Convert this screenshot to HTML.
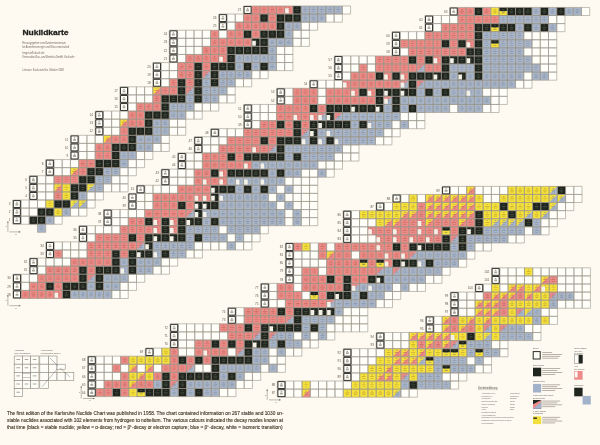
<!DOCTYPE html>
<html><head><meta charset="utf-8"><style>
html,body{margin:0;padding:0;background:#fefaf1;}
#p{position:relative;width:600px;height:445px;overflow:hidden;background:#fefaf1;font-family:"Liberation Sans",sans-serif;}
svg{position:absolute;left:0;top:0;font-family:"Liberation Sans",sans-serif;}
.t{position:absolute;white-space:nowrap;color:#3d3528;}
</style></head><body><div id="p">
<svg width="600" height="445" viewBox="0 0 600 445">
<defs><path id="t" d="M3.3 1.6h1.6v.7h-1.6zM2.2 3.4h3.8v.7h-3.8zM2.6 5.2h3v.6h-3z"/></defs>
<path fill="#fffef9" d="M20.99 216.16h8.24v8.085h-8.24zM53.95 216.16h8.24v8.085h-8.24zM20.99 208.08h8.24v8.085h-8.24zM29.23 208.08h8.24v8.085h-8.24zM70.43 208.08h8.24v8.085h-8.24zM78.67 208.08h8.24v8.085h-8.24zM20.99 200h8.24v8.085h-8.24zM29.23 200h8.24v8.085h-8.24zM37.47 200h8.24v8.085h-8.24zM86.91 200h8.24v8.085h-8.24zM37.47 191.91h8.24v8.085h-8.24zM45.71 191.91h8.24v8.085h-8.24zM86.91 191.91h8.24v8.085h-8.24zM95.15 191.91h8.24v8.085h-8.24zM37.47 183.82h8.24v8.085h-8.24zM45.71 183.82h8.24v8.085h-8.24zM103.39 183.82h8.24v8.085h-8.24zM111.63 183.82h8.24v8.085h-8.24zM119.87 183.82h8.24v8.085h-8.24zM37.47 175.74h8.24v8.085h-8.24zM45.71 175.74h8.24v8.085h-8.24zM111.63 175.74h8.24v8.085h-8.24zM119.87 175.74h8.24v8.085h-8.24zM53.95 167.66h8.24v8.085h-8.24zM62.19 167.66h8.24v8.085h-8.24zM119.87 167.66h8.24v8.085h-8.24zM128.11 167.66h8.24v8.085h-8.24zM53.95 159.57h8.24v8.085h-8.24zM62.19 159.57h8.24v8.085h-8.24zM70.43 159.57h8.24v8.085h-8.24zM128.11 159.57h8.24v8.085h-8.24zM136.35 159.57h8.24v8.085h-8.24zM78.67 151.48h8.24v8.085h-8.24zM86.91 151.48h8.24v8.085h-8.24zM136.35 151.48h8.24v8.085h-8.24zM144.59 151.48h8.24v8.085h-8.24zM78.67 143.4h8.24v8.085h-8.24zM86.91 143.4h8.24v8.085h-8.24zM152.83 143.4h8.24v8.085h-8.24zM161.07 143.4h8.24v8.085h-8.24zM78.67 135.31h8.24v8.085h-8.24zM86.91 135.31h8.24v8.085h-8.24zM95.15 135.31h8.24v8.085h-8.24zM161.07 135.31h8.24v8.085h-8.24zM103.39 127.23h8.24v8.085h-8.24zM111.63 127.23h8.24v8.085h-8.24zM169.31 127.23h8.24v8.085h-8.24zM177.55 127.23h8.24v8.085h-8.24zM103.39 119.14h8.24v8.085h-8.24zM111.63 119.14h8.24v8.085h-8.24zM169.31 119.14h8.24v8.085h-8.24zM177.55 119.14h8.24v8.085h-8.24zM103.39 111.06h8.24v8.085h-8.24zM111.63 111.06h8.24v8.085h-8.24zM119.87 111.06h8.24v8.085h-8.24zM185.79 111.06h8.24v8.085h-8.24zM194.03 111.06h8.24v8.085h-8.24zM128.11 102.97h8.24v8.085h-8.24zM194.03 102.97h8.24v8.085h-8.24zM202.27 102.97h8.24v8.085h-8.24zM210.51 102.97h8.24v8.085h-8.24zM128.11 94.89h8.24v8.085h-8.24zM136.35 94.89h8.24v8.085h-8.24zM144.59 94.89h8.24v8.085h-8.24zM218.75 94.89h8.24v8.085h-8.24zM226.99 94.89h8.24v8.085h-8.24zM128.11 86.8h8.24v8.085h-8.24zM136.35 86.8h8.24v8.085h-8.24zM144.59 86.8h8.24v8.085h-8.24zM226.99 86.8h8.24v8.085h-8.24zM161.07 78.72h8.24v8.085h-8.24zM235.23 78.72h8.24v8.085h-8.24zM243.47 78.72h8.24v8.085h-8.24zM161.07 70.63h8.24v8.085h-8.24zM169.31 70.63h8.24v8.085h-8.24zM251.71 70.63h8.24v8.085h-8.24zM259.95 70.63h8.24v8.085h-8.24zM161.07 62.55h8.24v8.085h-8.24zM169.31 62.55h8.24v8.085h-8.24zM276.43 62.55h8.24v8.085h-8.24zM284.67 62.55h8.24v8.085h-8.24zM177.55 54.46h8.24v8.085h-8.24zM276.43 54.46h8.24v8.085h-8.24zM284.67 54.46h8.24v8.085h-8.24zM177.55 46.38h8.24v8.085h-8.24zM185.79 46.38h8.24v8.085h-8.24zM194.03 46.38h8.24v8.085h-8.24zM276.43 46.38h8.24v8.085h-8.24zM284.67 46.38h8.24v8.085h-8.24zM177.55 38.29h8.24v8.085h-8.24zM185.79 38.29h8.24v8.085h-8.24zM194.03 38.29h8.24v8.085h-8.24zM202.27 38.29h8.24v8.085h-8.24zM292.91 38.29h8.24v8.085h-8.24zM301.15 38.29h8.24v8.085h-8.24zM177.55 30.21h8.24v8.085h-8.24zM185.79 30.21h8.24v8.085h-8.24zM194.03 30.21h8.24v8.085h-8.24zM202.27 30.21h8.24v8.085h-8.24zM218.75 30.21h8.24v8.085h-8.24zM292.91 30.21h8.24v8.085h-8.24zM301.15 30.21h8.24v8.085h-8.24zM226.99 22.12h8.24v8.085h-8.24zM301.15 22.12h8.24v8.085h-8.24zM309.39 22.12h8.24v8.085h-8.24zM226.99 14.04h8.24v8.085h-8.24zM235.23 14.04h8.24v8.085h-8.24zM325.87 14.04h8.24v8.085h-8.24zM334.11 14.04h8.24v8.085h-8.24zM342.35 5.95h8.24v8.085h-8.24zM111.78 290.4h8.24v8.085h-8.24zM120.02 290.4h8.24v8.085h-8.24zM21.14 282.31h8.24v8.085h-8.24zM120.02 282.31h8.24v8.085h-8.24zM128.26 282.31h8.24v8.085h-8.24zM21.14 274.23h8.24v8.085h-8.24zM29.38 274.23h8.24v8.085h-8.24zM128.26 274.23h8.24v8.085h-8.24zM136.5 274.23h8.24v8.085h-8.24zM37.62 266.14h8.24v8.085h-8.24zM152.98 266.14h8.24v8.085h-8.24zM161.22 266.14h8.24v8.085h-8.24zM37.62 258.06h8.24v8.085h-8.24zM45.86 258.06h8.24v8.085h-8.24zM54.1 258.06h8.24v8.085h-8.24zM62.34 258.06h8.24v8.085h-8.24zM161.22 258.06h8.24v8.085h-8.24zM169.46 258.06h8.24v8.085h-8.24zM62.34 249.97h8.24v8.085h-8.24zM70.58 249.97h8.24v8.085h-8.24zM78.82 249.97h8.24v8.085h-8.24zM185.94 249.97h8.24v8.085h-8.24zM194.18 249.97h8.24v8.085h-8.24zM54.1 241.89h8.24v8.085h-8.24zM62.34 241.89h8.24v8.085h-8.24zM70.58 241.89h8.24v8.085h-8.24zM78.82 241.89h8.24v8.085h-8.24zM194.18 241.89h8.24v8.085h-8.24zM202.42 241.89h8.24v8.085h-8.24zM210.66 241.89h8.24v8.085h-8.24zM218.9 241.89h8.24v8.085h-8.24zM235.38 241.89h8.24v8.085h-8.24zM243.62 241.89h8.24v8.085h-8.24zM87.06 233.8h8.24v8.085h-8.24zM227.14 233.8h8.24v8.085h-8.24zM243.62 233.8h8.24v8.085h-8.24zM251.86 233.8h8.24v8.085h-8.24zM87.06 225.72h8.24v8.085h-8.24zM95.3 225.72h8.24v8.085h-8.24zM103.54 225.72h8.24v8.085h-8.24zM111.78 225.72h8.24v8.085h-8.24zM218.9 225.72h8.24v8.085h-8.24zM260.1 225.72h8.24v8.085h-8.24zM111.78 217.63h8.24v8.085h-8.24zM120.02 217.63h8.24v8.085h-8.24zM284.82 217.63h8.24v8.085h-8.24zM301.3 217.63h8.24v8.085h-8.24zM309.54 217.63h8.24v8.085h-8.24zM111.78 209.55h8.24v8.085h-8.24zM120.02 209.55h8.24v8.085h-8.24zM128.26 209.55h8.24v8.085h-8.24zM136.5 209.55h8.24v8.085h-8.24zM284.82 209.55h8.24v8.085h-8.24zM301.3 209.55h8.24v8.085h-8.24zM309.54 209.55h8.24v8.085h-8.24zM136.5 201.46h8.24v8.085h-8.24zM144.74 201.46h8.24v8.085h-8.24zM276.58 201.46h8.24v8.085h-8.24zM293.06 201.46h8.24v8.085h-8.24zM301.3 201.46h8.24v8.085h-8.24zM309.54 201.46h8.24v8.085h-8.24zM136.5 193.38h8.24v8.085h-8.24zM144.74 193.38h8.24v8.085h-8.24zM268.34 193.38h8.24v8.085h-8.24zM284.82 193.38h8.24v8.085h-8.24zM293.06 193.38h8.24v8.085h-8.24zM301.3 193.38h8.24v8.085h-8.24zM309.54 193.38h8.24v8.085h-8.24zM144.74 185.29h8.24v8.085h-8.24zM152.98 185.29h8.24v8.085h-8.24zM161.22 185.29h8.24v8.085h-8.24zM169.46 185.29h8.24v8.085h-8.24zM276.58 185.29h8.24v8.085h-8.24zM293.06 185.29h8.24v8.085h-8.24zM301.3 185.29h8.24v8.085h-8.24zM309.54 185.29h8.24v8.085h-8.24zM169.46 177.21h8.24v8.085h-8.24zM177.7 177.21h8.24v8.085h-8.24zM185.94 177.21h8.24v8.085h-8.24zM284.82 177.21h8.24v8.085h-8.24zM293.06 177.21h8.24v8.085h-8.24zM301.3 177.21h8.24v8.085h-8.24zM309.54 177.21h8.24v8.085h-8.24zM169.46 169.12h8.24v8.085h-8.24zM177.7 169.12h8.24v8.085h-8.24zM185.94 169.12h8.24v8.085h-8.24zM301.3 169.12h8.24v8.085h-8.24zM309.54 169.12h8.24v8.085h-8.24zM326.02 169.12h8.24v8.085h-8.24zM185.94 161.04h8.24v8.085h-8.24zM194.18 161.04h8.24v8.085h-8.24zM317.78 161.04h8.24v8.085h-8.24zM326.02 161.04h8.24v8.085h-8.24zM334.26 161.04h8.24v8.085h-8.24zM185.94 152.95h8.24v8.085h-8.24zM194.18 152.95h8.24v8.085h-8.24zM334.26 152.95h8.24v8.085h-8.24zM342.5 152.95h8.24v8.085h-8.24zM350.74 152.95h8.24v8.085h-8.24zM202.42 144.87h8.24v8.085h-8.24zM210.66 144.87h8.24v8.085h-8.24zM342.5 144.87h8.24v8.085h-8.24zM350.74 144.87h8.24v8.085h-8.24zM202.42 136.78h8.24v8.085h-8.24zM210.66 136.78h8.24v8.085h-8.24zM218.9 136.78h8.24v8.085h-8.24zM375.46 136.78h8.24v8.085h-8.24zM383.7 136.78h8.24v8.085h-8.24zM218.9 128.7h8.24v8.085h-8.24zM227.14 128.7h8.24v8.085h-8.24zM235.38 128.7h8.24v8.085h-8.24zM383.7 128.7h8.24v8.085h-8.24zM391.94 128.7h8.24v8.085h-8.24zM251.86 120.61h8.24v8.085h-8.24zM391.94 120.61h8.24v8.085h-8.24zM408.42 120.61h8.24v8.085h-8.24zM416.66 120.61h8.24v8.085h-8.24zM251.86 112.53h8.24v8.085h-8.24zM260.1 112.53h8.24v8.085h-8.24zM268.34 112.53h8.24v8.085h-8.24zM400.18 112.53h8.24v8.085h-8.24zM408.42 112.53h8.24v8.085h-8.24zM416.66 112.53h8.24v8.085h-8.24zM251.86 104.44h8.24v8.085h-8.24zM260.1 104.44h8.24v8.085h-8.24zM268.34 104.44h8.24v8.085h-8.24zM449.62 104.44h8.24v8.085h-8.24zM482.58 104.44h8.24v8.085h-8.24zM490.82 104.44h8.24v8.085h-8.24zM284.82 96.36h8.24v8.085h-8.24zM317.78 96.36h8.24v8.085h-8.24zM490.82 96.36h8.24v8.085h-8.24zM499.06 96.36h8.24v8.085h-8.24zM284.82 88.27h8.24v8.085h-8.24zM317.78 88.27h8.24v8.085h-8.24zM482.58 88.27h8.24v8.085h-8.24zM490.82 88.27h8.24v8.085h-8.24zM499.06 88.27h8.24v8.085h-8.24zM317.78 80.19h8.24v8.085h-8.24zM326.02 80.19h8.24v8.085h-8.24zM334.26 80.19h8.24v8.085h-8.24zM515.54 80.19h8.24v8.085h-8.24zM523.78 80.19h8.24v8.085h-8.24zM342.5 72.1h8.24v8.085h-8.24zM523.78 72.1h8.24v8.085h-8.24zM548.5 72.1h8.24v8.085h-8.24zM342.5 64.02h8.24v8.085h-8.24zM350.74 64.02h8.24v8.085h-8.24zM367.22 64.02h8.24v8.085h-8.24zM540.26 64.02h8.24v8.085h-8.24zM548.5 64.02h8.24v8.085h-8.24zM342.5 55.93h8.24v8.085h-8.24zM350.74 55.93h8.24v8.085h-8.24zM358.98 55.93h8.24v8.085h-8.24zM367.22 55.93h8.24v8.085h-8.24zM532.02 55.93h8.24v8.085h-8.24zM540.26 55.93h8.24v8.085h-8.24zM548.5 55.93h8.24v8.085h-8.24zM400.18 47.85h8.24v8.085h-8.24zM523.78 47.85h8.24v8.085h-8.24zM532.02 47.85h8.24v8.085h-8.24zM540.26 47.85h8.24v8.085h-8.24zM548.5 47.85h8.24v8.085h-8.24zM532.02 39.76h8.24v8.085h-8.24zM540.26 39.76h8.24v8.085h-8.24zM548.5 39.76h8.24v8.085h-8.24zM400.18 31.68h8.24v8.085h-8.24zM408.42 31.68h8.24v8.085h-8.24zM416.66 31.68h8.24v8.085h-8.24zM523.78 31.68h8.24v8.085h-8.24zM532.02 31.68h8.24v8.085h-8.24zM540.26 31.68h8.24v8.085h-8.24zM548.5 31.68h8.24v8.085h-8.24zM433.14 23.59h8.24v8.085h-8.24zM556.74 23.59h8.24v8.085h-8.24zM433.14 15.51h8.24v8.085h-8.24zM441.38 15.51h8.24v8.085h-8.24zM449.62 15.51h8.24v8.085h-8.24zM548.5 15.51h8.24v8.085h-8.24zM556.74 15.51h8.24v8.085h-8.24zM581.46 7.42h8.24v8.085h-8.24zM219.48 388.5h8.24v8.085h-8.24zM227.72 388.5h8.24v8.085h-8.24zM95.88 380.42h8.24v8.085h-8.24zM235.96 380.42h8.24v8.085h-8.24zM244.2 380.42h8.24v8.085h-8.24zM95.88 372.33h8.24v8.085h-8.24zM104.12 372.33h8.24v8.085h-8.24zM112.36 372.33h8.24v8.085h-8.24zM244.2 372.33h8.24v8.085h-8.24zM252.44 372.33h8.24v8.085h-8.24zM95.88 364.25h8.24v8.085h-8.24zM104.12 364.25h8.24v8.085h-8.24zM120.6 364.25h8.24v8.085h-8.24zM137.08 364.25h8.24v8.085h-8.24zM153.56 364.25h8.24v8.085h-8.24zM194.76 364.25h8.24v8.085h-8.24zM203 364.25h8.24v8.085h-8.24zM260.68 364.25h8.24v8.085h-8.24zM277.16 364.25h8.24v8.085h-8.24zM95.88 356.16h8.24v8.085h-8.24zM104.12 356.16h8.24v8.085h-8.24zM112.36 356.16h8.24v8.085h-8.24zM268.92 356.16h8.24v8.085h-8.24zM277.16 356.16h8.24v8.085h-8.24zM153.56 348.07h8.24v8.085h-8.24zM178.28 348.07h8.24v8.085h-8.24zM186.52 348.07h8.24v8.085h-8.24zM227.72 348.07h8.24v8.085h-8.24zM268.92 348.07h8.24v8.085h-8.24zM285.4 348.07h8.24v8.085h-8.24zM293.64 348.07h8.24v8.085h-8.24zM178.28 339.99h8.24v8.085h-8.24zM186.52 339.99h8.24v8.085h-8.24zM301.88 339.99h8.24v8.085h-8.24zM310.12 339.99h8.24v8.085h-8.24zM178.28 331.9h8.24v8.085h-8.24zM186.52 331.9h8.24v8.085h-8.24zM194.76 331.9h8.24v8.085h-8.24zM203 331.9h8.24v8.085h-8.24zM211.24 331.9h8.24v8.085h-8.24zM219.48 331.9h8.24v8.085h-8.24zM293.64 331.9h8.24v8.085h-8.24zM310.12 331.9h8.24v8.085h-8.24zM326.6 331.9h8.24v8.085h-8.24zM178.28 323.82h8.24v8.085h-8.24zM186.52 323.82h8.24v8.085h-8.24zM194.76 323.82h8.24v8.085h-8.24zM203 323.82h8.24v8.085h-8.24zM211.24 323.82h8.24v8.085h-8.24zM326.6 323.82h8.24v8.085h-8.24zM334.84 323.82h8.24v8.085h-8.24zM343.08 323.82h8.24v8.085h-8.24zM351.32 323.82h8.24v8.085h-8.24zM359.56 323.82h8.24v8.085h-8.24zM235.96 315.74h8.24v8.085h-8.24zM334.84 315.74h8.24v8.085h-8.24zM343.08 315.74h8.24v8.085h-8.24zM351.32 315.74h8.24v8.085h-8.24zM359.56 315.74h8.24v8.085h-8.24zM235.96 307.65h8.24v8.085h-8.24zM343.08 307.65h8.24v8.085h-8.24zM351.32 307.65h8.24v8.085h-8.24zM359.56 307.65h8.24v8.085h-8.24zM268.92 299.56h8.24v8.085h-8.24zM277.16 299.56h8.24v8.085h-8.24zM376.04 299.56h8.24v8.085h-8.24zM384.28 299.56h8.24v8.085h-8.24zM268.92 291.48h8.24v8.085h-8.24zM301.88 291.48h8.24v8.085h-8.24zM384.28 291.48h8.24v8.085h-8.24zM392.52 291.48h8.24v8.085h-8.24zM268.92 283.39h8.24v8.085h-8.24zM293.64 283.39h8.24v8.085h-8.24zM392.52 283.39h8.24v8.085h-8.24zM409 283.39h8.24v8.085h-8.24zM417.24 283.39h8.24v8.085h-8.24zM293.64 275.31h8.24v8.085h-8.24zM425.48 275.31h8.24v8.085h-8.24zM433.72 275.31h8.24v8.085h-8.24zM293.64 267.23h8.24v8.085h-8.24zM318.36 267.23h8.24v8.085h-8.24zM441.96 267.23h8.24v8.085h-8.24zM293.64 259.14h8.24v8.085h-8.24zM301.88 259.14h8.24v8.085h-8.24zM310.12 259.14h8.24v8.085h-8.24zM318.36 259.14h8.24v8.085h-8.24zM458.44 259.14h8.24v8.085h-8.24zM293.64 251.05h8.24v8.085h-8.24zM301.88 251.05h8.24v8.085h-8.24zM310.12 251.05h8.24v8.085h-8.24zM351.32 251.05h8.24v8.085h-8.24zM466.68 251.05h8.24v8.085h-8.24zM310.12 242.97h8.24v8.085h-8.24zM326.6 242.97h8.24v8.085h-8.24zM474.92 242.97h8.24v8.085h-8.24zM483.16 242.97h8.24v8.085h-8.24zM351.32 234.88h8.24v8.085h-8.24zM359.56 234.88h8.24v8.085h-8.24zM367.8 234.88h8.24v8.085h-8.24zM507.88 234.88h8.24v8.085h-8.24zM516.12 234.88h8.24v8.085h-8.24zM351.32 226.8h8.24v8.085h-8.24zM359.56 226.8h8.24v8.085h-8.24zM524.36 226.8h8.24v8.085h-8.24zM540.84 226.8h8.24v8.085h-8.24zM351.32 218.71h8.24v8.085h-8.24zM359.56 218.71h8.24v8.085h-8.24zM367.8 218.71h8.24v8.085h-8.24zM540.84 218.71h8.24v8.085h-8.24zM549.08 218.71h8.24v8.085h-8.24zM351.32 210.63h8.24v8.085h-8.24zM549.08 210.63h8.24v8.085h-8.24zM557.32 210.63h8.24v8.085h-8.24zM384.28 202.54h8.24v8.085h-8.24zM557.32 202.54h8.24v8.085h-8.24zM565.56 202.54h8.24v8.085h-8.24zM400.76 194.46h8.24v8.085h-8.24zM417.24 194.46h8.24v8.085h-8.24zM483.16 194.46h8.24v8.085h-8.24zM491.4 194.46h8.24v8.085h-8.24zM565.56 194.46h8.24v8.085h-8.24zM573.8 194.46h8.24v8.085h-8.24zM450.2 186.37h8.24v8.085h-8.24zM458.44 186.37h8.24v8.085h-8.24zM474.92 186.37h8.24v8.085h-8.24zM483.16 186.37h8.24v8.085h-8.24zM491.4 186.37h8.24v8.085h-8.24zM499.64 186.37h8.24v8.085h-8.24zM565.56 186.37h8.24v8.085h-8.24zM573.8 186.37h8.24v8.085h-8.24zM285.54 389.1h8.24v8.085h-8.24zM293.78 389.1h8.24v8.085h-8.24zM310.26 389.1h8.24v8.085h-8.24zM318.5 389.1h8.24v8.085h-8.24zM326.74 389.1h8.24v8.085h-8.24zM334.98 389.1h8.24v8.085h-8.24zM400.9 389.1h8.24v8.085h-8.24zM409.14 389.1h8.24v8.085h-8.24zM285.54 381.02h8.24v8.085h-8.24zM293.78 381.02h8.24v8.085h-8.24zM310.26 381.02h8.24v8.085h-8.24zM318.5 381.02h8.24v8.085h-8.24zM326.74 381.02h8.24v8.085h-8.24zM334.98 381.02h8.24v8.085h-8.24zM343.22 381.02h8.24v8.085h-8.24zM450.34 381.02h8.24v8.085h-8.24zM351.46 372.93h8.24v8.085h-8.24zM442.1 372.93h8.24v8.085h-8.24zM450.34 372.93h8.24v8.085h-8.24zM458.58 372.93h8.24v8.085h-8.24zM351.46 364.85h8.24v8.085h-8.24zM359.7 364.85h8.24v8.085h-8.24zM475.06 364.85h8.24v8.085h-8.24zM483.3 364.85h8.24v8.085h-8.24zM351.46 356.76h8.24v8.085h-8.24zM359.7 356.76h8.24v8.085h-8.24zM367.94 356.76h8.24v8.085h-8.24zM466.82 356.76h8.24v8.085h-8.24zM483.3 356.76h8.24v8.085h-8.24zM351.46 348.68h8.24v8.085h-8.24zM359.7 348.68h8.24v8.085h-8.24zM367.94 348.68h8.24v8.085h-8.24zM376.18 348.68h8.24v8.085h-8.24zM499.78 348.68h8.24v8.085h-8.24zM384.42 340.59h8.24v8.085h-8.24zM392.66 340.59h8.24v8.085h-8.24zM400.9 340.59h8.24v8.085h-8.24zM491.54 340.59h8.24v8.085h-8.24zM499.78 340.59h8.24v8.085h-8.24zM384.42 332.5h8.24v8.085h-8.24zM392.66 332.5h8.24v8.085h-8.24zM400.9 332.5h8.24v8.085h-8.24zM532.74 332.5h8.24v8.085h-8.24zM433.86 324.42h8.24v8.085h-8.24zM524.5 324.42h8.24v8.085h-8.24zM532.74 324.42h8.24v8.085h-8.24zM433.86 316.34h8.24v8.085h-8.24zM549.22 316.34h8.24v8.085h-8.24zM458.58 308.25h8.24v8.085h-8.24zM466.82 308.25h8.24v8.085h-8.24zM540.98 308.25h8.24v8.085h-8.24zM549.22 308.25h8.24v8.085h-8.24zM458.58 300.17h8.24v8.085h-8.24zM466.82 300.17h8.24v8.085h-8.24zM557.46 300.17h8.24v8.085h-8.24zM565.7 300.17h8.24v8.085h-8.24zM573.94 300.17h8.24v8.085h-8.24zM582.18 300.17h8.24v8.085h-8.24zM458.58 292.08h8.24v8.085h-8.24zM466.82 292.08h8.24v8.085h-8.24zM475.06 292.08h8.24v8.085h-8.24zM573.94 292.08h8.24v8.085h-8.24zM582.18 292.08h8.24v8.085h-8.24zM483.3 284h8.24v8.085h-8.24zM499.78 284h8.24v8.085h-8.24zM557.46 284h8.24v8.085h-8.24zM565.7 284h8.24v8.085h-8.24zM573.94 284h8.24v8.085h-8.24zM582.18 284h8.24v8.085h-8.24zM499.78 275.91h8.24v8.085h-8.24zM508.02 275.91h8.24v8.085h-8.24zM516.26 275.91h8.24v8.085h-8.24zM524.5 275.91h8.24v8.085h-8.24zM532.74 275.91h8.24v8.085h-8.24zM557.46 275.91h8.24v8.085h-8.24zM565.7 275.91h8.24v8.085h-8.24zM573.94 275.91h8.24v8.085h-8.24zM582.18 275.91h8.24v8.085h-8.24zM499.78 267.83h8.24v8.085h-8.24zM508.02 267.83h8.24v8.085h-8.24zM516.26 267.83h8.24v8.085h-8.24zM532.74 267.83h8.24v8.085h-8.24zM540.98 267.83h8.24v8.085h-8.24zM549.22 267.83h8.24v8.085h-8.24zM557.46 267.83h8.24v8.085h-8.24zM565.7 267.83h8.24v8.085h-8.24zM573.94 267.83h8.24v8.085h-8.24zM582.18 267.83h8.24v8.085h-8.24z"/>
<path fill="#fffef9" d="M12.75 216.16h8.24v8.085h-8.24zM12.75 208.08h8.24v8.085h-8.24zM12.75 200h8.24v8.085h-8.24zM29.23 191.91h8.24v8.085h-8.24zM29.23 183.82h8.24v8.085h-8.24zM29.23 175.74h8.24v8.085h-8.24zM45.71 167.66h8.24v8.085h-8.24zM45.71 159.57h8.24v8.085h-8.24zM70.43 151.48h8.24v8.085h-8.24zM70.43 143.4h8.24v8.085h-8.24zM70.43 135.31h8.24v8.085h-8.24zM95.15 127.23h8.24v8.085h-8.24zM95.15 119.14h8.24v8.085h-8.24zM95.15 111.06h8.24v8.085h-8.24zM119.87 102.97h8.24v8.085h-8.24zM119.87 94.89h8.24v8.085h-8.24zM119.87 86.8h8.24v8.085h-8.24zM152.83 78.72h8.24v8.085h-8.24zM152.83 70.63h8.24v8.085h-8.24zM152.83 62.55h8.24v8.085h-8.24zM169.31 54.46h8.24v8.085h-8.24zM169.31 46.38h8.24v8.085h-8.24zM169.31 38.29h8.24v8.085h-8.24zM169.31 30.21h8.24v8.085h-8.24zM218.75 22.12h8.24v8.085h-8.24zM218.75 14.04h8.24v8.085h-8.24zM243.47 5.95h8.24v8.085h-8.24zM12.9 290.4h8.24v8.085h-8.24zM12.9 282.31h8.24v8.085h-8.24zM12.9 274.23h8.24v8.085h-8.24zM29.38 266.14h8.24v8.085h-8.24zM29.38 258.06h8.24v8.085h-8.24zM45.86 249.97h8.24v8.085h-8.24zM45.86 241.89h8.24v8.085h-8.24zM78.82 233.8h8.24v8.085h-8.24zM78.82 225.72h8.24v8.085h-8.24zM103.54 217.63h8.24v8.085h-8.24zM103.54 209.55h8.24v8.085h-8.24zM128.26 201.46h8.24v8.085h-8.24zM128.26 193.38h8.24v8.085h-8.24zM136.5 185.29h8.24v8.085h-8.24zM161.22 177.21h8.24v8.085h-8.24zM161.22 169.12h8.24v8.085h-8.24zM177.7 161.04h8.24v8.085h-8.24zM177.7 152.95h8.24v8.085h-8.24zM194.18 144.87h8.24v8.085h-8.24zM194.18 136.78h8.24v8.085h-8.24zM210.66 128.7h8.24v8.085h-8.24zM243.62 120.61h8.24v8.085h-8.24zM243.62 112.53h8.24v8.085h-8.24zM243.62 104.44h8.24v8.085h-8.24zM276.58 96.36h8.24v8.085h-8.24zM276.58 88.27h8.24v8.085h-8.24zM309.54 80.19h8.24v8.085h-8.24zM334.26 72.1h8.24v8.085h-8.24zM334.26 64.02h8.24v8.085h-8.24zM334.26 55.93h8.24v8.085h-8.24zM391.94 47.85h8.24v8.085h-8.24zM391.94 39.76h8.24v8.085h-8.24zM391.94 31.68h8.24v8.085h-8.24zM424.9 23.59h8.24v8.085h-8.24zM424.9 15.51h8.24v8.085h-8.24zM449.62 7.42h8.24v8.085h-8.24zM87.64 388.5h8.24v8.085h-8.24zM87.64 380.42h8.24v8.085h-8.24zM87.64 372.33h8.24v8.085h-8.24zM87.64 364.25h8.24v8.085h-8.24zM87.64 356.16h8.24v8.085h-8.24zM145.32 348.07h8.24v8.085h-8.24zM170.04 339.99h8.24v8.085h-8.24zM170.04 331.9h8.24v8.085h-8.24zM170.04 323.82h8.24v8.085h-8.24zM227.72 315.74h8.24v8.085h-8.24zM227.72 307.65h8.24v8.085h-8.24zM260.68 299.56h8.24v8.085h-8.24zM260.68 291.48h8.24v8.085h-8.24zM260.68 283.39h8.24v8.085h-8.24zM285.4 275.31h8.24v8.085h-8.24zM285.4 267.23h8.24v8.085h-8.24zM285.4 259.14h8.24v8.085h-8.24zM285.4 251.05h8.24v8.085h-8.24zM285.4 242.97h8.24v8.085h-8.24zM343.08 234.88h8.24v8.085h-8.24zM343.08 226.8h8.24v8.085h-8.24zM343.08 218.71h8.24v8.085h-8.24zM343.08 210.63h8.24v8.085h-8.24zM376.04 202.54h8.24v8.085h-8.24zM392.52 194.46h8.24v8.085h-8.24zM441.96 186.37h8.24v8.085h-8.24zM277.3 389.1h8.24v8.085h-8.24zM277.3 381.02h8.24v8.085h-8.24zM343.22 372.93h8.24v8.085h-8.24zM343.22 364.85h8.24v8.085h-8.24zM343.22 356.76h8.24v8.085h-8.24zM343.22 348.68h8.24v8.085h-8.24zM376.18 340.59h8.24v8.085h-8.24zM376.18 332.5h8.24v8.085h-8.24zM425.62 324.42h8.24v8.085h-8.24zM425.62 316.34h8.24v8.085h-8.24zM450.34 308.25h8.24v8.085h-8.24zM450.34 300.17h8.24v8.085h-8.24zM450.34 292.08h8.24v8.085h-8.24zM475.06 284h8.24v8.085h-8.24zM491.54 275.91h8.24v8.085h-8.24zM491.54 267.83h8.24v8.085h-8.24z"/>
<path fill="#ec8a85" d="M53.95 191.91h8.24v8.085h-8.24zM53.95 183.82h8.24v8.085h-8.24zM53.95 175.74h8.24v8.085h-8.24zM62.19 175.74h8.24v8.085h-8.24zM70.43 175.74h8.24v8.085h-8.24zM70.43 167.66h8.24v8.085h-8.24zM78.67 167.66h8.24v8.085h-8.24zM78.67 159.57h8.24v8.085h-8.24zM86.91 159.57h8.24v8.085h-8.24zM95.15 151.48h8.24v8.085h-8.24zM103.39 151.48h8.24v8.085h-8.24zM95.15 143.4h8.24v8.085h-8.24zM103.39 143.4h8.24v8.085h-8.24zM103.39 135.31h8.24v8.085h-8.24zM111.63 135.31h8.24v8.085h-8.24zM119.87 135.31h8.24v8.085h-8.24zM119.87 127.23h8.24v8.085h-8.24zM119.87 119.14h8.24v8.085h-8.24zM128.11 119.14h8.24v8.085h-8.24zM136.35 119.14h8.24v8.085h-8.24zM128.11 111.06h8.24v8.085h-8.24zM136.35 111.06h8.24v8.085h-8.24zM136.35 102.97h8.24v8.085h-8.24zM144.59 102.97h8.24v8.085h-8.24zM152.83 102.97h8.24v8.085h-8.24zM152.83 94.89h8.24v8.085h-8.24zM152.83 86.8h8.24v8.085h-8.24zM161.07 86.8h8.24v8.085h-8.24zM169.31 86.8h8.24v8.085h-8.24zM169.31 78.72h8.24v8.085h-8.24zM185.79 78.72h8.24v8.085h-8.24zM177.55 70.63h8.24v8.085h-8.24zM185.79 70.63h8.24v8.085h-8.24zM177.55 62.55h8.24v8.085h-8.24zM185.79 62.55h8.24v8.085h-8.24zM202.27 62.55h8.24v8.085h-8.24zM185.79 54.46h8.24v8.085h-8.24zM194.03 54.46h8.24v8.085h-8.24zM202.27 54.46h8.24v8.085h-8.24zM210.51 54.46h8.24v8.085h-8.24zM218.75 54.46h8.24v8.085h-8.24zM202.27 46.38h8.24v8.085h-8.24zM210.51 46.38h8.24v8.085h-8.24zM218.75 46.38h8.24v8.085h-8.24zM210.51 38.29h8.24v8.085h-8.24zM218.75 38.29h8.24v8.085h-8.24zM226.99 38.29h8.24v8.085h-8.24zM235.23 38.29h8.24v8.085h-8.24zM243.47 38.29h8.24v8.085h-8.24zM210.51 30.21h8.24v8.085h-8.24zM226.99 30.21h8.24v8.085h-8.24zM235.23 30.21h8.24v8.085h-8.24zM251.71 30.21h8.24v8.085h-8.24zM235.23 22.12h8.24v8.085h-8.24zM243.47 22.12h8.24v8.085h-8.24zM251.71 22.12h8.24v8.085h-8.24zM259.95 22.12h8.24v8.085h-8.24zM268.19 22.12h8.24v8.085h-8.24zM243.47 14.04h8.24v8.085h-8.24zM251.71 14.04h8.24v8.085h-8.24zM268.19 14.04h8.24v8.085h-8.24zM251.71 5.95h8.24v8.085h-8.24zM259.95 5.95h8.24v8.085h-8.24zM268.19 5.95h8.24v8.085h-8.24zM276.43 5.95h8.24v8.085h-8.24zM284.67 5.95h8.24v8.085h-8.24zM21.14 290.4h8.24v8.085h-8.24zM29.38 290.4h8.24v8.085h-8.24zM37.62 290.4h8.24v8.085h-8.24zM45.86 290.4h8.24v8.085h-8.24zM54.1 290.4h8.24v8.085h-8.24zM29.38 282.31h8.24v8.085h-8.24zM37.62 282.31h8.24v8.085h-8.24zM54.1 282.31h8.24v8.085h-8.24zM37.62 274.23h8.24v8.085h-8.24zM45.86 274.23h8.24v8.085h-8.24zM54.1 274.23h8.24v8.085h-8.24zM62.34 274.23h8.24v8.085h-8.24zM70.58 274.23h8.24v8.085h-8.24zM45.86 266.14h8.24v8.085h-8.24zM54.1 266.14h8.24v8.085h-8.24zM62.34 266.14h8.24v8.085h-8.24zM70.58 266.14h8.24v8.085h-8.24zM87.06 266.14h8.24v8.085h-8.24zM70.58 258.06h8.24v8.085h-8.24zM78.82 258.06h8.24v8.085h-8.24zM87.06 258.06h8.24v8.085h-8.24zM95.3 258.06h8.24v8.085h-8.24zM103.54 258.06h8.24v8.085h-8.24zM54.1 249.97h8.24v8.085h-8.24zM87.06 249.97h8.24v8.085h-8.24zM95.3 249.97h8.24v8.085h-8.24zM103.54 249.97h8.24v8.085h-8.24zM120.02 249.97h8.24v8.085h-8.24zM87.06 241.89h8.24v8.085h-8.24zM95.3 241.89h8.24v8.085h-8.24zM103.54 241.89h8.24v8.085h-8.24zM111.78 241.89h8.24v8.085h-8.24zM120.02 241.89h8.24v8.085h-8.24zM128.26 241.89h8.24v8.085h-8.24zM95.3 233.8h8.24v8.085h-8.24zM103.54 233.8h8.24v8.085h-8.24zM111.78 233.8h8.24v8.085h-8.24zM120.02 233.8h8.24v8.085h-8.24zM136.5 233.8h8.24v8.085h-8.24zM120.02 225.72h8.24v8.085h-8.24zM128.26 225.72h8.24v8.085h-8.24zM136.5 225.72h8.24v8.085h-8.24zM144.74 225.72h8.24v8.085h-8.24zM152.98 225.72h8.24v8.085h-8.24zM169.46 225.72h8.24v8.085h-8.24zM128.26 217.63h8.24v8.085h-8.24zM136.5 217.63h8.24v8.085h-8.24zM152.98 217.63h8.24v8.085h-8.24zM169.46 217.63h8.24v8.085h-8.24zM144.74 209.55h8.24v8.085h-8.24zM152.98 209.55h8.24v8.085h-8.24zM161.22 209.55h8.24v8.085h-8.24zM169.46 209.55h8.24v8.085h-8.24zM177.7 209.55h8.24v8.085h-8.24zM152.98 201.46h8.24v8.085h-8.24zM161.22 201.46h8.24v8.085h-8.24zM169.46 201.46h8.24v8.085h-8.24zM185.94 201.46h8.24v8.085h-8.24zM152.98 193.38h8.24v8.085h-8.24zM161.22 193.38h8.24v8.085h-8.24zM169.46 193.38h8.24v8.085h-8.24zM177.7 193.38h8.24v8.085h-8.24zM185.94 193.38h8.24v8.085h-8.24zM194.18 193.38h8.24v8.085h-8.24zM202.42 193.38h8.24v8.085h-8.24zM177.7 185.29h8.24v8.085h-8.24zM185.94 185.29h8.24v8.085h-8.24zM194.18 185.29h8.24v8.085h-8.24zM202.42 185.29h8.24v8.085h-8.24zM194.18 177.21h8.24v8.085h-8.24zM202.42 177.21h8.24v8.085h-8.24zM210.66 177.21h8.24v8.085h-8.24zM218.9 177.21h8.24v8.085h-8.24zM194.18 169.12h8.24v8.085h-8.24zM202.42 169.12h8.24v8.085h-8.24zM218.9 169.12h8.24v8.085h-8.24zM202.42 161.04h8.24v8.085h-8.24zM210.66 161.04h8.24v8.085h-8.24zM218.9 161.04h8.24v8.085h-8.24zM227.14 161.04h8.24v8.085h-8.24zM235.38 161.04h8.24v8.085h-8.24zM243.62 161.04h8.24v8.085h-8.24zM202.42 152.95h8.24v8.085h-8.24zM210.66 152.95h8.24v8.085h-8.24zM218.9 152.95h8.24v8.085h-8.24zM235.38 152.95h8.24v8.085h-8.24zM218.9 144.87h8.24v8.085h-8.24zM227.14 144.87h8.24v8.085h-8.24zM235.38 144.87h8.24v8.085h-8.24zM243.62 144.87h8.24v8.085h-8.24zM251.86 144.87h8.24v8.085h-8.24zM260.1 144.87h8.24v8.085h-8.24zM227.14 136.78h8.24v8.085h-8.24zM235.38 136.78h8.24v8.085h-8.24zM243.62 136.78h8.24v8.085h-8.24zM251.86 136.78h8.24v8.085h-8.24zM268.34 136.78h8.24v8.085h-8.24zM243.62 128.7h8.24v8.085h-8.24zM251.86 128.7h8.24v8.085h-8.24zM260.1 128.7h8.24v8.085h-8.24zM268.34 128.7h8.24v8.085h-8.24zM276.58 128.7h8.24v8.085h-8.24zM284.82 128.7h8.24v8.085h-8.24zM260.1 120.61h8.24v8.085h-8.24zM268.34 120.61h8.24v8.085h-8.24zM284.82 120.61h8.24v8.085h-8.24zM301.3 120.61h8.24v8.085h-8.24zM276.58 112.53h8.24v8.085h-8.24zM284.82 112.53h8.24v8.085h-8.24zM293.06 112.53h8.24v8.085h-8.24zM301.3 112.53h8.24v8.085h-8.24zM309.54 112.53h8.24v8.085h-8.24zM276.58 104.44h8.24v8.085h-8.24zM284.82 104.44h8.24v8.085h-8.24zM293.06 104.44h8.24v8.085h-8.24zM301.3 104.44h8.24v8.085h-8.24zM317.78 104.44h8.24v8.085h-8.24zM293.06 96.36h8.24v8.085h-8.24zM301.3 96.36h8.24v8.085h-8.24zM309.54 96.36h8.24v8.085h-8.24zM326.02 96.36h8.24v8.085h-8.24zM334.26 96.36h8.24v8.085h-8.24zM342.5 96.36h8.24v8.085h-8.24zM350.74 96.36h8.24v8.085h-8.24zM358.98 96.36h8.24v8.085h-8.24zM367.22 96.36h8.24v8.085h-8.24zM293.06 88.27h8.24v8.085h-8.24zM301.3 88.27h8.24v8.085h-8.24zM309.54 88.27h8.24v8.085h-8.24zM326.02 88.27h8.24v8.085h-8.24zM334.26 88.27h8.24v8.085h-8.24zM342.5 88.27h8.24v8.085h-8.24zM350.74 88.27h8.24v8.085h-8.24zM367.22 88.27h8.24v8.085h-8.24zM342.5 80.19h8.24v8.085h-8.24zM350.74 80.19h8.24v8.085h-8.24zM358.98 80.19h8.24v8.085h-8.24zM367.22 80.19h8.24v8.085h-8.24zM375.46 80.19h8.24v8.085h-8.24zM383.7 80.19h8.24v8.085h-8.24zM391.94 80.19h8.24v8.085h-8.24zM350.74 72.1h8.24v8.085h-8.24zM358.98 72.1h8.24v8.085h-8.24zM367.22 72.1h8.24v8.085h-8.24zM383.7 72.1h8.24v8.085h-8.24zM400.18 72.1h8.24v8.085h-8.24zM358.98 64.02h8.24v8.085h-8.24zM375.46 64.02h8.24v8.085h-8.24zM383.7 64.02h8.24v8.085h-8.24zM391.94 64.02h8.24v8.085h-8.24zM400.18 64.02h8.24v8.085h-8.24zM408.42 64.02h8.24v8.085h-8.24zM424.9 64.02h8.24v8.085h-8.24zM433.14 64.02h8.24v8.085h-8.24zM375.46 55.93h8.24v8.085h-8.24zM383.7 55.93h8.24v8.085h-8.24zM391.94 55.93h8.24v8.085h-8.24zM400.18 55.93h8.24v8.085h-8.24zM416.66 55.93h8.24v8.085h-8.24zM433.14 55.93h8.24v8.085h-8.24zM408.42 47.85h8.24v8.085h-8.24zM416.66 47.85h8.24v8.085h-8.24zM424.9 47.85h8.24v8.085h-8.24zM433.14 47.85h8.24v8.085h-8.24zM441.38 47.85h8.24v8.085h-8.24zM449.62 47.85h8.24v8.085h-8.24zM457.86 47.85h8.24v8.085h-8.24zM400.18 39.76h8.24v8.085h-8.24zM408.42 39.76h8.24v8.085h-8.24zM416.66 39.76h8.24v8.085h-8.24zM424.9 39.76h8.24v8.085h-8.24zM433.14 39.76h8.24v8.085h-8.24zM449.62 39.76h8.24v8.085h-8.24zM466.1 39.76h8.24v8.085h-8.24zM424.9 31.68h8.24v8.085h-8.24zM433.14 31.68h8.24v8.085h-8.24zM441.38 31.68h8.24v8.085h-8.24zM449.62 31.68h8.24v8.085h-8.24zM457.86 31.68h8.24v8.085h-8.24zM466.1 31.68h8.24v8.085h-8.24zM441.38 23.59h8.24v8.085h-8.24zM449.62 23.59h8.24v8.085h-8.24zM457.86 23.59h8.24v8.085h-8.24zM466.1 23.59h8.24v8.085h-8.24zM457.86 15.51h8.24v8.085h-8.24zM466.1 15.51h8.24v8.085h-8.24zM474.34 15.51h8.24v8.085h-8.24zM482.58 15.51h8.24v8.085h-8.24zM490.82 15.51h8.24v8.085h-8.24zM457.86 7.42h8.24v8.085h-8.24zM466.1 7.42h8.24v8.085h-8.24zM482.58 7.42h8.24v8.085h-8.24zM95.88 388.5h8.24v8.085h-8.24zM104.12 388.5h8.24v8.085h-8.24zM120.6 388.5h8.24v8.085h-8.24zM104.12 380.42h8.24v8.085h-8.24zM112.36 380.42h8.24v8.085h-8.24zM120.6 380.42h8.24v8.085h-8.24zM128.84 380.42h8.24v8.085h-8.24zM137.08 380.42h8.24v8.085h-8.24zM145.32 380.42h8.24v8.085h-8.24zM120.6 372.33h8.24v8.085h-8.24zM137.08 372.33h8.24v8.085h-8.24zM153.56 372.33h8.24v8.085h-8.24zM170.04 372.33h8.24v8.085h-8.24zM112.36 364.25h8.24v8.085h-8.24zM128.84 364.25h8.24v8.085h-8.24zM145.32 364.25h8.24v8.085h-8.24zM161.8 364.25h8.24v8.085h-8.24zM170.04 364.25h8.24v8.085h-8.24zM178.28 364.25h8.24v8.085h-8.24zM120.6 356.16h8.24v8.085h-8.24zM170.04 356.16h8.24v8.085h-8.24zM186.52 356.16h8.24v8.085h-8.24zM203 356.16h8.24v8.085h-8.24zM170.04 348.07h8.24v8.085h-8.24zM194.76 348.07h8.24v8.085h-8.24zM203 348.07h8.24v8.085h-8.24zM211.24 348.07h8.24v8.085h-8.24zM219.48 348.07h8.24v8.085h-8.24zM194.76 339.99h8.24v8.085h-8.24zM203 339.99h8.24v8.085h-8.24zM219.48 339.99h8.24v8.085h-8.24zM235.96 339.99h8.24v8.085h-8.24zM227.72 331.9h8.24v8.085h-8.24zM235.96 331.9h8.24v8.085h-8.24zM244.2 331.9h8.24v8.085h-8.24zM219.48 323.82h8.24v8.085h-8.24zM227.72 323.82h8.24v8.085h-8.24zM235.96 323.82h8.24v8.085h-8.24zM252.44 323.82h8.24v8.085h-8.24zM244.2 315.74h8.24v8.085h-8.24zM252.44 315.74h8.24v8.085h-8.24zM260.68 315.74h8.24v8.085h-8.24zM268.92 315.74h8.24v8.085h-8.24zM277.16 315.74h8.24v8.085h-8.24zM244.2 307.65h8.24v8.085h-8.24zM252.44 307.65h8.24v8.085h-8.24zM260.68 307.65h8.24v8.085h-8.24zM268.92 307.65h8.24v8.085h-8.24zM285.4 307.65h8.24v8.085h-8.24zM285.4 299.56h8.24v8.085h-8.24zM293.64 299.56h8.24v8.085h-8.24zM301.88 299.56h8.24v8.085h-8.24zM310.12 299.56h8.24v8.085h-8.24zM318.36 299.56h8.24v8.085h-8.24zM277.16 291.48h8.24v8.085h-8.24zM285.4 291.48h8.24v8.085h-8.24zM293.64 291.48h8.24v8.085h-8.24zM318.36 291.48h8.24v8.085h-8.24zM277.16 283.39h8.24v8.085h-8.24zM285.4 283.39h8.24v8.085h-8.24zM301.88 283.39h8.24v8.085h-8.24zM310.12 283.39h8.24v8.085h-8.24zM318.36 283.39h8.24v8.085h-8.24zM326.6 283.39h8.24v8.085h-8.24zM334.84 283.39h8.24v8.085h-8.24zM301.88 275.31h8.24v8.085h-8.24zM310.12 275.31h8.24v8.085h-8.24zM318.36 275.31h8.24v8.085h-8.24zM334.84 275.31h8.24v8.085h-8.24zM351.32 275.31h8.24v8.085h-8.24zM359.56 275.31h8.24v8.085h-8.24zM301.88 267.23h8.24v8.085h-8.24zM310.12 267.23h8.24v8.085h-8.24zM326.6 267.23h8.24v8.085h-8.24zM334.84 267.23h8.24v8.085h-8.24zM343.08 267.23h8.24v8.085h-8.24zM351.32 267.23h8.24v8.085h-8.24zM359.56 267.23h8.24v8.085h-8.24zM367.8 267.23h8.24v8.085h-8.24zM326.6 259.14h8.24v8.085h-8.24zM334.84 259.14h8.24v8.085h-8.24zM343.08 259.14h8.24v8.085h-8.24zM351.32 259.14h8.24v8.085h-8.24zM367.8 259.14h8.24v8.085h-8.24zM384.28 259.14h8.24v8.085h-8.24zM318.36 251.05h8.24v8.085h-8.24zM326.6 251.05h8.24v8.085h-8.24zM334.84 251.05h8.24v8.085h-8.24zM343.08 251.05h8.24v8.085h-8.24zM359.56 251.05h8.24v8.085h-8.24zM367.8 251.05h8.24v8.085h-8.24zM376.04 251.05h8.24v8.085h-8.24zM384.28 251.05h8.24v8.085h-8.24zM392.52 251.05h8.24v8.085h-8.24zM400.76 251.05h8.24v8.085h-8.24zM293.64 242.97h8.24v8.085h-8.24zM318.36 242.97h8.24v8.085h-8.24zM334.84 242.97h8.24v8.085h-8.24zM343.08 242.97h8.24v8.085h-8.24zM351.32 242.97h8.24v8.085h-8.24zM359.56 242.97h8.24v8.085h-8.24zM367.8 242.97h8.24v8.085h-8.24zM376.04 242.97h8.24v8.085h-8.24zM384.28 242.97h8.24v8.085h-8.24zM400.76 242.97h8.24v8.085h-8.24zM376.04 234.88h8.24v8.085h-8.24zM384.28 234.88h8.24v8.085h-8.24zM392.52 234.88h8.24v8.085h-8.24zM400.76 234.88h8.24v8.085h-8.24zM409 234.88h8.24v8.085h-8.24zM417.24 234.88h8.24v8.085h-8.24zM425.48 234.88h8.24v8.085h-8.24zM433.72 234.88h8.24v8.085h-8.24zM367.8 226.8h8.24v8.085h-8.24zM376.04 226.8h8.24v8.085h-8.24zM384.28 226.8h8.24v8.085h-8.24zM392.52 226.8h8.24v8.085h-8.24zM400.76 226.8h8.24v8.085h-8.24zM409 226.8h8.24v8.085h-8.24zM417.24 226.8h8.24v8.085h-8.24zM425.48 226.8h8.24v8.085h-8.24zM433.72 226.8h8.24v8.085h-8.24zM450.2 226.8h8.24v8.085h-8.24zM384.28 218.71h8.24v8.085h-8.24zM392.52 218.71h8.24v8.085h-8.24zM400.76 218.71h8.24v8.085h-8.24zM409 218.71h8.24v8.085h-8.24zM417.24 218.71h8.24v8.085h-8.24zM425.48 218.71h8.24v8.085h-8.24zM433.72 218.71h8.24v8.085h-8.24zM441.96 218.71h8.24v8.085h-8.24zM450.2 218.71h8.24v8.085h-8.24zM458.44 218.71h8.24v8.085h-8.24zM466.68 218.71h8.24v8.085h-8.24zM400.76 210.63h8.24v8.085h-8.24zM409 210.63h8.24v8.085h-8.24zM417.24 210.63h8.24v8.085h-8.24zM425.48 210.63h8.24v8.085h-8.24zM433.72 210.63h8.24v8.085h-8.24zM441.96 210.63h8.24v8.085h-8.24zM450.2 210.63h8.24v8.085h-8.24zM458.44 210.63h8.24v8.085h-8.24zM466.68 210.63h8.24v8.085h-8.24zM417.24 202.54h8.24v8.085h-8.24zM425.48 202.54h8.24v8.085h-8.24zM433.72 202.54h8.24v8.085h-8.24zM441.96 202.54h8.24v8.085h-8.24zM450.2 202.54h8.24v8.085h-8.24zM458.44 202.54h8.24v8.085h-8.24zM466.68 202.54h8.24v8.085h-8.24zM425.48 194.46h8.24v8.085h-8.24zM433.72 194.46h8.24v8.085h-8.24zM441.96 194.46h8.24v8.085h-8.24zM450.2 194.46h8.24v8.085h-8.24zM458.44 194.46h8.24v8.085h-8.24zM466.68 194.46h8.24v8.085h-8.24zM466.68 186.37h8.24v8.085h-8.24zM302.02 389.1h8.24v8.085h-8.24zM376.18 372.93h8.24v8.085h-8.24zM384.42 372.93h8.24v8.085h-8.24zM384.42 364.85h8.24v8.085h-8.24zM392.66 356.76h8.24v8.085h-8.24zM400.9 356.76h8.24v8.085h-8.24zM409.14 356.76h8.24v8.085h-8.24zM392.66 348.68h8.24v8.085h-8.24zM400.9 348.68h8.24v8.085h-8.24zM417.38 348.68h8.24v8.085h-8.24zM417.38 340.59h8.24v8.085h-8.24zM425.62 340.59h8.24v8.085h-8.24zM433.86 340.59h8.24v8.085h-8.24zM442.1 340.59h8.24v8.085h-8.24zM409.14 332.5h8.24v8.085h-8.24zM417.38 332.5h8.24v8.085h-8.24zM425.62 332.5h8.24v8.085h-8.24zM433.86 332.5h8.24v8.085h-8.24zM442.1 332.5h8.24v8.085h-8.24zM442.1 324.42h8.24v8.085h-8.24zM450.34 324.42h8.24v8.085h-8.24zM458.58 324.42h8.24v8.085h-8.24zM466.82 324.42h8.24v8.085h-8.24zM442.1 316.34h8.24v8.085h-8.24zM450.34 316.34h8.24v8.085h-8.24zM466.82 316.34h8.24v8.085h-8.24zM483.3 316.34h8.24v8.085h-8.24zM475.06 308.25h8.24v8.085h-8.24zM483.3 308.25h8.24v8.085h-8.24zM491.54 308.25h8.24v8.085h-8.24zM499.78 308.25h8.24v8.085h-8.24zM475.06 300.17h8.24v8.085h-8.24zM483.3 300.17h8.24v8.085h-8.24zM491.54 300.17h8.24v8.085h-8.24zM499.78 300.17h8.24v8.085h-8.24zM483.3 292.08h8.24v8.085h-8.24zM491.54 292.08h8.24v8.085h-8.24zM499.78 292.08h8.24v8.085h-8.24zM508.02 292.08h8.24v8.085h-8.24zM516.26 292.08h8.24v8.085h-8.24zM524.5 292.08h8.24v8.085h-8.24zM508.02 284h8.24v8.085h-8.24zM516.26 284h8.24v8.085h-8.24zM532.74 284h8.24v8.085h-8.24zM540.98 275.91h8.24v8.085h-8.24zM549.22 275.91h8.24v8.085h-8.24z"/>
<path fill="#a8b5c9" d="M37.47 224.25h8.24v8.085h-8.24zM45.71 216.16h8.24v8.085h-8.24zM62.19 208.08h8.24v8.085h-8.24zM70.43 200h8.24v8.085h-8.24zM78.67 200h8.24v8.085h-8.24zM78.67 191.91h8.24v8.085h-8.24zM86.91 183.82h8.24v8.085h-8.24zM95.15 183.82h8.24v8.085h-8.24zM95.15 175.74h8.24v8.085h-8.24zM103.39 175.74h8.24v8.085h-8.24zM103.39 167.66h8.24v8.085h-8.24zM111.63 167.66h8.24v8.085h-8.24zM119.87 159.57h8.24v8.085h-8.24zM119.87 151.48h8.24v8.085h-8.24zM128.11 151.48h8.24v8.085h-8.24zM136.35 143.4h8.24v8.085h-8.24zM144.59 143.4h8.24v8.085h-8.24zM136.35 135.31h8.24v8.085h-8.24zM144.59 135.31h8.24v8.085h-8.24zM152.83 135.31h8.24v8.085h-8.24zM152.83 127.23h8.24v8.085h-8.24zM161.07 127.23h8.24v8.085h-8.24zM152.83 119.14h8.24v8.085h-8.24zM161.07 119.14h8.24v8.085h-8.24zM169.31 111.06h8.24v8.085h-8.24zM177.55 111.06h8.24v8.085h-8.24zM169.31 102.97h8.24v8.085h-8.24zM177.55 102.97h8.24v8.085h-8.24zM185.79 102.97h8.24v8.085h-8.24zM185.79 94.89h8.24v8.085h-8.24zM202.27 94.89h8.24v8.085h-8.24zM210.51 94.89h8.24v8.085h-8.24zM185.79 86.8h8.24v8.085h-8.24zM202.27 86.8h8.24v8.085h-8.24zM210.51 86.8h8.24v8.085h-8.24zM218.75 86.8h8.24v8.085h-8.24zM202.27 78.72h8.24v8.085h-8.24zM218.75 78.72h8.24v8.085h-8.24zM226.99 78.72h8.24v8.085h-8.24zM202.27 70.63h8.24v8.085h-8.24zM218.75 70.63h8.24v8.085h-8.24zM226.99 70.63h8.24v8.085h-8.24zM235.23 70.63h8.24v8.085h-8.24zM243.47 70.63h8.24v8.085h-8.24zM235.23 62.55h8.24v8.085h-8.24zM251.71 62.55h8.24v8.085h-8.24zM268.19 62.55h8.24v8.085h-8.24zM235.23 54.46h8.24v8.085h-8.24zM243.47 54.46h8.24v8.085h-8.24zM251.71 54.46h8.24v8.085h-8.24zM259.95 54.46h8.24v8.085h-8.24zM268.19 54.46h8.24v8.085h-8.24zM268.19 46.38h8.24v8.085h-8.24zM268.19 38.29h8.24v8.085h-8.24zM276.43 38.29h8.24v8.085h-8.24zM284.67 38.29h8.24v8.085h-8.24zM284.67 30.21h8.24v8.085h-8.24zM284.67 22.12h8.24v8.085h-8.24zM292.91 22.12h8.24v8.085h-8.24zM301.15 14.04h8.24v8.085h-8.24zM309.39 14.04h8.24v8.085h-8.24zM317.63 14.04h8.24v8.085h-8.24zM301.15 5.95h8.24v8.085h-8.24zM309.39 5.95h8.24v8.085h-8.24zM317.63 5.95h8.24v8.085h-8.24zM325.87 5.95h8.24v8.085h-8.24zM334.11 5.95h8.24v8.085h-8.24zM70.58 290.4h8.24v8.085h-8.24zM78.82 290.4h8.24v8.085h-8.24zM87.06 290.4h8.24v8.085h-8.24zM95.3 290.4h8.24v8.085h-8.24zM103.54 290.4h8.24v8.085h-8.24zM87.06 282.31h8.24v8.085h-8.24zM103.54 282.31h8.24v8.085h-8.24zM111.78 282.31h8.24v8.085h-8.24zM87.06 274.23h8.24v8.085h-8.24zM103.54 274.23h8.24v8.085h-8.24zM111.78 274.23h8.24v8.085h-8.24zM120.02 274.23h8.24v8.085h-8.24zM120.02 266.14h8.24v8.085h-8.24zM136.5 266.14h8.24v8.085h-8.24zM144.74 266.14h8.24v8.085h-8.24zM120.02 258.06h8.24v8.085h-8.24zM136.5 258.06h8.24v8.085h-8.24zM144.74 258.06h8.24v8.085h-8.24zM152.98 258.06h8.24v8.085h-8.24zM152.98 249.97h8.24v8.085h-8.24zM169.46 249.97h8.24v8.085h-8.24zM177.7 249.97h8.24v8.085h-8.24zM136.5 241.89h8.24v8.085h-8.24zM152.98 241.89h8.24v8.085h-8.24zM161.22 241.89h8.24v8.085h-8.24zM169.46 241.89h8.24v8.085h-8.24zM177.7 241.89h8.24v8.085h-8.24zM185.94 241.89h8.24v8.085h-8.24zM227.14 241.89h8.24v8.085h-8.24zM185.94 233.8h8.24v8.085h-8.24zM202.42 233.8h8.24v8.085h-8.24zM210.66 233.8h8.24v8.085h-8.24zM218.9 233.8h8.24v8.085h-8.24zM235.38 233.8h8.24v8.085h-8.24zM185.94 225.72h8.24v8.085h-8.24zM194.18 225.72h8.24v8.085h-8.24zM202.42 225.72h8.24v8.085h-8.24zM210.66 225.72h8.24v8.085h-8.24zM227.14 225.72h8.24v8.085h-8.24zM235.38 225.72h8.24v8.085h-8.24zM243.62 225.72h8.24v8.085h-8.24zM251.86 225.72h8.24v8.085h-8.24zM202.42 217.63h8.24v8.085h-8.24zM218.9 217.63h8.24v8.085h-8.24zM227.14 217.63h8.24v8.085h-8.24zM235.38 217.63h8.24v8.085h-8.24zM243.62 217.63h8.24v8.085h-8.24zM251.86 217.63h8.24v8.085h-8.24zM260.1 217.63h8.24v8.085h-8.24zM268.34 217.63h8.24v8.085h-8.24zM276.58 217.63h8.24v8.085h-8.24zM293.06 217.63h8.24v8.085h-8.24zM185.94 209.55h8.24v8.085h-8.24zM202.42 209.55h8.24v8.085h-8.24zM210.66 209.55h8.24v8.085h-8.24zM218.9 209.55h8.24v8.085h-8.24zM227.14 209.55h8.24v8.085h-8.24zM235.38 209.55h8.24v8.085h-8.24zM243.62 209.55h8.24v8.085h-8.24zM251.86 209.55h8.24v8.085h-8.24zM260.1 209.55h8.24v8.085h-8.24zM268.34 209.55h8.24v8.085h-8.24zM276.58 209.55h8.24v8.085h-8.24zM293.06 209.55h8.24v8.085h-8.24zM218.9 201.46h8.24v8.085h-8.24zM227.14 201.46h8.24v8.085h-8.24zM235.38 201.46h8.24v8.085h-8.24zM243.62 201.46h8.24v8.085h-8.24zM251.86 201.46h8.24v8.085h-8.24zM260.1 201.46h8.24v8.085h-8.24zM268.34 201.46h8.24v8.085h-8.24zM284.82 201.46h8.24v8.085h-8.24zM218.9 193.38h8.24v8.085h-8.24zM227.14 193.38h8.24v8.085h-8.24zM235.38 193.38h8.24v8.085h-8.24zM243.62 193.38h8.24v8.085h-8.24zM251.86 193.38h8.24v8.085h-8.24zM260.1 193.38h8.24v8.085h-8.24zM276.58 193.38h8.24v8.085h-8.24zM235.38 185.29h8.24v8.085h-8.24zM251.86 185.29h8.24v8.085h-8.24zM268.34 185.29h8.24v8.085h-8.24zM284.82 185.29h8.24v8.085h-8.24zM227.14 177.21h8.24v8.085h-8.24zM235.38 177.21h8.24v8.085h-8.24zM243.62 177.21h8.24v8.085h-8.24zM251.86 177.21h8.24v8.085h-8.24zM260.1 177.21h8.24v8.085h-8.24zM268.34 177.21h8.24v8.085h-8.24zM276.58 177.21h8.24v8.085h-8.24zM268.34 169.12h8.24v8.085h-8.24zM284.82 169.12h8.24v8.085h-8.24zM293.06 169.12h8.24v8.085h-8.24zM317.78 169.12h8.24v8.085h-8.24zM251.86 161.04h8.24v8.085h-8.24zM260.1 161.04h8.24v8.085h-8.24zM268.34 161.04h8.24v8.085h-8.24zM276.58 161.04h8.24v8.085h-8.24zM284.82 161.04h8.24v8.085h-8.24zM293.06 161.04h8.24v8.085h-8.24zM301.3 161.04h8.24v8.085h-8.24zM309.54 161.04h8.24v8.085h-8.24zM284.82 152.95h8.24v8.085h-8.24zM301.3 152.95h8.24v8.085h-8.24zM309.54 152.95h8.24v8.085h-8.24zM317.78 152.95h8.24v8.085h-8.24zM326.02 152.95h8.24v8.085h-8.24zM268.34 144.87h8.24v8.085h-8.24zM284.82 144.87h8.24v8.085h-8.24zM293.06 144.87h8.24v8.085h-8.24zM301.3 144.87h8.24v8.085h-8.24zM309.54 144.87h8.24v8.085h-8.24zM317.78 144.87h8.24v8.085h-8.24zM326.02 144.87h8.24v8.085h-8.24zM334.26 144.87h8.24v8.085h-8.24zM301.3 136.78h8.24v8.085h-8.24zM317.78 136.78h8.24v8.085h-8.24zM334.26 136.78h8.24v8.085h-8.24zM342.5 136.78h8.24v8.085h-8.24zM350.74 136.78h8.24v8.085h-8.24zM358.98 136.78h8.24v8.085h-8.24zM367.22 136.78h8.24v8.085h-8.24zM301.3 128.7h8.24v8.085h-8.24zM317.78 128.7h8.24v8.085h-8.24zM326.02 128.7h8.24v8.085h-8.24zM334.26 128.7h8.24v8.085h-8.24zM342.5 128.7h8.24v8.085h-8.24zM350.74 128.7h8.24v8.085h-8.24zM358.98 128.7h8.24v8.085h-8.24zM367.22 128.7h8.24v8.085h-8.24zM375.46 128.7h8.24v8.085h-8.24zM350.74 120.61h8.24v8.085h-8.24zM367.22 120.61h8.24v8.085h-8.24zM375.46 120.61h8.24v8.085h-8.24zM383.7 120.61h8.24v8.085h-8.24zM400.18 120.61h8.24v8.085h-8.24zM317.78 112.53h8.24v8.085h-8.24zM334.26 112.53h8.24v8.085h-8.24zM342.5 112.53h8.24v8.085h-8.24zM350.74 112.53h8.24v8.085h-8.24zM358.98 112.53h8.24v8.085h-8.24zM367.22 112.53h8.24v8.085h-8.24zM375.46 112.53h8.24v8.085h-8.24zM383.7 112.53h8.24v8.085h-8.24zM391.94 112.53h8.24v8.085h-8.24zM383.7 104.44h8.24v8.085h-8.24zM400.18 104.44h8.24v8.085h-8.24zM416.66 104.44h8.24v8.085h-8.24zM424.9 104.44h8.24v8.085h-8.24zM433.14 104.44h8.24v8.085h-8.24zM441.38 104.44h8.24v8.085h-8.24zM457.86 104.44h8.24v8.085h-8.24zM466.1 104.44h8.24v8.085h-8.24zM474.34 104.44h8.24v8.085h-8.24zM383.7 96.36h8.24v8.085h-8.24zM400.18 96.36h8.24v8.085h-8.24zM408.42 96.36h8.24v8.085h-8.24zM416.66 96.36h8.24v8.085h-8.24zM424.9 96.36h8.24v8.085h-8.24zM433.14 96.36h8.24v8.085h-8.24zM441.38 96.36h8.24v8.085h-8.24zM449.62 96.36h8.24v8.085h-8.24zM457.86 96.36h8.24v8.085h-8.24zM466.1 96.36h8.24v8.085h-8.24zM474.34 96.36h8.24v8.085h-8.24zM482.58 96.36h8.24v8.085h-8.24zM416.66 88.27h8.24v8.085h-8.24zM433.14 88.27h8.24v8.085h-8.24zM449.62 88.27h8.24v8.085h-8.24zM457.86 88.27h8.24v8.085h-8.24zM466.1 88.27h8.24v8.085h-8.24zM474.34 88.27h8.24v8.085h-8.24zM400.18 80.19h8.24v8.085h-8.24zM416.66 80.19h8.24v8.085h-8.24zM424.9 80.19h8.24v8.085h-8.24zM433.14 80.19h8.24v8.085h-8.24zM441.38 80.19h8.24v8.085h-8.24zM449.62 80.19h8.24v8.085h-8.24zM457.86 80.19h8.24v8.085h-8.24zM466.1 80.19h8.24v8.085h-8.24zM474.34 80.19h8.24v8.085h-8.24zM482.58 80.19h8.24v8.085h-8.24zM490.82 80.19h8.24v8.085h-8.24zM499.06 80.19h8.24v8.085h-8.24zM507.3 80.19h8.24v8.085h-8.24zM449.62 72.1h8.24v8.085h-8.24zM466.1 72.1h8.24v8.085h-8.24zM482.58 72.1h8.24v8.085h-8.24zM490.82 72.1h8.24v8.085h-8.24zM499.06 72.1h8.24v8.085h-8.24zM507.3 72.1h8.24v8.085h-8.24zM515.54 72.1h8.24v8.085h-8.24zM532.02 72.1h8.24v8.085h-8.24zM540.26 72.1h8.24v8.085h-8.24zM416.66 64.02h8.24v8.085h-8.24zM449.62 64.02h8.24v8.085h-8.24zM457.86 64.02h8.24v8.085h-8.24zM466.1 64.02h8.24v8.085h-8.24zM482.58 64.02h8.24v8.085h-8.24zM490.82 64.02h8.24v8.085h-8.24zM499.06 64.02h8.24v8.085h-8.24zM507.3 64.02h8.24v8.085h-8.24zM515.54 64.02h8.24v8.085h-8.24zM523.78 64.02h8.24v8.085h-8.24zM532.02 64.02h8.24v8.085h-8.24zM482.58 55.93h8.24v8.085h-8.24zM490.82 55.93h8.24v8.085h-8.24zM499.06 55.93h8.24v8.085h-8.24zM507.3 55.93h8.24v8.085h-8.24zM515.54 55.93h8.24v8.085h-8.24zM523.78 55.93h8.24v8.085h-8.24zM482.58 47.85h8.24v8.085h-8.24zM490.82 47.85h8.24v8.085h-8.24zM499.06 47.85h8.24v8.085h-8.24zM507.3 47.85h8.24v8.085h-8.24zM515.54 47.85h8.24v8.085h-8.24zM482.58 39.76h8.24v8.085h-8.24zM499.06 39.76h8.24v8.085h-8.24zM507.3 39.76h8.24v8.085h-8.24zM515.54 39.76h8.24v8.085h-8.24zM523.78 39.76h8.24v8.085h-8.24zM482.58 31.68h8.24v8.085h-8.24zM490.82 31.68h8.24v8.085h-8.24zM499.06 31.68h8.24v8.085h-8.24zM507.3 31.68h8.24v8.085h-8.24zM515.54 31.68h8.24v8.085h-8.24zM515.54 23.59h8.24v8.085h-8.24zM532.02 23.59h8.24v8.085h-8.24zM548.5 23.59h8.24v8.085h-8.24zM499.06 15.51h8.24v8.085h-8.24zM507.3 15.51h8.24v8.085h-8.24zM515.54 15.51h8.24v8.085h-8.24zM523.78 15.51h8.24v8.085h-8.24zM532.02 15.51h8.24v8.085h-8.24zM540.26 15.51h8.24v8.085h-8.24zM532.02 7.42h8.24v8.085h-8.24zM548.5 7.42h8.24v8.085h-8.24zM564.98 7.42h8.24v8.085h-8.24zM573.22 7.42h8.24v8.085h-8.24zM170.04 388.5h8.24v8.085h-8.24zM186.52 388.5h8.24v8.085h-8.24zM203 388.5h8.24v8.085h-8.24zM211.24 388.5h8.24v8.085h-8.24zM153.56 380.42h8.24v8.085h-8.24zM170.04 380.42h8.24v8.085h-8.24zM186.52 380.42h8.24v8.085h-8.24zM194.76 380.42h8.24v8.085h-8.24zM203 380.42h8.24v8.085h-8.24zM211.24 380.42h8.24v8.085h-8.24zM219.48 380.42h8.24v8.085h-8.24zM227.72 380.42h8.24v8.085h-8.24zM219.48 372.33h8.24v8.085h-8.24zM235.96 372.33h8.24v8.085h-8.24zM186.52 364.25h8.24v8.085h-8.24zM219.48 364.25h8.24v8.085h-8.24zM227.72 364.25h8.24v8.085h-8.24zM235.96 364.25h8.24v8.085h-8.24zM244.2 364.25h8.24v8.085h-8.24zM252.44 364.25h8.24v8.085h-8.24zM268.92 364.25h8.24v8.085h-8.24zM252.44 356.16h8.24v8.085h-8.24zM260.68 356.16h8.24v8.085h-8.24zM235.96 348.07h8.24v8.085h-8.24zM252.44 348.07h8.24v8.085h-8.24zM260.68 348.07h8.24v8.085h-8.24zM277.16 348.07h8.24v8.085h-8.24zM268.92 339.99h8.24v8.085h-8.24zM285.4 339.99h8.24v8.085h-8.24zM293.64 339.99h8.24v8.085h-8.24zM252.44 331.9h8.24v8.085h-8.24zM268.92 331.9h8.24v8.085h-8.24zM277.16 331.9h8.24v8.085h-8.24zM285.4 331.9h8.24v8.085h-8.24zM301.88 331.9h8.24v8.085h-8.24zM318.36 331.9h8.24v8.085h-8.24zM301.88 323.82h8.24v8.085h-8.24zM318.36 323.82h8.24v8.085h-8.24zM285.4 315.74h8.24v8.085h-8.24zM301.88 315.74h8.24v8.085h-8.24zM310.12 315.74h8.24v8.085h-8.24zM318.36 315.74h8.24v8.085h-8.24zM326.6 315.74h8.24v8.085h-8.24zM334.84 307.65h8.24v8.085h-8.24zM326.6 299.56h8.24v8.085h-8.24zM334.84 299.56h8.24v8.085h-8.24zM343.08 299.56h8.24v8.085h-8.24zM351.32 299.56h8.24v8.085h-8.24zM359.56 299.56h8.24v8.085h-8.24zM367.8 299.56h8.24v8.085h-8.24zM351.32 291.48h8.24v8.085h-8.24zM367.8 291.48h8.24v8.085h-8.24zM376.04 291.48h8.24v8.085h-8.24zM351.32 283.39h8.24v8.085h-8.24zM359.56 283.39h8.24v8.085h-8.24zM367.8 283.39h8.24v8.085h-8.24zM376.04 283.39h8.24v8.085h-8.24zM384.28 283.39h8.24v8.085h-8.24zM400.76 283.39h8.24v8.085h-8.24zM384.28 275.31h8.24v8.085h-8.24zM392.52 275.31h8.24v8.085h-8.24zM400.76 275.31h8.24v8.085h-8.24zM409 275.31h8.24v8.085h-8.24zM417.24 275.31h8.24v8.085h-8.24zM376.04 267.23h8.24v8.085h-8.24zM384.28 267.23h8.24v8.085h-8.24zM392.52 267.23h8.24v8.085h-8.24zM400.76 267.23h8.24v8.085h-8.24zM409 267.23h8.24v8.085h-8.24zM417.24 267.23h8.24v8.085h-8.24zM425.48 267.23h8.24v8.085h-8.24zM433.72 267.23h8.24v8.085h-8.24zM417.24 259.14h8.24v8.085h-8.24zM433.72 259.14h8.24v8.085h-8.24zM441.96 259.14h8.24v8.085h-8.24zM450.2 259.14h8.24v8.085h-8.24zM409 251.05h8.24v8.085h-8.24zM417.24 251.05h8.24v8.085h-8.24zM425.48 251.05h8.24v8.085h-8.24zM433.72 251.05h8.24v8.085h-8.24zM441.96 251.05h8.24v8.085h-8.24zM450.2 251.05h8.24v8.085h-8.24zM458.44 251.05h8.24v8.085h-8.24zM450.2 242.97h8.24v8.085h-8.24zM466.68 242.97h8.24v8.085h-8.24zM450.2 234.88h8.24v8.085h-8.24zM466.68 234.88h8.24v8.085h-8.24zM474.92 234.88h8.24v8.085h-8.24zM483.16 234.88h8.24v8.085h-8.24zM491.4 234.88h8.24v8.085h-8.24zM499.64 234.88h8.24v8.085h-8.24zM483.16 226.8h8.24v8.085h-8.24zM491.4 226.8h8.24v8.085h-8.24zM499.64 226.8h8.24v8.085h-8.24zM507.88 226.8h8.24v8.085h-8.24zM516.12 226.8h8.24v8.085h-8.24zM532.6 226.8h8.24v8.085h-8.24zM491.4 218.71h8.24v8.085h-8.24zM499.64 218.71h8.24v8.085h-8.24zM507.88 218.71h8.24v8.085h-8.24zM516.12 218.71h8.24v8.085h-8.24zM532.6 218.71h8.24v8.085h-8.24zM524.36 210.63h8.24v8.085h-8.24zM540.84 210.63h8.24v8.085h-8.24zM549.08 202.54h8.24v8.085h-8.24zM549.08 194.46h8.24v8.085h-8.24zM557.32 194.46h8.24v8.085h-8.24zM549.08 186.37h8.24v8.085h-8.24zM392.66 389.1h8.24v8.085h-8.24zM400.9 381.02h8.24v8.085h-8.24zM417.38 381.02h8.24v8.085h-8.24zM425.62 381.02h8.24v8.085h-8.24zM433.86 381.02h8.24v8.085h-8.24zM442.1 381.02h8.24v8.085h-8.24zM400.9 372.93h8.24v8.085h-8.24zM417.38 372.93h8.24v8.085h-8.24zM425.62 372.93h8.24v8.085h-8.24zM433.86 372.93h8.24v8.085h-8.24zM433.86 364.85h8.24v8.085h-8.24zM450.34 364.85h8.24v8.085h-8.24zM458.58 364.85h8.24v8.085h-8.24zM466.82 364.85h8.24v8.085h-8.24zM417.38 356.76h8.24v8.085h-8.24zM433.86 356.76h8.24v8.085h-8.24zM442.1 356.76h8.24v8.085h-8.24zM450.34 356.76h8.24v8.085h-8.24zM458.58 356.76h8.24v8.085h-8.24zM475.06 356.76h8.24v8.085h-8.24zM466.82 348.68h8.24v8.085h-8.24zM483.3 348.68h8.24v8.085h-8.24zM491.54 348.68h8.24v8.085h-8.24zM450.34 340.59h8.24v8.085h-8.24zM466.82 340.59h8.24v8.085h-8.24zM475.06 340.59h8.24v8.085h-8.24zM483.3 340.59h8.24v8.085h-8.24zM483.3 332.5h8.24v8.085h-8.24zM499.78 332.5h8.24v8.085h-8.24zM508.02 332.5h8.24v8.085h-8.24zM516.26 332.5h8.24v8.085h-8.24zM524.5 332.5h8.24v8.085h-8.24zM483.3 324.42h8.24v8.085h-8.24zM499.78 324.42h8.24v8.085h-8.24zM508.02 324.42h8.24v8.085h-8.24zM516.26 324.42h8.24v8.085h-8.24zM532.74 316.34h8.24v8.085h-8.24zM516.26 308.25h8.24v8.085h-8.24zM524.5 308.25h8.24v8.085h-8.24zM532.74 308.25h8.24v8.085h-8.24zM549.22 300.17h8.24v8.085h-8.24zM549.22 292.08h8.24v8.085h-8.24zM557.46 292.08h8.24v8.085h-8.24zM565.7 292.08h8.24v8.085h-8.24z"/>
<path fill="#f5e03c" d="M53.95 208.08h8.24v8.085h-8.24zM45.71 200h8.24v8.085h-8.24zM62.19 191.91h8.24v8.085h-8.24zM62.19 183.82h8.24v8.085h-8.24zM490.82 7.42h8.24v8.085h-8.24zM128.84 388.5h8.24v8.085h-8.24zM128.84 372.33h8.24v8.085h-8.24zM145.32 372.33h8.24v8.085h-8.24zM128.84 356.16h8.24v8.085h-8.24zM137.08 356.16h8.24v8.085h-8.24zM145.32 356.16h8.24v8.085h-8.24zM153.56 356.16h8.24v8.085h-8.24zM161.8 356.16h8.24v8.085h-8.24zM161.8 348.07h8.24v8.085h-8.24zM301.88 242.97h8.24v8.085h-8.24zM376.04 218.71h8.24v8.085h-8.24zM483.16 218.71h8.24v8.085h-8.24zM359.56 210.63h8.24v8.085h-8.24zM367.8 210.63h8.24v8.085h-8.24zM376.04 210.63h8.24v8.085h-8.24zM384.28 210.63h8.24v8.085h-8.24zM392.52 210.63h8.24v8.085h-8.24zM483.16 210.63h8.24v8.085h-8.24zM491.4 210.63h8.24v8.085h-8.24zM499.64 210.63h8.24v8.085h-8.24zM516.12 210.63h8.24v8.085h-8.24zM532.6 210.63h8.24v8.085h-8.24zM392.52 202.54h8.24v8.085h-8.24zM400.76 202.54h8.24v8.085h-8.24zM409 202.54h8.24v8.085h-8.24zM474.92 202.54h8.24v8.085h-8.24zM483.16 202.54h8.24v8.085h-8.24zM491.4 202.54h8.24v8.085h-8.24zM507.88 202.54h8.24v8.085h-8.24zM516.12 202.54h8.24v8.085h-8.24zM524.36 202.54h8.24v8.085h-8.24zM409 194.46h8.24v8.085h-8.24zM474.92 194.46h8.24v8.085h-8.24zM499.64 194.46h8.24v8.085h-8.24zM507.88 194.46h8.24v8.085h-8.24zM516.12 194.46h8.24v8.085h-8.24zM524.36 194.46h8.24v8.085h-8.24zM532.6 194.46h8.24v8.085h-8.24zM540.84 194.46h8.24v8.085h-8.24zM507.88 186.37h8.24v8.085h-8.24zM516.12 186.37h8.24v8.085h-8.24zM524.36 186.37h8.24v8.085h-8.24zM532.6 186.37h8.24v8.085h-8.24zM540.84 186.37h8.24v8.085h-8.24zM343.22 389.1h8.24v8.085h-8.24zM351.46 389.1h8.24v8.085h-8.24zM359.7 389.1h8.24v8.085h-8.24zM367.94 389.1h8.24v8.085h-8.24zM376.18 389.1h8.24v8.085h-8.24zM384.42 389.1h8.24v8.085h-8.24zM302.02 381.02h8.24v8.085h-8.24zM351.46 381.02h8.24v8.085h-8.24zM359.7 381.02h8.24v8.085h-8.24zM367.94 381.02h8.24v8.085h-8.24zM376.18 381.02h8.24v8.085h-8.24zM384.42 381.02h8.24v8.085h-8.24zM392.66 381.02h8.24v8.085h-8.24zM359.7 372.93h8.24v8.085h-8.24zM367.94 372.93h8.24v8.085h-8.24zM392.66 372.93h8.24v8.085h-8.24zM409.14 372.93h8.24v8.085h-8.24zM367.94 364.85h8.24v8.085h-8.24zM376.18 364.85h8.24v8.085h-8.24zM392.66 364.85h8.24v8.085h-8.24zM400.9 364.85h8.24v8.085h-8.24zM409.14 364.85h8.24v8.085h-8.24zM417.38 364.85h8.24v8.085h-8.24zM425.62 364.85h8.24v8.085h-8.24zM376.18 356.76h8.24v8.085h-8.24zM384.42 356.76h8.24v8.085h-8.24zM384.42 348.68h8.24v8.085h-8.24zM409.14 348.68h8.24v8.085h-8.24zM425.62 348.68h8.24v8.085h-8.24zM433.86 348.68h8.24v8.085h-8.24zM458.58 348.68h8.24v8.085h-8.24zM409.14 340.59h8.24v8.085h-8.24zM450.34 332.5h8.24v8.085h-8.24zM458.58 332.5h8.24v8.085h-8.24zM475.06 332.5h8.24v8.085h-8.24zM491.54 332.5h8.24v8.085h-8.24zM475.06 324.42h8.24v8.085h-8.24zM491.54 324.42h8.24v8.085h-8.24zM458.58 316.34h8.24v8.085h-8.24zM475.06 316.34h8.24v8.085h-8.24zM491.54 316.34h8.24v8.085h-8.24zM499.78 316.34h8.24v8.085h-8.24zM508.02 316.34h8.24v8.085h-8.24zM516.26 316.34h8.24v8.085h-8.24zM524.5 316.34h8.24v8.085h-8.24zM540.98 316.34h8.24v8.085h-8.24zM508.02 308.25h8.24v8.085h-8.24zM508.02 300.17h8.24v8.085h-8.24zM516.26 300.17h8.24v8.085h-8.24zM524.5 300.17h8.24v8.085h-8.24zM532.74 300.17h8.24v8.085h-8.24zM540.98 300.17h8.24v8.085h-8.24zM532.74 292.08h8.24v8.085h-8.24zM540.98 292.08h8.24v8.085h-8.24zM491.54 284h8.24v8.085h-8.24zM524.5 284h8.24v8.085h-8.24zM540.98 284h8.24v8.085h-8.24zM549.22 284h8.24v8.085h-8.24zM524.5 267.83h8.24v8.085h-8.24z"/>
<path fill="#1f241e" d="M29.23 216.16h8.24v8.085h-8.24zM37.47 216.16h8.24v8.085h-8.24zM37.47 208.08h8.24v8.085h-8.24zM45.71 208.08h8.24v8.085h-8.24zM53.95 200h8.24v8.085h-8.24zM62.19 200h8.24v8.085h-8.24zM70.43 191.91h8.24v8.085h-8.24zM70.43 183.82h8.24v8.085h-8.24zM78.67 183.82h8.24v8.085h-8.24zM78.67 175.74h8.24v8.085h-8.24zM86.91 175.74h8.24v8.085h-8.24zM86.91 167.66h8.24v8.085h-8.24zM95.15 167.66h8.24v8.085h-8.24zM95.15 159.57h8.24v8.085h-8.24zM103.39 159.57h8.24v8.085h-8.24zM111.63 159.57h8.24v8.085h-8.24zM111.63 151.48h8.24v8.085h-8.24zM111.63 143.4h8.24v8.085h-8.24zM119.87 143.4h8.24v8.085h-8.24zM128.11 143.4h8.24v8.085h-8.24zM128.11 135.31h8.24v8.085h-8.24zM128.11 127.23h8.24v8.085h-8.24zM136.35 127.23h8.24v8.085h-8.24zM144.59 127.23h8.24v8.085h-8.24zM144.59 119.14h8.24v8.085h-8.24zM144.59 111.06h8.24v8.085h-8.24zM152.83 111.06h8.24v8.085h-8.24zM161.07 111.06h8.24v8.085h-8.24zM161.07 102.97h8.24v8.085h-8.24zM161.07 94.89h8.24v8.085h-8.24zM169.31 94.89h8.24v8.085h-8.24zM177.55 94.89h8.24v8.085h-8.24zM194.03 94.89h8.24v8.085h-8.24zM177.55 86.8h8.24v8.085h-8.24zM194.03 86.8h8.24v8.085h-8.24zM177.55 78.72h8.24v8.085h-8.24zM194.03 78.72h8.24v8.085h-8.24zM210.51 78.72h8.24v8.085h-8.24zM194.03 70.63h8.24v8.085h-8.24zM210.51 70.63h8.24v8.085h-8.24zM194.03 62.55h8.24v8.085h-8.24zM210.51 62.55h8.24v8.085h-8.24zM218.75 62.55h8.24v8.085h-8.24zM226.99 62.55h8.24v8.085h-8.24zM243.47 62.55h8.24v8.085h-8.24zM259.95 62.55h8.24v8.085h-8.24zM226.99 54.46h8.24v8.085h-8.24zM226.99 46.38h8.24v8.085h-8.24zM235.23 46.38h8.24v8.085h-8.24zM243.47 46.38h8.24v8.085h-8.24zM251.71 46.38h8.24v8.085h-8.24zM259.95 46.38h8.24v8.085h-8.24zM251.71 38.29h8.24v8.085h-8.24zM259.95 38.29h8.24v8.085h-8.24zM243.47 30.21h8.24v8.085h-8.24zM259.95 30.21h8.24v8.085h-8.24zM268.19 30.21h8.24v8.085h-8.24zM276.43 30.21h8.24v8.085h-8.24zM276.43 22.12h8.24v8.085h-8.24zM259.95 14.04h8.24v8.085h-8.24zM276.43 14.04h8.24v8.085h-8.24zM284.67 14.04h8.24v8.085h-8.24zM292.91 14.04h8.24v8.085h-8.24zM292.91 5.95h8.24v8.085h-8.24zM62.34 290.4h8.24v8.085h-8.24zM45.86 282.31h8.24v8.085h-8.24zM62.34 282.31h8.24v8.085h-8.24zM70.58 282.31h8.24v8.085h-8.24zM78.82 282.31h8.24v8.085h-8.24zM95.3 282.31h8.24v8.085h-8.24zM78.82 274.23h8.24v8.085h-8.24zM95.3 274.23h8.24v8.085h-8.24zM78.82 266.14h8.24v8.085h-8.24zM95.3 266.14h8.24v8.085h-8.24zM103.54 266.14h8.24v8.085h-8.24zM111.78 266.14h8.24v8.085h-8.24zM128.26 266.14h8.24v8.085h-8.24zM111.78 258.06h8.24v8.085h-8.24zM128.26 258.06h8.24v8.085h-8.24zM111.78 249.97h8.24v8.085h-8.24zM128.26 249.97h8.24v8.085h-8.24zM136.5 249.97h8.24v8.085h-8.24zM144.74 249.97h8.24v8.085h-8.24zM161.22 249.97h8.24v8.085h-8.24zM144.74 241.89h8.24v8.085h-8.24zM128.26 233.8h8.24v8.085h-8.24zM144.74 233.8h8.24v8.085h-8.24zM152.98 233.8h8.24v8.085h-8.24zM161.22 233.8h8.24v8.085h-8.24zM169.46 233.8h8.24v8.085h-8.24zM177.7 233.8h8.24v8.085h-8.24zM194.18 233.8h8.24v8.085h-8.24zM161.22 225.72h8.24v8.085h-8.24zM177.7 225.72h8.24v8.085h-8.24zM144.74 217.63h8.24v8.085h-8.24zM161.22 217.63h8.24v8.085h-8.24zM177.7 217.63h8.24v8.085h-8.24zM185.94 217.63h8.24v8.085h-8.24zM194.18 217.63h8.24v8.085h-8.24zM210.66 217.63h8.24v8.085h-8.24zM194.18 209.55h8.24v8.085h-8.24zM177.7 201.46h8.24v8.085h-8.24zM194.18 201.46h8.24v8.085h-8.24zM202.42 201.46h8.24v8.085h-8.24zM210.66 201.46h8.24v8.085h-8.24zM210.66 193.38h8.24v8.085h-8.24zM210.66 185.29h8.24v8.085h-8.24zM218.9 185.29h8.24v8.085h-8.24zM227.14 185.29h8.24v8.085h-8.24zM243.62 185.29h8.24v8.085h-8.24zM260.1 185.29h8.24v8.085h-8.24zM210.66 169.12h8.24v8.085h-8.24zM227.14 169.12h8.24v8.085h-8.24zM235.38 169.12h8.24v8.085h-8.24zM243.62 169.12h8.24v8.085h-8.24zM251.86 169.12h8.24v8.085h-8.24zM260.1 169.12h8.24v8.085h-8.24zM276.58 169.12h8.24v8.085h-8.24zM227.14 152.95h8.24v8.085h-8.24zM243.62 152.95h8.24v8.085h-8.24zM251.86 152.95h8.24v8.085h-8.24zM260.1 152.95h8.24v8.085h-8.24zM268.34 152.95h8.24v8.085h-8.24zM276.58 152.95h8.24v8.085h-8.24zM293.06 152.95h8.24v8.085h-8.24zM276.58 144.87h8.24v8.085h-8.24zM260.1 136.78h8.24v8.085h-8.24zM276.58 136.78h8.24v8.085h-8.24zM284.82 136.78h8.24v8.085h-8.24zM293.06 136.78h8.24v8.085h-8.24zM309.54 136.78h8.24v8.085h-8.24zM326.02 136.78h8.24v8.085h-8.24zM293.06 128.7h8.24v8.085h-8.24zM309.54 128.7h8.24v8.085h-8.24zM276.58 120.61h8.24v8.085h-8.24zM293.06 120.61h8.24v8.085h-8.24zM309.54 120.61h8.24v8.085h-8.24zM317.78 120.61h8.24v8.085h-8.24zM326.02 120.61h8.24v8.085h-8.24zM334.26 120.61h8.24v8.085h-8.24zM342.5 120.61h8.24v8.085h-8.24zM358.98 120.61h8.24v8.085h-8.24zM326.02 112.53h8.24v8.085h-8.24zM309.54 104.44h8.24v8.085h-8.24zM326.02 104.44h8.24v8.085h-8.24zM334.26 104.44h8.24v8.085h-8.24zM342.5 104.44h8.24v8.085h-8.24zM350.74 104.44h8.24v8.085h-8.24zM358.98 104.44h8.24v8.085h-8.24zM367.22 104.44h8.24v8.085h-8.24zM375.46 104.44h8.24v8.085h-8.24zM391.94 104.44h8.24v8.085h-8.24zM408.42 104.44h8.24v8.085h-8.24zM375.46 96.36h8.24v8.085h-8.24zM391.94 96.36h8.24v8.085h-8.24zM358.98 88.27h8.24v8.085h-8.24zM375.46 88.27h8.24v8.085h-8.24zM383.7 88.27h8.24v8.085h-8.24zM391.94 88.27h8.24v8.085h-8.24zM400.18 88.27h8.24v8.085h-8.24zM408.42 88.27h8.24v8.085h-8.24zM424.9 88.27h8.24v8.085h-8.24zM441.38 88.27h8.24v8.085h-8.24zM408.42 80.19h8.24v8.085h-8.24zM375.46 72.1h8.24v8.085h-8.24zM391.94 72.1h8.24v8.085h-8.24zM408.42 72.1h8.24v8.085h-8.24zM416.66 72.1h8.24v8.085h-8.24zM424.9 72.1h8.24v8.085h-8.24zM433.14 72.1h8.24v8.085h-8.24zM441.38 72.1h8.24v8.085h-8.24zM457.86 72.1h8.24v8.085h-8.24zM474.34 72.1h8.24v8.085h-8.24zM441.38 64.02h8.24v8.085h-8.24zM474.34 64.02h8.24v8.085h-8.24zM408.42 55.93h8.24v8.085h-8.24zM424.9 55.93h8.24v8.085h-8.24zM441.38 55.93h8.24v8.085h-8.24zM449.62 55.93h8.24v8.085h-8.24zM457.86 55.93h8.24v8.085h-8.24zM466.1 55.93h8.24v8.085h-8.24zM474.34 55.93h8.24v8.085h-8.24zM466.1 47.85h8.24v8.085h-8.24zM474.34 47.85h8.24v8.085h-8.24zM441.38 39.76h8.24v8.085h-8.24zM457.86 39.76h8.24v8.085h-8.24zM474.34 39.76h8.24v8.085h-8.24zM490.82 39.76h8.24v8.085h-8.24zM474.34 31.68h8.24v8.085h-8.24zM474.34 23.59h8.24v8.085h-8.24zM482.58 23.59h8.24v8.085h-8.24zM490.82 23.59h8.24v8.085h-8.24zM499.06 23.59h8.24v8.085h-8.24zM507.3 23.59h8.24v8.085h-8.24zM523.78 23.59h8.24v8.085h-8.24zM540.26 23.59h8.24v8.085h-8.24zM474.34 7.42h8.24v8.085h-8.24zM499.06 7.42h8.24v8.085h-8.24zM507.3 7.42h8.24v8.085h-8.24zM515.54 7.42h8.24v8.085h-8.24zM523.78 7.42h8.24v8.085h-8.24zM540.26 7.42h8.24v8.085h-8.24zM556.74 7.42h8.24v8.085h-8.24zM112.36 388.5h8.24v8.085h-8.24zM137.08 388.5h8.24v8.085h-8.24zM145.32 388.5h8.24v8.085h-8.24zM153.56 388.5h8.24v8.085h-8.24zM161.8 388.5h8.24v8.085h-8.24zM178.28 388.5h8.24v8.085h-8.24zM194.76 388.5h8.24v8.085h-8.24zM161.8 380.42h8.24v8.085h-8.24zM178.28 380.42h8.24v8.085h-8.24zM161.8 372.33h8.24v8.085h-8.24zM178.28 372.33h8.24v8.085h-8.24zM186.52 372.33h8.24v8.085h-8.24zM194.76 372.33h8.24v8.085h-8.24zM203 372.33h8.24v8.085h-8.24zM211.24 372.33h8.24v8.085h-8.24zM227.72 372.33h8.24v8.085h-8.24zM211.24 364.25h8.24v8.085h-8.24zM178.28 356.16h8.24v8.085h-8.24zM194.76 356.16h8.24v8.085h-8.24zM211.24 356.16h8.24v8.085h-8.24zM219.48 356.16h8.24v8.085h-8.24zM227.72 356.16h8.24v8.085h-8.24zM235.96 356.16h8.24v8.085h-8.24zM244.2 356.16h8.24v8.085h-8.24zM244.2 348.07h8.24v8.085h-8.24zM211.24 339.99h8.24v8.085h-8.24zM227.72 339.99h8.24v8.085h-8.24zM244.2 339.99h8.24v8.085h-8.24zM252.44 339.99h8.24v8.085h-8.24zM260.68 339.99h8.24v8.085h-8.24zM277.16 339.99h8.24v8.085h-8.24zM260.68 331.9h8.24v8.085h-8.24zM244.2 323.82h8.24v8.085h-8.24zM260.68 323.82h8.24v8.085h-8.24zM268.92 323.82h8.24v8.085h-8.24zM277.16 323.82h8.24v8.085h-8.24zM285.4 323.82h8.24v8.085h-8.24zM293.64 323.82h8.24v8.085h-8.24zM310.12 323.82h8.24v8.085h-8.24zM293.64 315.74h8.24v8.085h-8.24zM277.16 307.65h8.24v8.085h-8.24zM293.64 307.65h8.24v8.085h-8.24zM301.88 307.65h8.24v8.085h-8.24zM310.12 307.65h8.24v8.085h-8.24zM318.36 307.65h8.24v8.085h-8.24zM326.6 307.65h8.24v8.085h-8.24zM310.12 291.48h8.24v8.085h-8.24zM326.6 291.48h8.24v8.085h-8.24zM334.84 291.48h8.24v8.085h-8.24zM343.08 291.48h8.24v8.085h-8.24zM359.56 291.48h8.24v8.085h-8.24zM343.08 283.39h8.24v8.085h-8.24zM326.6 275.31h8.24v8.085h-8.24zM343.08 275.31h8.24v8.085h-8.24zM367.8 275.31h8.24v8.085h-8.24zM376.04 275.31h8.24v8.085h-8.24zM359.56 259.14h8.24v8.085h-8.24zM376.04 259.14h8.24v8.085h-8.24zM392.52 259.14h8.24v8.085h-8.24zM400.76 259.14h8.24v8.085h-8.24zM409 259.14h8.24v8.085h-8.24zM425.48 259.14h8.24v8.085h-8.24zM392.52 242.97h8.24v8.085h-8.24zM409 242.97h8.24v8.085h-8.24zM417.24 242.97h8.24v8.085h-8.24zM425.48 242.97h8.24v8.085h-8.24zM433.72 242.97h8.24v8.085h-8.24zM441.96 242.97h8.24v8.085h-8.24zM458.44 242.97h8.24v8.085h-8.24zM441.96 234.88h8.24v8.085h-8.24zM458.44 234.88h8.24v8.085h-8.24zM441.96 226.8h8.24v8.085h-8.24zM458.44 226.8h8.24v8.085h-8.24zM466.68 226.8h8.24v8.085h-8.24zM474.92 226.8h8.24v8.085h-8.24zM474.92 218.71h8.24v8.085h-8.24zM524.36 218.71h8.24v8.085h-8.24zM474.92 210.63h8.24v8.085h-8.24zM507.88 210.63h8.24v8.085h-8.24zM499.64 202.54h8.24v8.085h-8.24zM532.6 202.54h8.24v8.085h-8.24zM540.84 202.54h8.24v8.085h-8.24zM557.32 186.37h8.24v8.085h-8.24zM409.14 381.02h8.24v8.085h-8.24zM442.1 364.85h8.24v8.085h-8.24zM425.62 356.76h8.24v8.085h-8.24zM442.1 348.68h8.24v8.085h-8.24zM450.34 348.68h8.24v8.085h-8.24zM475.06 348.68h8.24v8.085h-8.24zM458.58 340.59h8.24v8.085h-8.24zM466.82 332.5h8.24v8.085h-8.24z"/>
<path fill="#f5e03c" d="M70.43 200h8.24L70.43 208.08zM78.67 200h8.24L78.67 208.08zM53.95 183.82h8.24L53.95 191.91zM86.91 183.82h8.24L86.91 191.91zM70.43 167.66h8.24L70.43 175.74zM103.39 135.31h8.24L103.39 143.4zM119.87 119.14h8.24L119.87 127.23zM152.83 86.8h8.24L152.83 94.89zM490.82 43.4h8.24v4.45h-8.24zM490.82 27.23h8.24v4.45h-8.24zM499.06 11.06h8.24v4.45h-8.24zM137.08 392.14h8.24v4.45h-8.24zM128.84 380.42h8.24L128.84 388.5zM137.08 372.33h8.24L137.08 380.41zM128.84 364.25h8.24L128.84 372.33zM145.32 364.25h8.24L145.32 372.33zM310.12 295.12h8.24v4.45h-8.24zM359.56 262.78h8.24v4.45h-8.24zM376.04 262.78h8.24v4.45h-8.24zM326.6 251.05h8.24L326.6 259.14zM441.96 230.44h8.24v4.45h-8.24zM384.28 218.71h8.24L384.28 226.8zM392.52 218.71h8.24L392.52 226.8zM425.48 218.71h8.24L425.48 226.8zM458.44 218.71h8.24L458.44 226.8zM491.4 218.71h8.24L491.4 226.8zM499.64 218.71h8.24L499.64 226.8zM507.88 218.71h8.24L507.88 226.8zM516.12 218.71h8.24L516.12 226.8zM400.76 210.63h8.24L400.76 218.72zM409 210.63h8.24L409 218.72zM425.48 210.63h8.24L425.48 218.72zM433.72 210.63h8.24L433.72 218.72zM441.96 210.63h8.24L441.96 218.72zM450.2 210.63h8.24L450.2 218.72zM458.44 210.63h8.24L458.44 218.72zM466.68 210.63h8.24L466.68 218.72zM524.36 210.63h8.24L524.36 218.72zM540.84 210.63h8.24L540.84 218.72zM425.48 202.54h8.24L425.48 210.63zM433.72 202.54h8.24L433.72 210.63zM441.96 202.54h8.24L441.96 210.63zM450.2 202.54h8.24L450.2 210.63zM458.44 202.54h8.24L458.44 210.63zM466.68 202.54h8.24L466.68 210.63zM549.08 202.54h8.24L549.08 210.63zM425.48 194.46h8.24L425.48 202.54zM433.72 194.46h8.24L433.72 202.54zM441.96 194.46h8.24L441.96 202.54zM450.2 194.46h8.24L450.2 202.54zM458.44 194.46h8.24L458.44 202.54zM466.68 194.46h8.24L466.68 202.54zM549.08 194.46h8.24L549.08 202.54zM557.32 194.46h8.24L557.32 202.54zM466.68 186.37h8.24L466.68 194.46zM549.08 186.37h8.24L549.08 194.46zM302.02 389.1h8.24L302.02 397.19zM392.66 389.1h8.24L392.66 397.19zM376.18 372.93h8.24L376.18 381.01zM384.42 372.93h8.24L384.42 381.01zM384.42 364.85h8.24L384.42 372.93zM442.1 368.48h8.24v4.45h-8.24zM392.66 356.76h8.24L392.66 364.84zM400.9 356.76h8.24L400.9 364.84zM409.14 356.76h8.24L409.14 364.84zM417.38 356.76h8.24L417.38 364.84zM425.62 360.4h8.24v4.45h-8.24zM392.66 348.68h8.24L392.66 356.76zM400.9 348.68h8.24L400.9 356.76zM417.38 348.68h8.24L417.38 356.76zM442.1 352.31h8.24v4.45h-8.24zM450.34 352.31h8.24v4.45h-8.24zM475.06 352.31h8.24v4.45h-8.24zM425.62 340.59h8.24L425.62 348.68zM442.1 340.59h8.24L442.1 348.68zM458.58 344.23h8.24v4.45h-8.24zM409.14 332.5h8.24L409.14 340.59zM417.38 332.5h8.24L417.38 340.59zM425.62 332.5h8.24L425.62 340.59zM433.86 332.5h8.24L433.86 340.59zM442.1 332.5h8.24L442.1 340.59zM483.3 332.5h8.24L483.3 340.59zM442.1 324.42h8.24L442.1 332.5zM458.58 324.42h8.24L458.58 332.5zM442.1 316.34h8.24L442.1 324.42zM466.82 316.34h8.24L466.82 324.42zM483.3 316.34h8.24L483.3 324.42zM475.06 308.25h8.24L475.06 316.33zM483.3 308.25h8.24L483.3 316.33zM491.54 308.25h8.24L491.54 316.33zM524.5 308.25h8.24L524.5 316.33zM475.06 300.17h8.24L475.06 308.25zM483.3 300.17h8.24L483.3 308.25zM491.54 300.17h8.24L491.54 308.25zM491.54 292.08h8.24L491.54 300.17zM499.78 292.08h8.24L499.78 300.17zM508.02 292.08h8.24L508.02 300.17zM524.5 292.08h8.24L524.5 300.17zM508.02 284h8.24L508.02 292.08zM516.26 284h8.24L516.26 292.08zM532.74 284h8.24L532.74 292.08zM540.98 275.91h8.24L540.98 284z"/>
<path fill="#ec8a85" d="M185.79 86.8h8.24L185.79 94.89zM202.27 70.63h8.24L202.27 78.72zM87.06 274.23h8.24L87.06 282.31zM136.5 241.89h8.24L136.5 249.97zM185.94 209.55h8.24L185.94 217.63zM268.34 144.87h8.24L268.34 152.95zM301.3 128.7h8.24L301.3 136.78zM317.78 112.53h8.24L317.78 120.61zM334.26 112.53h8.24L334.26 120.61zM383.7 96.36h8.24L383.7 104.44zM400.18 80.19h8.24L400.18 88.27zM416.66 80.19h8.24L416.66 88.27zM416.66 64.02h8.24L416.66 72.1zM170.04 380.42h8.24L170.04 388.5zM186.52 364.25h8.24L186.52 372.33zM235.96 348.07h8.24L235.96 356.16zM252.44 331.9h8.24L252.44 339.99zM268.92 331.9h8.24L268.92 339.99zM285.4 315.74h8.24L285.4 323.82zM326.6 299.56h8.24L326.6 307.65zM351.32 283.39h8.24L351.32 291.48zM376.04 267.23h8.24L376.04 275.31zM392.52 267.23h8.24L392.52 275.31zM409 251.05h8.24L409 259.14zM450.2 234.88h8.24L450.2 242.97zM400.9 372.93h8.24L400.9 381.01zM450.34 340.59h8.24L450.34 348.68zM483.3 324.42h8.24L483.3 332.5zM499.78 324.42h8.24L499.78 332.5zM516.26 308.25h8.24L516.26 316.33zM549.22 292.08h8.24L549.22 300.17z"/>
<g fill="#7d879a" opacity="0.75"><use href="#t" x="37.47" y="224.25"/><use href="#t" x="45.71" y="216.16"/><use href="#t" x="62.19" y="208.08"/><use href="#t" x="70.43" y="200"/><use href="#t" x="78.67" y="200"/><use href="#t" x="78.67" y="191.91"/><use href="#t" x="86.91" y="183.82"/><use href="#t" x="95.15" y="183.82"/><use href="#t" x="95.15" y="175.74"/><use href="#t" x="103.39" y="175.74"/><use href="#t" x="103.39" y="167.66"/><use href="#t" x="111.63" y="167.66"/><use href="#t" x="119.87" y="159.57"/><use href="#t" x="119.87" y="151.48"/><use href="#t" x="128.11" y="151.48"/><use href="#t" x="136.35" y="143.4"/><use href="#t" x="144.59" y="143.4"/><use href="#t" x="136.35" y="135.31"/><use href="#t" x="144.59" y="135.31"/><use href="#t" x="152.83" y="135.31"/><use href="#t" x="152.83" y="127.23"/><use href="#t" x="161.07" y="127.23"/><use href="#t" x="152.83" y="119.14"/><use href="#t" x="161.07" y="119.14"/><use href="#t" x="169.31" y="111.06"/><use href="#t" x="177.55" y="111.06"/><use href="#t" x="169.31" y="102.97"/><use href="#t" x="177.55" y="102.97"/><use href="#t" x="185.79" y="102.97"/><use href="#t" x="185.79" y="94.89"/><use href="#t" x="202.27" y="94.89"/><use href="#t" x="210.51" y="94.89"/><use href="#t" x="185.79" y="86.8"/><use href="#t" x="202.27" y="86.8"/><use href="#t" x="210.51" y="86.8"/><use href="#t" x="218.75" y="86.8"/><use href="#t" x="202.27" y="78.72"/><use href="#t" x="218.75" y="78.72"/><use href="#t" x="226.99" y="78.72"/><use href="#t" x="202.27" y="70.63"/><use href="#t" x="218.75" y="70.63"/><use href="#t" x="226.99" y="70.63"/><use href="#t" x="235.23" y="70.63"/><use href="#t" x="243.47" y="70.63"/><use href="#t" x="235.23" y="62.55"/><use href="#t" x="251.71" y="62.55"/><use href="#t" x="268.19" y="62.55"/><use href="#t" x="235.23" y="54.46"/><use href="#t" x="243.47" y="54.46"/><use href="#t" x="251.71" y="54.46"/><use href="#t" x="259.95" y="54.46"/><use href="#t" x="268.19" y="54.46"/><use href="#t" x="268.19" y="46.38"/><use href="#t" x="268.19" y="38.29"/><use href="#t" x="276.43" y="38.29"/><use href="#t" x="284.67" y="38.29"/><use href="#t" x="284.67" y="30.21"/><use href="#t" x="284.67" y="22.12"/><use href="#t" x="292.91" y="22.12"/><use href="#t" x="301.15" y="14.04"/><use href="#t" x="309.39" y="14.04"/><use href="#t" x="317.63" y="14.04"/><use href="#t" x="301.15" y="5.95"/><use href="#t" x="309.39" y="5.95"/><use href="#t" x="317.63" y="5.95"/><use href="#t" x="325.87" y="5.95"/><use href="#t" x="334.11" y="5.95"/><use href="#t" x="70.58" y="290.4"/><use href="#t" x="78.82" y="290.4"/><use href="#t" x="87.06" y="290.4"/><use href="#t" x="95.3" y="290.4"/><use href="#t" x="103.54" y="290.4"/><use href="#t" x="87.06" y="282.31"/><use href="#t" x="103.54" y="282.31"/><use href="#t" x="111.78" y="282.31"/><use href="#t" x="87.06" y="274.23"/><use href="#t" x="103.54" y="274.23"/><use href="#t" x="111.78" y="274.23"/><use href="#t" x="120.02" y="274.23"/><use href="#t" x="120.02" y="266.14"/><use href="#t" x="136.5" y="266.14"/><use href="#t" x="144.74" y="266.14"/><use href="#t" x="120.02" y="258.06"/><use href="#t" x="136.5" y="258.06"/><use href="#t" x="144.74" y="258.06"/><use href="#t" x="152.98" y="258.06"/><use href="#t" x="152.98" y="249.97"/><use href="#t" x="169.46" y="249.97"/><use href="#t" x="177.7" y="249.97"/><use href="#t" x="136.5" y="241.89"/><use href="#t" x="152.98" y="241.89"/><use href="#t" x="161.22" y="241.89"/><use href="#t" x="169.46" y="241.89"/><use href="#t" x="177.7" y="241.89"/><use href="#t" x="185.94" y="241.89"/><use href="#t" x="227.14" y="241.89"/><use href="#t" x="185.94" y="233.8"/><use href="#t" x="202.42" y="233.8"/><use href="#t" x="210.66" y="233.8"/><use href="#t" x="218.9" y="233.8"/><use href="#t" x="235.38" y="233.8"/><use href="#t" x="185.94" y="225.72"/><use href="#t" x="194.18" y="225.72"/><use href="#t" x="202.42" y="225.72"/><use href="#t" x="210.66" y="225.72"/><use href="#t" x="227.14" y="225.72"/><use href="#t" x="235.38" y="225.72"/><use href="#t" x="243.62" y="225.72"/><use href="#t" x="251.86" y="225.72"/><use href="#t" x="202.42" y="217.63"/><use href="#t" x="218.9" y="217.63"/><use href="#t" x="227.14" y="217.63"/><use href="#t" x="235.38" y="217.63"/><use href="#t" x="243.62" y="217.63"/><use href="#t" x="251.86" y="217.63"/><use href="#t" x="260.1" y="217.63"/><use href="#t" x="268.34" y="217.63"/><use href="#t" x="276.58" y="217.63"/><use href="#t" x="293.06" y="217.63"/><use href="#t" x="185.94" y="209.55"/><use href="#t" x="202.42" y="209.55"/><use href="#t" x="210.66" y="209.55"/><use href="#t" x="218.9" y="209.55"/><use href="#t" x="227.14" y="209.55"/><use href="#t" x="235.38" y="209.55"/><use href="#t" x="243.62" y="209.55"/><use href="#t" x="251.86" y="209.55"/><use href="#t" x="260.1" y="209.55"/><use href="#t" x="268.34" y="209.55"/><use href="#t" x="276.58" y="209.55"/><use href="#t" x="293.06" y="209.55"/><use href="#t" x="218.9" y="201.46"/><use href="#t" x="227.14" y="201.46"/><use href="#t" x="235.38" y="201.46"/><use href="#t" x="243.62" y="201.46"/><use href="#t" x="251.86" y="201.46"/><use href="#t" x="260.1" y="201.46"/><use href="#t" x="268.34" y="201.46"/><use href="#t" x="284.82" y="201.46"/><use href="#t" x="218.9" y="193.38"/><use href="#t" x="227.14" y="193.38"/><use href="#t" x="235.38" y="193.38"/><use href="#t" x="243.62" y="193.38"/><use href="#t" x="251.86" y="193.38"/><use href="#t" x="260.1" y="193.38"/><use href="#t" x="276.58" y="193.38"/><use href="#t" x="235.38" y="185.29"/><use href="#t" x="251.86" y="185.29"/><use href="#t" x="268.34" y="185.29"/><use href="#t" x="284.82" y="185.29"/><use href="#t" x="227.14" y="177.21"/><use href="#t" x="235.38" y="177.21"/><use href="#t" x="243.62" y="177.21"/><use href="#t" x="251.86" y="177.21"/><use href="#t" x="260.1" y="177.21"/><use href="#t" x="268.34" y="177.21"/><use href="#t" x="276.58" y="177.21"/><use href="#t" x="268.34" y="169.12"/><use href="#t" x="284.82" y="169.12"/><use href="#t" x="293.06" y="169.12"/><use href="#t" x="317.78" y="169.12"/><use href="#t" x="251.86" y="161.04"/><use href="#t" x="260.1" y="161.04"/><use href="#t" x="268.34" y="161.04"/><use href="#t" x="276.58" y="161.04"/><use href="#t" x="284.82" y="161.04"/><use href="#t" x="293.06" y="161.04"/><use href="#t" x="301.3" y="161.04"/><use href="#t" x="309.54" y="161.04"/><use href="#t" x="284.82" y="152.95"/><use href="#t" x="301.3" y="152.95"/><use href="#t" x="309.54" y="152.95"/><use href="#t" x="317.78" y="152.95"/><use href="#t" x="326.02" y="152.95"/><use href="#t" x="268.34" y="144.87"/><use href="#t" x="284.82" y="144.87"/><use href="#t" x="293.06" y="144.87"/><use href="#t" x="301.3" y="144.87"/><use href="#t" x="309.54" y="144.87"/><use href="#t" x="317.78" y="144.87"/><use href="#t" x="326.02" y="144.87"/><use href="#t" x="334.26" y="144.87"/><use href="#t" x="301.3" y="136.78"/><use href="#t" x="317.78" y="136.78"/><use href="#t" x="334.26" y="136.78"/><use href="#t" x="342.5" y="136.78"/><use href="#t" x="350.74" y="136.78"/><use href="#t" x="358.98" y="136.78"/><use href="#t" x="367.22" y="136.78"/><use href="#t" x="301.3" y="128.7"/><use href="#t" x="317.78" y="128.7"/><use href="#t" x="326.02" y="128.7"/><use href="#t" x="334.26" y="128.7"/><use href="#t" x="342.5" y="128.7"/><use href="#t" x="350.74" y="128.7"/><use href="#t" x="358.98" y="128.7"/><use href="#t" x="367.22" y="128.7"/><use href="#t" x="375.46" y="128.7"/><use href="#t" x="350.74" y="120.61"/><use href="#t" x="367.22" y="120.61"/><use href="#t" x="375.46" y="120.61"/><use href="#t" x="383.7" y="120.61"/><use href="#t" x="400.18" y="120.61"/><use href="#t" x="317.78" y="112.53"/><use href="#t" x="334.26" y="112.53"/><use href="#t" x="342.5" y="112.53"/><use href="#t" x="350.74" y="112.53"/><use href="#t" x="358.98" y="112.53"/><use href="#t" x="367.22" y="112.53"/><use href="#t" x="375.46" y="112.53"/><use href="#t" x="383.7" y="112.53"/><use href="#t" x="391.94" y="112.53"/><use href="#t" x="383.7" y="104.44"/><use href="#t" x="400.18" y="104.44"/><use href="#t" x="416.66" y="104.44"/><use href="#t" x="424.9" y="104.44"/><use href="#t" x="433.14" y="104.44"/><use href="#t" x="441.38" y="104.44"/><use href="#t" x="457.86" y="104.44"/><use href="#t" x="466.1" y="104.44"/><use href="#t" x="474.34" y="104.44"/><use href="#t" x="383.7" y="96.36"/><use href="#t" x="400.18" y="96.36"/><use href="#t" x="408.42" y="96.36"/><use href="#t" x="416.66" y="96.36"/><use href="#t" x="424.9" y="96.36"/><use href="#t" x="433.14" y="96.36"/><use href="#t" x="441.38" y="96.36"/><use href="#t" x="449.62" y="96.36"/><use href="#t" x="457.86" y="96.36"/><use href="#t" x="466.1" y="96.36"/><use href="#t" x="474.34" y="96.36"/><use href="#t" x="482.58" y="96.36"/><use href="#t" x="416.66" y="88.27"/><use href="#t" x="433.14" y="88.27"/><use href="#t" x="449.62" y="88.27"/><use href="#t" x="457.86" y="88.27"/><use href="#t" x="466.1" y="88.27"/><use href="#t" x="474.34" y="88.27"/><use href="#t" x="400.18" y="80.19"/><use href="#t" x="416.66" y="80.19"/><use href="#t" x="424.9" y="80.19"/><use href="#t" x="433.14" y="80.19"/><use href="#t" x="441.38" y="80.19"/><use href="#t" x="449.62" y="80.19"/><use href="#t" x="457.86" y="80.19"/><use href="#t" x="466.1" y="80.19"/><use href="#t" x="474.34" y="80.19"/><use href="#t" x="482.58" y="80.19"/><use href="#t" x="490.82" y="80.19"/><use href="#t" x="499.06" y="80.19"/><use href="#t" x="507.3" y="80.19"/><use href="#t" x="449.62" y="72.1"/><use href="#t" x="466.1" y="72.1"/><use href="#t" x="482.58" y="72.1"/><use href="#t" x="490.82" y="72.1"/><use href="#t" x="499.06" y="72.1"/><use href="#t" x="507.3" y="72.1"/><use href="#t" x="515.54" y="72.1"/><use href="#t" x="532.02" y="72.1"/><use href="#t" x="540.26" y="72.1"/><use href="#t" x="416.66" y="64.02"/><use href="#t" x="449.62" y="64.02"/><use href="#t" x="457.86" y="64.02"/><use href="#t" x="466.1" y="64.02"/><use href="#t" x="482.58" y="64.02"/><use href="#t" x="490.82" y="64.02"/><use href="#t" x="499.06" y="64.02"/><use href="#t" x="507.3" y="64.02"/><use href="#t" x="515.54" y="64.02"/><use href="#t" x="523.78" y="64.02"/><use href="#t" x="532.02" y="64.02"/><use href="#t" x="482.58" y="55.93"/><use href="#t" x="490.82" y="55.93"/><use href="#t" x="499.06" y="55.93"/><use href="#t" x="507.3" y="55.93"/><use href="#t" x="515.54" y="55.93"/><use href="#t" x="523.78" y="55.93"/><use href="#t" x="482.58" y="47.85"/><use href="#t" x="490.82" y="47.85"/><use href="#t" x="499.06" y="47.85"/><use href="#t" x="507.3" y="47.85"/><use href="#t" x="515.54" y="47.85"/><use href="#t" x="482.58" y="39.76"/><use href="#t" x="499.06" y="39.76"/><use href="#t" x="507.3" y="39.76"/><use href="#t" x="515.54" y="39.76"/><use href="#t" x="523.78" y="39.76"/><use href="#t" x="482.58" y="31.68"/><use href="#t" x="490.82" y="31.68"/><use href="#t" x="499.06" y="31.68"/><use href="#t" x="507.3" y="31.68"/><use href="#t" x="515.54" y="31.68"/><use href="#t" x="515.54" y="23.59"/><use href="#t" x="532.02" y="23.59"/><use href="#t" x="548.5" y="23.59"/><use href="#t" x="499.06" y="15.51"/><use href="#t" x="507.3" y="15.51"/><use href="#t" x="515.54" y="15.51"/><use href="#t" x="523.78" y="15.51"/><use href="#t" x="532.02" y="15.51"/><use href="#t" x="540.26" y="15.51"/><use href="#t" x="532.02" y="7.42"/><use href="#t" x="548.5" y="7.42"/><use href="#t" x="564.98" y="7.42"/><use href="#t" x="573.22" y="7.42"/><use href="#t" x="170.04" y="388.5"/><use href="#t" x="186.52" y="388.5"/><use href="#t" x="203" y="388.5"/><use href="#t" x="211.24" y="388.5"/><use href="#t" x="153.56" y="380.42"/><use href="#t" x="170.04" y="380.42"/><use href="#t" x="186.52" y="380.42"/><use href="#t" x="194.76" y="380.42"/><use href="#t" x="203" y="380.42"/><use href="#t" x="211.24" y="380.42"/><use href="#t" x="219.48" y="380.42"/><use href="#t" x="227.72" y="380.42"/><use href="#t" x="219.48" y="372.33"/><use href="#t" x="235.96" y="372.33"/><use href="#t" x="186.52" y="364.25"/><use href="#t" x="219.48" y="364.25"/><use href="#t" x="227.72" y="364.25"/><use href="#t" x="235.96" y="364.25"/><use href="#t" x="244.2" y="364.25"/><use href="#t" x="252.44" y="364.25"/><use href="#t" x="268.92" y="364.25"/><use href="#t" x="252.44" y="356.16"/><use href="#t" x="260.68" y="356.16"/><use href="#t" x="235.96" y="348.07"/><use href="#t" x="252.44" y="348.07"/><use href="#t" x="260.68" y="348.07"/><use href="#t" x="277.16" y="348.07"/><use href="#t" x="268.92" y="339.99"/><use href="#t" x="285.4" y="339.99"/><use href="#t" x="293.64" y="339.99"/><use href="#t" x="252.44" y="331.9"/><use href="#t" x="268.92" y="331.9"/><use href="#t" x="277.16" y="331.9"/><use href="#t" x="285.4" y="331.9"/><use href="#t" x="301.88" y="331.9"/><use href="#t" x="318.36" y="331.9"/><use href="#t" x="301.88" y="323.82"/><use href="#t" x="318.36" y="323.82"/><use href="#t" x="285.4" y="315.74"/><use href="#t" x="301.88" y="315.74"/><use href="#t" x="310.12" y="315.74"/><use href="#t" x="318.36" y="315.74"/><use href="#t" x="326.6" y="315.74"/><use href="#t" x="334.84" y="307.65"/><use href="#t" x="326.6" y="299.56"/><use href="#t" x="334.84" y="299.56"/><use href="#t" x="343.08" y="299.56"/><use href="#t" x="351.32" y="299.56"/><use href="#t" x="359.56" y="299.56"/><use href="#t" x="367.8" y="299.56"/><use href="#t" x="351.32" y="291.48"/><use href="#t" x="367.8" y="291.48"/><use href="#t" x="376.04" y="291.48"/><use href="#t" x="351.32" y="283.39"/><use href="#t" x="359.56" y="283.39"/><use href="#t" x="367.8" y="283.39"/><use href="#t" x="376.04" y="283.39"/><use href="#t" x="384.28" y="283.39"/><use href="#t" x="400.76" y="283.39"/><use href="#t" x="384.28" y="275.31"/><use href="#t" x="392.52" y="275.31"/><use href="#t" x="400.76" y="275.31"/><use href="#t" x="409" y="275.31"/><use href="#t" x="417.24" y="275.31"/><use href="#t" x="376.04" y="267.23"/><use href="#t" x="384.28" y="267.23"/><use href="#t" x="392.52" y="267.23"/><use href="#t" x="400.76" y="267.23"/><use href="#t" x="409" y="267.23"/><use href="#t" x="417.24" y="267.23"/><use href="#t" x="425.48" y="267.23"/><use href="#t" x="433.72" y="267.23"/><use href="#t" x="417.24" y="259.14"/><use href="#t" x="433.72" y="259.14"/><use href="#t" x="441.96" y="259.14"/><use href="#t" x="450.2" y="259.14"/><use href="#t" x="409" y="251.05"/><use href="#t" x="417.24" y="251.05"/><use href="#t" x="425.48" y="251.05"/><use href="#t" x="433.72" y="251.05"/><use href="#t" x="441.96" y="251.05"/><use href="#t" x="450.2" y="251.05"/><use href="#t" x="458.44" y="251.05"/><use href="#t" x="450.2" y="242.97"/><use href="#t" x="466.68" y="242.97"/><use href="#t" x="450.2" y="234.88"/><use href="#t" x="466.68" y="234.88"/><use href="#t" x="474.92" y="234.88"/><use href="#t" x="483.16" y="234.88"/><use href="#t" x="491.4" y="234.88"/><use href="#t" x="499.64" y="234.88"/><use href="#t" x="483.16" y="226.8"/><use href="#t" x="491.4" y="226.8"/><use href="#t" x="499.64" y="226.8"/><use href="#t" x="507.88" y="226.8"/><use href="#t" x="516.12" y="226.8"/><use href="#t" x="532.6" y="226.8"/><use href="#t" x="491.4" y="218.71"/><use href="#t" x="499.64" y="218.71"/><use href="#t" x="507.88" y="218.71"/><use href="#t" x="516.12" y="218.71"/><use href="#t" x="532.6" y="218.71"/><use href="#t" x="524.36" y="210.63"/><use href="#t" x="540.84" y="210.63"/><use href="#t" x="549.08" y="202.54"/><use href="#t" x="549.08" y="194.46"/><use href="#t" x="557.32" y="194.46"/><use href="#t" x="549.08" y="186.37"/><use href="#t" x="392.66" y="389.1"/><use href="#t" x="400.9" y="381.02"/><use href="#t" x="417.38" y="381.02"/><use href="#t" x="425.62" y="381.02"/><use href="#t" x="433.86" y="381.02"/><use href="#t" x="442.1" y="381.02"/><use href="#t" x="400.9" y="372.93"/><use href="#t" x="417.38" y="372.93"/><use href="#t" x="425.62" y="372.93"/><use href="#t" x="433.86" y="372.93"/><use href="#t" x="433.86" y="364.85"/><use href="#t" x="450.34" y="364.85"/><use href="#t" x="458.58" y="364.85"/><use href="#t" x="466.82" y="364.85"/><use href="#t" x="417.38" y="356.76"/><use href="#t" x="433.86" y="356.76"/><use href="#t" x="442.1" y="356.76"/><use href="#t" x="450.34" y="356.76"/><use href="#t" x="458.58" y="356.76"/><use href="#t" x="475.06" y="356.76"/><use href="#t" x="466.82" y="348.68"/><use href="#t" x="483.3" y="348.68"/><use href="#t" x="491.54" y="348.68"/><use href="#t" x="450.34" y="340.59"/><use href="#t" x="466.82" y="340.59"/><use href="#t" x="475.06" y="340.59"/><use href="#t" x="483.3" y="340.59"/><use href="#t" x="483.3" y="332.5"/><use href="#t" x="499.78" y="332.5"/><use href="#t" x="508.02" y="332.5"/><use href="#t" x="516.26" y="332.5"/><use href="#t" x="524.5" y="332.5"/><use href="#t" x="483.3" y="324.42"/><use href="#t" x="499.78" y="324.42"/><use href="#t" x="508.02" y="324.42"/><use href="#t" x="516.26" y="324.42"/><use href="#t" x="532.74" y="316.34"/><use href="#t" x="516.26" y="308.25"/><use href="#t" x="524.5" y="308.25"/><use href="#t" x="532.74" y="308.25"/><use href="#t" x="549.22" y="300.17"/><use href="#t" x="549.22" y="292.08"/><use href="#t" x="557.46" y="292.08"/><use href="#t" x="565.7" y="292.08"/></g>
<g fill="#5d6650" opacity="0.75"><use href="#t" x="29.23" y="216.16"/><use href="#t" x="37.47" y="216.16"/><use href="#t" x="37.47" y="208.08"/><use href="#t" x="45.71" y="208.08"/><use href="#t" x="53.95" y="200"/><use href="#t" x="62.19" y="200"/><use href="#t" x="70.43" y="191.91"/><use href="#t" x="70.43" y="183.82"/><use href="#t" x="78.67" y="183.82"/><use href="#t" x="78.67" y="175.74"/><use href="#t" x="86.91" y="175.74"/><use href="#t" x="86.91" y="167.66"/><use href="#t" x="95.15" y="167.66"/><use href="#t" x="95.15" y="159.57"/><use href="#t" x="103.39" y="159.57"/><use href="#t" x="111.63" y="159.57"/><use href="#t" x="111.63" y="151.48"/><use href="#t" x="111.63" y="143.4"/><use href="#t" x="119.87" y="143.4"/><use href="#t" x="128.11" y="143.4"/><use href="#t" x="128.11" y="135.31"/><use href="#t" x="128.11" y="127.23"/><use href="#t" x="136.35" y="127.23"/><use href="#t" x="144.59" y="127.23"/><use href="#t" x="144.59" y="119.14"/><use href="#t" x="144.59" y="111.06"/><use href="#t" x="152.83" y="111.06"/><use href="#t" x="161.07" y="111.06"/><use href="#t" x="161.07" y="102.97"/><use href="#t" x="161.07" y="94.89"/><use href="#t" x="169.31" y="94.89"/><use href="#t" x="177.55" y="94.89"/><use href="#t" x="194.03" y="94.89"/><use href="#t" x="177.55" y="86.8"/><use href="#t" x="194.03" y="86.8"/><use href="#t" x="177.55" y="78.72"/><use href="#t" x="194.03" y="78.72"/><use href="#t" x="210.51" y="78.72"/><use href="#t" x="194.03" y="70.63"/><use href="#t" x="210.51" y="70.63"/><use href="#t" x="194.03" y="62.55"/><use href="#t" x="210.51" y="62.55"/><use href="#t" x="218.75" y="62.55"/><use href="#t" x="226.99" y="62.55"/><use href="#t" x="243.47" y="62.55"/><use href="#t" x="259.95" y="62.55"/><use href="#t" x="226.99" y="54.46"/><use href="#t" x="226.99" y="46.38"/><use href="#t" x="235.23" y="46.38"/><use href="#t" x="243.47" y="46.38"/><use href="#t" x="251.71" y="46.38"/><use href="#t" x="259.95" y="46.38"/><use href="#t" x="251.71" y="38.29"/><use href="#t" x="259.95" y="38.29"/><use href="#t" x="243.47" y="30.21"/><use href="#t" x="259.95" y="30.21"/><use href="#t" x="268.19" y="30.21"/><use href="#t" x="276.43" y="30.21"/><use href="#t" x="276.43" y="22.12"/><use href="#t" x="259.95" y="14.04"/><use href="#t" x="276.43" y="14.04"/><use href="#t" x="284.67" y="14.04"/><use href="#t" x="292.91" y="14.04"/><use href="#t" x="292.91" y="5.95"/><use href="#t" x="62.34" y="290.4"/><use href="#t" x="45.86" y="282.31"/><use href="#t" x="62.34" y="282.31"/><use href="#t" x="70.58" y="282.31"/><use href="#t" x="78.82" y="282.31"/><use href="#t" x="95.3" y="282.31"/><use href="#t" x="78.82" y="274.23"/><use href="#t" x="95.3" y="274.23"/><use href="#t" x="78.82" y="266.14"/><use href="#t" x="95.3" y="266.14"/><use href="#t" x="103.54" y="266.14"/><use href="#t" x="111.78" y="266.14"/><use href="#t" x="128.26" y="266.14"/><use href="#t" x="111.78" y="258.06"/><use href="#t" x="128.26" y="258.06"/><use href="#t" x="111.78" y="249.97"/><use href="#t" x="128.26" y="249.97"/><use href="#t" x="136.5" y="249.97"/><use href="#t" x="144.74" y="249.97"/><use href="#t" x="161.22" y="249.97"/><use href="#t" x="144.74" y="241.89"/><use href="#t" x="128.26" y="233.8"/><use href="#t" x="144.74" y="233.8"/><use href="#t" x="152.98" y="233.8"/><use href="#t" x="161.22" y="233.8"/><use href="#t" x="169.46" y="233.8"/><use href="#t" x="177.7" y="233.8"/><use href="#t" x="194.18" y="233.8"/><use href="#t" x="161.22" y="225.72"/><use href="#t" x="177.7" y="225.72"/><use href="#t" x="144.74" y="217.63"/><use href="#t" x="161.22" y="217.63"/><use href="#t" x="177.7" y="217.63"/><use href="#t" x="185.94" y="217.63"/><use href="#t" x="194.18" y="217.63"/><use href="#t" x="210.66" y="217.63"/><use href="#t" x="194.18" y="209.55"/><use href="#t" x="177.7" y="201.46"/><use href="#t" x="194.18" y="201.46"/><use href="#t" x="202.42" y="201.46"/><use href="#t" x="210.66" y="201.46"/><use href="#t" x="210.66" y="193.38"/><use href="#t" x="210.66" y="185.29"/><use href="#t" x="218.9" y="185.29"/><use href="#t" x="227.14" y="185.29"/><use href="#t" x="243.62" y="185.29"/><use href="#t" x="260.1" y="185.29"/><use href="#t" x="210.66" y="169.12"/><use href="#t" x="227.14" y="169.12"/><use href="#t" x="235.38" y="169.12"/><use href="#t" x="243.62" y="169.12"/><use href="#t" x="251.86" y="169.12"/><use href="#t" x="260.1" y="169.12"/><use href="#t" x="276.58" y="169.12"/><use href="#t" x="227.14" y="152.95"/><use href="#t" x="243.62" y="152.95"/><use href="#t" x="251.86" y="152.95"/><use href="#t" x="260.1" y="152.95"/><use href="#t" x="268.34" y="152.95"/><use href="#t" x="276.58" y="152.95"/><use href="#t" x="293.06" y="152.95"/><use href="#t" x="276.58" y="144.87"/><use href="#t" x="260.1" y="136.78"/><use href="#t" x="276.58" y="136.78"/><use href="#t" x="284.82" y="136.78"/><use href="#t" x="293.06" y="136.78"/><use href="#t" x="309.54" y="136.78"/><use href="#t" x="326.02" y="136.78"/><use href="#t" x="293.06" y="128.7"/><use href="#t" x="309.54" y="128.7"/><use href="#t" x="276.58" y="120.61"/><use href="#t" x="293.06" y="120.61"/><use href="#t" x="309.54" y="120.61"/><use href="#t" x="317.78" y="120.61"/><use href="#t" x="326.02" y="120.61"/><use href="#t" x="334.26" y="120.61"/><use href="#t" x="342.5" y="120.61"/><use href="#t" x="358.98" y="120.61"/><use href="#t" x="326.02" y="112.53"/><use href="#t" x="309.54" y="104.44"/><use href="#t" x="326.02" y="104.44"/><use href="#t" x="334.26" y="104.44"/><use href="#t" x="342.5" y="104.44"/><use href="#t" x="350.74" y="104.44"/><use href="#t" x="358.98" y="104.44"/><use href="#t" x="367.22" y="104.44"/><use href="#t" x="375.46" y="104.44"/><use href="#t" x="391.94" y="104.44"/><use href="#t" x="408.42" y="104.44"/><use href="#t" x="375.46" y="96.36"/><use href="#t" x="391.94" y="96.36"/><use href="#t" x="358.98" y="88.27"/><use href="#t" x="375.46" y="88.27"/><use href="#t" x="383.7" y="88.27"/><use href="#t" x="391.94" y="88.27"/><use href="#t" x="400.18" y="88.27"/><use href="#t" x="408.42" y="88.27"/><use href="#t" x="424.9" y="88.27"/><use href="#t" x="441.38" y="88.27"/><use href="#t" x="408.42" y="80.19"/><use href="#t" x="375.46" y="72.1"/><use href="#t" x="391.94" y="72.1"/><use href="#t" x="408.42" y="72.1"/><use href="#t" x="416.66" y="72.1"/><use href="#t" x="424.9" y="72.1"/><use href="#t" x="433.14" y="72.1"/><use href="#t" x="441.38" y="72.1"/><use href="#t" x="457.86" y="72.1"/><use href="#t" x="474.34" y="72.1"/><use href="#t" x="441.38" y="64.02"/><use href="#t" x="474.34" y="64.02"/><use href="#t" x="408.42" y="55.93"/><use href="#t" x="424.9" y="55.93"/><use href="#t" x="441.38" y="55.93"/><use href="#t" x="449.62" y="55.93"/><use href="#t" x="457.86" y="55.93"/><use href="#t" x="466.1" y="55.93"/><use href="#t" x="474.34" y="55.93"/><use href="#t" x="466.1" y="47.85"/><use href="#t" x="474.34" y="47.85"/><use href="#t" x="441.38" y="39.76"/><use href="#t" x="457.86" y="39.76"/><use href="#t" x="474.34" y="39.76"/><use href="#t" x="490.82" y="39.76"/><use href="#t" x="474.34" y="31.68"/><use href="#t" x="474.34" y="23.59"/><use href="#t" x="482.58" y="23.59"/><use href="#t" x="490.82" y="23.59"/><use href="#t" x="499.06" y="23.59"/><use href="#t" x="507.3" y="23.59"/><use href="#t" x="523.78" y="23.59"/><use href="#t" x="540.26" y="23.59"/><use href="#t" x="474.34" y="7.42"/><use href="#t" x="499.06" y="7.42"/><use href="#t" x="507.3" y="7.42"/><use href="#t" x="515.54" y="7.42"/><use href="#t" x="523.78" y="7.42"/><use href="#t" x="540.26" y="7.42"/><use href="#t" x="556.74" y="7.42"/><use href="#t" x="112.36" y="388.5"/><use href="#t" x="137.08" y="388.5"/><use href="#t" x="145.32" y="388.5"/><use href="#t" x="153.56" y="388.5"/><use href="#t" x="161.8" y="388.5"/><use href="#t" x="178.28" y="388.5"/><use href="#t" x="194.76" y="388.5"/><use href="#t" x="161.8" y="380.42"/><use href="#t" x="178.28" y="380.42"/><use href="#t" x="161.8" y="372.33"/><use href="#t" x="178.28" y="372.33"/><use href="#t" x="186.52" y="372.33"/><use href="#t" x="194.76" y="372.33"/><use href="#t" x="203" y="372.33"/><use href="#t" x="211.24" y="372.33"/><use href="#t" x="227.72" y="372.33"/><use href="#t" x="211.24" y="364.25"/><use href="#t" x="178.28" y="356.16"/><use href="#t" x="194.76" y="356.16"/><use href="#t" x="211.24" y="356.16"/><use href="#t" x="219.48" y="356.16"/><use href="#t" x="227.72" y="356.16"/><use href="#t" x="235.96" y="356.16"/><use href="#t" x="244.2" y="356.16"/><use href="#t" x="244.2" y="348.07"/><use href="#t" x="211.24" y="339.99"/><use href="#t" x="227.72" y="339.99"/><use href="#t" x="244.2" y="339.99"/><use href="#t" x="252.44" y="339.99"/><use href="#t" x="260.68" y="339.99"/><use href="#t" x="277.16" y="339.99"/><use href="#t" x="260.68" y="331.9"/><use href="#t" x="244.2" y="323.82"/><use href="#t" x="260.68" y="323.82"/><use href="#t" x="268.92" y="323.82"/><use href="#t" x="277.16" y="323.82"/><use href="#t" x="285.4" y="323.82"/><use href="#t" x="293.64" y="323.82"/><use href="#t" x="310.12" y="323.82"/><use href="#t" x="293.64" y="315.74"/><use href="#t" x="277.16" y="307.65"/><use href="#t" x="293.64" y="307.65"/><use href="#t" x="301.88" y="307.65"/><use href="#t" x="310.12" y="307.65"/><use href="#t" x="318.36" y="307.65"/><use href="#t" x="326.6" y="307.65"/><use href="#t" x="310.12" y="291.48"/><use href="#t" x="326.6" y="291.48"/><use href="#t" x="334.84" y="291.48"/><use href="#t" x="343.08" y="291.48"/><use href="#t" x="359.56" y="291.48"/><use href="#t" x="343.08" y="283.39"/><use href="#t" x="326.6" y="275.31"/><use href="#t" x="343.08" y="275.31"/><use href="#t" x="367.8" y="275.31"/><use href="#t" x="376.04" y="275.31"/><use href="#t" x="359.56" y="259.14"/><use href="#t" x="376.04" y="259.14"/><use href="#t" x="392.52" y="259.14"/><use href="#t" x="400.76" y="259.14"/><use href="#t" x="409" y="259.14"/><use href="#t" x="425.48" y="259.14"/><use href="#t" x="392.52" y="242.97"/><use href="#t" x="409" y="242.97"/><use href="#t" x="417.24" y="242.97"/><use href="#t" x="425.48" y="242.97"/><use href="#t" x="433.72" y="242.97"/><use href="#t" x="441.96" y="242.97"/><use href="#t" x="458.44" y="242.97"/><use href="#t" x="441.96" y="234.88"/><use href="#t" x="458.44" y="234.88"/><use href="#t" x="441.96" y="226.8"/><use href="#t" x="458.44" y="226.8"/><use href="#t" x="466.68" y="226.8"/><use href="#t" x="474.92" y="226.8"/><use href="#t" x="474.92" y="218.71"/><use href="#t" x="524.36" y="218.71"/><use href="#t" x="474.92" y="210.63"/><use href="#t" x="507.88" y="210.63"/><use href="#t" x="499.64" y="202.54"/><use href="#t" x="532.6" y="202.54"/><use href="#t" x="540.84" y="202.54"/><use href="#t" x="557.32" y="186.37"/><use href="#t" x="409.14" y="381.02"/><use href="#t" x="442.1" y="364.85"/><use href="#t" x="425.62" y="356.76"/><use href="#t" x="442.1" y="348.68"/><use href="#t" x="450.34" y="348.68"/><use href="#t" x="475.06" y="348.68"/><use href="#t" x="458.58" y="340.59"/><use href="#t" x="466.82" y="332.5"/></g>
<g fill="#b09a2a" opacity="0.75"><use href="#t" x="53.95" y="208.08"/><use href="#t" x="45.71" y="200"/><use href="#t" x="62.19" y="191.91"/><use href="#t" x="62.19" y="183.82"/><use href="#t" x="490.82" y="7.42"/><use href="#t" x="128.84" y="388.5"/><use href="#t" x="128.84" y="372.33"/><use href="#t" x="145.32" y="372.33"/><use href="#t" x="128.84" y="356.16"/><use href="#t" x="137.08" y="356.16"/><use href="#t" x="145.32" y="356.16"/><use href="#t" x="153.56" y="356.16"/><use href="#t" x="161.8" y="356.16"/><use href="#t" x="161.8" y="348.07"/><use href="#t" x="301.88" y="242.97"/><use href="#t" x="376.04" y="218.71"/><use href="#t" x="483.16" y="218.71"/><use href="#t" x="359.56" y="210.63"/><use href="#t" x="367.8" y="210.63"/><use href="#t" x="376.04" y="210.63"/><use href="#t" x="384.28" y="210.63"/><use href="#t" x="392.52" y="210.63"/><use href="#t" x="483.16" y="210.63"/><use href="#t" x="491.4" y="210.63"/><use href="#t" x="499.64" y="210.63"/><use href="#t" x="516.12" y="210.63"/><use href="#t" x="532.6" y="210.63"/><use href="#t" x="392.52" y="202.54"/><use href="#t" x="400.76" y="202.54"/><use href="#t" x="409" y="202.54"/><use href="#t" x="474.92" y="202.54"/><use href="#t" x="483.16" y="202.54"/><use href="#t" x="491.4" y="202.54"/><use href="#t" x="507.88" y="202.54"/><use href="#t" x="516.12" y="202.54"/><use href="#t" x="524.36" y="202.54"/><use href="#t" x="409" y="194.46"/><use href="#t" x="474.92" y="194.46"/><use href="#t" x="499.64" y="194.46"/><use href="#t" x="507.88" y="194.46"/><use href="#t" x="516.12" y="194.46"/><use href="#t" x="524.36" y="194.46"/><use href="#t" x="532.6" y="194.46"/><use href="#t" x="540.84" y="194.46"/><use href="#t" x="507.88" y="186.37"/><use href="#t" x="516.12" y="186.37"/><use href="#t" x="524.36" y="186.37"/><use href="#t" x="532.6" y="186.37"/><use href="#t" x="540.84" y="186.37"/><use href="#t" x="343.22" y="389.1"/><use href="#t" x="351.46" y="389.1"/><use href="#t" x="359.7" y="389.1"/><use href="#t" x="367.94" y="389.1"/><use href="#t" x="376.18" y="389.1"/><use href="#t" x="384.42" y="389.1"/><use href="#t" x="302.02" y="381.02"/><use href="#t" x="351.46" y="381.02"/><use href="#t" x="359.7" y="381.02"/><use href="#t" x="367.94" y="381.02"/><use href="#t" x="376.18" y="381.02"/><use href="#t" x="384.42" y="381.02"/><use href="#t" x="392.66" y="381.02"/><use href="#t" x="359.7" y="372.93"/><use href="#t" x="367.94" y="372.93"/><use href="#t" x="392.66" y="372.93"/><use href="#t" x="409.14" y="372.93"/><use href="#t" x="367.94" y="364.85"/><use href="#t" x="376.18" y="364.85"/><use href="#t" x="392.66" y="364.85"/><use href="#t" x="400.9" y="364.85"/><use href="#t" x="409.14" y="364.85"/><use href="#t" x="417.38" y="364.85"/><use href="#t" x="425.62" y="364.85"/><use href="#t" x="376.18" y="356.76"/><use href="#t" x="384.42" y="356.76"/><use href="#t" x="384.42" y="348.68"/><use href="#t" x="409.14" y="348.68"/><use href="#t" x="425.62" y="348.68"/><use href="#t" x="433.86" y="348.68"/><use href="#t" x="458.58" y="348.68"/><use href="#t" x="409.14" y="340.59"/><use href="#t" x="450.34" y="332.5"/><use href="#t" x="458.58" y="332.5"/><use href="#t" x="475.06" y="332.5"/><use href="#t" x="491.54" y="332.5"/><use href="#t" x="475.06" y="324.42"/><use href="#t" x="491.54" y="324.42"/><use href="#t" x="458.58" y="316.34"/><use href="#t" x="475.06" y="316.34"/><use href="#t" x="491.54" y="316.34"/><use href="#t" x="499.78" y="316.34"/><use href="#t" x="508.02" y="316.34"/><use href="#t" x="516.26" y="316.34"/><use href="#t" x="524.5" y="316.34"/><use href="#t" x="540.98" y="316.34"/><use href="#t" x="508.02" y="308.25"/><use href="#t" x="508.02" y="300.17"/><use href="#t" x="516.26" y="300.17"/><use href="#t" x="524.5" y="300.17"/><use href="#t" x="532.74" y="300.17"/><use href="#t" x="540.98" y="300.17"/><use href="#t" x="532.74" y="292.08"/><use href="#t" x="540.98" y="292.08"/><use href="#t" x="491.54" y="284"/><use href="#t" x="524.5" y="284"/><use href="#t" x="540.98" y="284"/><use href="#t" x="549.22" y="284"/><use href="#t" x="524.5" y="267.83"/></g>
<g fill="#b8625c" opacity="0.75"><use href="#t" x="53.95" y="191.91"/><use href="#t" x="53.95" y="183.82"/><use href="#t" x="53.95" y="175.74"/><use href="#t" x="62.19" y="175.74"/><use href="#t" x="70.43" y="175.74"/><use href="#t" x="70.43" y="167.66"/><use href="#t" x="78.67" y="167.66"/><use href="#t" x="78.67" y="159.57"/><use href="#t" x="86.91" y="159.57"/><use href="#t" x="95.15" y="151.48"/><use href="#t" x="103.39" y="151.48"/><use href="#t" x="95.15" y="143.4"/><use href="#t" x="103.39" y="143.4"/><use href="#t" x="103.39" y="135.31"/><use href="#t" x="111.63" y="135.31"/><use href="#t" x="119.87" y="135.31"/><use href="#t" x="119.87" y="127.23"/><use href="#t" x="119.87" y="119.14"/><use href="#t" x="128.11" y="119.14"/><use href="#t" x="136.35" y="119.14"/><use href="#t" x="128.11" y="111.06"/><use href="#t" x="136.35" y="111.06"/><use href="#t" x="136.35" y="102.97"/><use href="#t" x="144.59" y="102.97"/><use href="#t" x="152.83" y="102.97"/><use href="#t" x="152.83" y="94.89"/><use href="#t" x="152.83" y="86.8"/><use href="#t" x="161.07" y="86.8"/><use href="#t" x="169.31" y="86.8"/><use href="#t" x="169.31" y="78.72"/><use href="#t" x="185.79" y="78.72"/><use href="#t" x="177.55" y="70.63"/><use href="#t" x="185.79" y="70.63"/><use href="#t" x="177.55" y="62.55"/><use href="#t" x="185.79" y="62.55"/><use href="#t" x="202.27" y="62.55"/><use href="#t" x="185.79" y="54.46"/><use href="#t" x="194.03" y="54.46"/><use href="#t" x="202.27" y="54.46"/><use href="#t" x="210.51" y="54.46"/><use href="#t" x="218.75" y="54.46"/><use href="#t" x="202.27" y="46.38"/><use href="#t" x="210.51" y="46.38"/><use href="#t" x="218.75" y="46.38"/><use href="#t" x="210.51" y="38.29"/><use href="#t" x="218.75" y="38.29"/><use href="#t" x="226.99" y="38.29"/><use href="#t" x="235.23" y="38.29"/><use href="#t" x="243.47" y="38.29"/><use href="#t" x="210.51" y="30.21"/><use href="#t" x="226.99" y="30.21"/><use href="#t" x="235.23" y="30.21"/><use href="#t" x="251.71" y="30.21"/><use href="#t" x="235.23" y="22.12"/><use href="#t" x="243.47" y="22.12"/><use href="#t" x="251.71" y="22.12"/><use href="#t" x="259.95" y="22.12"/><use href="#t" x="268.19" y="22.12"/><use href="#t" x="243.47" y="14.04"/><use href="#t" x="251.71" y="14.04"/><use href="#t" x="268.19" y="14.04"/><use href="#t" x="251.71" y="5.95"/><use href="#t" x="259.95" y="5.95"/><use href="#t" x="268.19" y="5.95"/><use href="#t" x="276.43" y="5.95"/><use href="#t" x="284.67" y="5.95"/><use href="#t" x="21.14" y="290.4"/><use href="#t" x="29.38" y="290.4"/><use href="#t" x="37.62" y="290.4"/><use href="#t" x="45.86" y="290.4"/><use href="#t" x="54.1" y="290.4"/><use href="#t" x="29.38" y="282.31"/><use href="#t" x="37.62" y="282.31"/><use href="#t" x="54.1" y="282.31"/><use href="#t" x="37.62" y="274.23"/><use href="#t" x="45.86" y="274.23"/><use href="#t" x="54.1" y="274.23"/><use href="#t" x="62.34" y="274.23"/><use href="#t" x="70.58" y="274.23"/><use href="#t" x="45.86" y="266.14"/><use href="#t" x="54.1" y="266.14"/><use href="#t" x="62.34" y="266.14"/><use href="#t" x="70.58" y="266.14"/><use href="#t" x="87.06" y="266.14"/><use href="#t" x="70.58" y="258.06"/><use href="#t" x="78.82" y="258.06"/><use href="#t" x="87.06" y="258.06"/><use href="#t" x="95.3" y="258.06"/><use href="#t" x="103.54" y="258.06"/><use href="#t" x="54.1" y="249.97"/><use href="#t" x="87.06" y="249.97"/><use href="#t" x="95.3" y="249.97"/><use href="#t" x="103.54" y="249.97"/><use href="#t" x="120.02" y="249.97"/><use href="#t" x="87.06" y="241.89"/><use href="#t" x="95.3" y="241.89"/><use href="#t" x="103.54" y="241.89"/><use href="#t" x="111.78" y="241.89"/><use href="#t" x="120.02" y="241.89"/><use href="#t" x="128.26" y="241.89"/><use href="#t" x="95.3" y="233.8"/><use href="#t" x="103.54" y="233.8"/><use href="#t" x="111.78" y="233.8"/><use href="#t" x="120.02" y="233.8"/><use href="#t" x="136.5" y="233.8"/><use href="#t" x="120.02" y="225.72"/><use href="#t" x="128.26" y="225.72"/><use href="#t" x="136.5" y="225.72"/><use href="#t" x="144.74" y="225.72"/><use href="#t" x="152.98" y="225.72"/><use href="#t" x="169.46" y="225.72"/><use href="#t" x="128.26" y="217.63"/><use href="#t" x="136.5" y="217.63"/><use href="#t" x="152.98" y="217.63"/><use href="#t" x="169.46" y="217.63"/><use href="#t" x="144.74" y="209.55"/><use href="#t" x="152.98" y="209.55"/><use href="#t" x="161.22" y="209.55"/><use href="#t" x="169.46" y="209.55"/><use href="#t" x="177.7" y="209.55"/><use href="#t" x="152.98" y="201.46"/><use href="#t" x="161.22" y="201.46"/><use href="#t" x="169.46" y="201.46"/><use href="#t" x="185.94" y="201.46"/><use href="#t" x="152.98" y="193.38"/><use href="#t" x="161.22" y="193.38"/><use href="#t" x="169.46" y="193.38"/><use href="#t" x="177.7" y="193.38"/><use href="#t" x="185.94" y="193.38"/><use href="#t" x="194.18" y="193.38"/><use href="#t" x="202.42" y="193.38"/><use href="#t" x="177.7" y="185.29"/><use href="#t" x="185.94" y="185.29"/><use href="#t" x="194.18" y="185.29"/><use href="#t" x="202.42" y="185.29"/><use href="#t" x="194.18" y="177.21"/><use href="#t" x="202.42" y="177.21"/><use href="#t" x="210.66" y="177.21"/><use href="#t" x="218.9" y="177.21"/><use href="#t" x="194.18" y="169.12"/><use href="#t" x="202.42" y="169.12"/><use href="#t" x="218.9" y="169.12"/><use href="#t" x="202.42" y="161.04"/><use href="#t" x="210.66" y="161.04"/><use href="#t" x="218.9" y="161.04"/><use href="#t" x="227.14" y="161.04"/><use href="#t" x="235.38" y="161.04"/><use href="#t" x="243.62" y="161.04"/><use href="#t" x="202.42" y="152.95"/><use href="#t" x="210.66" y="152.95"/><use href="#t" x="218.9" y="152.95"/><use href="#t" x="235.38" y="152.95"/><use href="#t" x="218.9" y="144.87"/><use href="#t" x="227.14" y="144.87"/><use href="#t" x="235.38" y="144.87"/><use href="#t" x="243.62" y="144.87"/><use href="#t" x="251.86" y="144.87"/><use href="#t" x="260.1" y="144.87"/><use href="#t" x="227.14" y="136.78"/><use href="#t" x="235.38" y="136.78"/><use href="#t" x="243.62" y="136.78"/><use href="#t" x="251.86" y="136.78"/><use href="#t" x="268.34" y="136.78"/><use href="#t" x="243.62" y="128.7"/><use href="#t" x="251.86" y="128.7"/><use href="#t" x="260.1" y="128.7"/><use href="#t" x="268.34" y="128.7"/><use href="#t" x="276.58" y="128.7"/><use href="#t" x="284.82" y="128.7"/><use href="#t" x="260.1" y="120.61"/><use href="#t" x="268.34" y="120.61"/><use href="#t" x="284.82" y="120.61"/><use href="#t" x="301.3" y="120.61"/><use href="#t" x="276.58" y="112.53"/><use href="#t" x="284.82" y="112.53"/><use href="#t" x="293.06" y="112.53"/><use href="#t" x="301.3" y="112.53"/><use href="#t" x="309.54" y="112.53"/><use href="#t" x="276.58" y="104.44"/><use href="#t" x="284.82" y="104.44"/><use href="#t" x="293.06" y="104.44"/><use href="#t" x="301.3" y="104.44"/><use href="#t" x="317.78" y="104.44"/><use href="#t" x="293.06" y="96.36"/><use href="#t" x="301.3" y="96.36"/><use href="#t" x="309.54" y="96.36"/><use href="#t" x="326.02" y="96.36"/><use href="#t" x="334.26" y="96.36"/><use href="#t" x="342.5" y="96.36"/><use href="#t" x="350.74" y="96.36"/><use href="#t" x="358.98" y="96.36"/><use href="#t" x="367.22" y="96.36"/><use href="#t" x="293.06" y="88.27"/><use href="#t" x="301.3" y="88.27"/><use href="#t" x="309.54" y="88.27"/><use href="#t" x="326.02" y="88.27"/><use href="#t" x="334.26" y="88.27"/><use href="#t" x="342.5" y="88.27"/><use href="#t" x="350.74" y="88.27"/><use href="#t" x="367.22" y="88.27"/><use href="#t" x="342.5" y="80.19"/><use href="#t" x="350.74" y="80.19"/><use href="#t" x="358.98" y="80.19"/><use href="#t" x="367.22" y="80.19"/><use href="#t" x="375.46" y="80.19"/><use href="#t" x="383.7" y="80.19"/><use href="#t" x="391.94" y="80.19"/><use href="#t" x="350.74" y="72.1"/><use href="#t" x="358.98" y="72.1"/><use href="#t" x="367.22" y="72.1"/><use href="#t" x="383.7" y="72.1"/><use href="#t" x="400.18" y="72.1"/><use href="#t" x="358.98" y="64.02"/><use href="#t" x="375.46" y="64.02"/><use href="#t" x="383.7" y="64.02"/><use href="#t" x="391.94" y="64.02"/><use href="#t" x="400.18" y="64.02"/><use href="#t" x="408.42" y="64.02"/><use href="#t" x="424.9" y="64.02"/><use href="#t" x="433.14" y="64.02"/><use href="#t" x="375.46" y="55.93"/><use href="#t" x="383.7" y="55.93"/><use href="#t" x="391.94" y="55.93"/><use href="#t" x="400.18" y="55.93"/><use href="#t" x="416.66" y="55.93"/><use href="#t" x="433.14" y="55.93"/><use href="#t" x="408.42" y="47.85"/><use href="#t" x="416.66" y="47.85"/><use href="#t" x="424.9" y="47.85"/><use href="#t" x="433.14" y="47.85"/><use href="#t" x="441.38" y="47.85"/><use href="#t" x="449.62" y="47.85"/><use href="#t" x="457.86" y="47.85"/><use href="#t" x="400.18" y="39.76"/><use href="#t" x="408.42" y="39.76"/><use href="#t" x="416.66" y="39.76"/><use href="#t" x="424.9" y="39.76"/><use href="#t" x="433.14" y="39.76"/><use href="#t" x="449.62" y="39.76"/><use href="#t" x="466.1" y="39.76"/><use href="#t" x="424.9" y="31.68"/><use href="#t" x="433.14" y="31.68"/><use href="#t" x="441.38" y="31.68"/><use href="#t" x="449.62" y="31.68"/><use href="#t" x="457.86" y="31.68"/><use href="#t" x="466.1" y="31.68"/><use href="#t" x="441.38" y="23.59"/><use href="#t" x="449.62" y="23.59"/><use href="#t" x="457.86" y="23.59"/><use href="#t" x="466.1" y="23.59"/><use href="#t" x="457.86" y="15.51"/><use href="#t" x="466.1" y="15.51"/><use href="#t" x="474.34" y="15.51"/><use href="#t" x="482.58" y="15.51"/><use href="#t" x="490.82" y="15.51"/><use href="#t" x="457.86" y="7.42"/><use href="#t" x="466.1" y="7.42"/><use href="#t" x="482.58" y="7.42"/><use href="#t" x="95.88" y="388.5"/><use href="#t" x="104.12" y="388.5"/><use href="#t" x="120.6" y="388.5"/><use href="#t" x="104.12" y="380.42"/><use href="#t" x="112.36" y="380.42"/><use href="#t" x="120.6" y="380.42"/><use href="#t" x="128.84" y="380.42"/><use href="#t" x="137.08" y="380.42"/><use href="#t" x="145.32" y="380.42"/><use href="#t" x="120.6" y="372.33"/><use href="#t" x="137.08" y="372.33"/><use href="#t" x="153.56" y="372.33"/><use href="#t" x="170.04" y="372.33"/><use href="#t" x="112.36" y="364.25"/><use href="#t" x="128.84" y="364.25"/><use href="#t" x="145.32" y="364.25"/><use href="#t" x="161.8" y="364.25"/><use href="#t" x="170.04" y="364.25"/><use href="#t" x="178.28" y="364.25"/><use href="#t" x="120.6" y="356.16"/><use href="#t" x="170.04" y="356.16"/><use href="#t" x="186.52" y="356.16"/><use href="#t" x="203" y="356.16"/><use href="#t" x="170.04" y="348.07"/><use href="#t" x="194.76" y="348.07"/><use href="#t" x="203" y="348.07"/><use href="#t" x="211.24" y="348.07"/><use href="#t" x="219.48" y="348.07"/><use href="#t" x="194.76" y="339.99"/><use href="#t" x="203" y="339.99"/><use href="#t" x="219.48" y="339.99"/><use href="#t" x="235.96" y="339.99"/><use href="#t" x="227.72" y="331.9"/><use href="#t" x="235.96" y="331.9"/><use href="#t" x="244.2" y="331.9"/><use href="#t" x="219.48" y="323.82"/><use href="#t" x="227.72" y="323.82"/><use href="#t" x="235.96" y="323.82"/><use href="#t" x="252.44" y="323.82"/><use href="#t" x="244.2" y="315.74"/><use href="#t" x="252.44" y="315.74"/><use href="#t" x="260.68" y="315.74"/><use href="#t" x="268.92" y="315.74"/><use href="#t" x="277.16" y="315.74"/><use href="#t" x="244.2" y="307.65"/><use href="#t" x="252.44" y="307.65"/><use href="#t" x="260.68" y="307.65"/><use href="#t" x="268.92" y="307.65"/><use href="#t" x="285.4" y="307.65"/><use href="#t" x="285.4" y="299.56"/><use href="#t" x="293.64" y="299.56"/><use href="#t" x="301.88" y="299.56"/><use href="#t" x="310.12" y="299.56"/><use href="#t" x="318.36" y="299.56"/><use href="#t" x="277.16" y="291.48"/><use href="#t" x="285.4" y="291.48"/><use href="#t" x="293.64" y="291.48"/><use href="#t" x="318.36" y="291.48"/><use href="#t" x="277.16" y="283.39"/><use href="#t" x="285.4" y="283.39"/><use href="#t" x="301.88" y="283.39"/><use href="#t" x="310.12" y="283.39"/><use href="#t" x="318.36" y="283.39"/><use href="#t" x="326.6" y="283.39"/><use href="#t" x="334.84" y="283.39"/><use href="#t" x="301.88" y="275.31"/><use href="#t" x="310.12" y="275.31"/><use href="#t" x="318.36" y="275.31"/><use href="#t" x="334.84" y="275.31"/><use href="#t" x="351.32" y="275.31"/><use href="#t" x="359.56" y="275.31"/><use href="#t" x="301.88" y="267.23"/><use href="#t" x="310.12" y="267.23"/><use href="#t" x="326.6" y="267.23"/><use href="#t" x="334.84" y="267.23"/><use href="#t" x="343.08" y="267.23"/><use href="#t" x="351.32" y="267.23"/><use href="#t" x="359.56" y="267.23"/><use href="#t" x="367.8" y="267.23"/><use href="#t" x="326.6" y="259.14"/><use href="#t" x="334.84" y="259.14"/><use href="#t" x="343.08" y="259.14"/><use href="#t" x="351.32" y="259.14"/><use href="#t" x="367.8" y="259.14"/><use href="#t" x="384.28" y="259.14"/><use href="#t" x="318.36" y="251.05"/><use href="#t" x="326.6" y="251.05"/><use href="#t" x="334.84" y="251.05"/><use href="#t" x="343.08" y="251.05"/><use href="#t" x="359.56" y="251.05"/><use href="#t" x="367.8" y="251.05"/><use href="#t" x="376.04" y="251.05"/><use href="#t" x="384.28" y="251.05"/><use href="#t" x="392.52" y="251.05"/><use href="#t" x="400.76" y="251.05"/><use href="#t" x="293.64" y="242.97"/><use href="#t" x="318.36" y="242.97"/><use href="#t" x="334.84" y="242.97"/><use href="#t" x="343.08" y="242.97"/><use href="#t" x="351.32" y="242.97"/><use href="#t" x="359.56" y="242.97"/><use href="#t" x="367.8" y="242.97"/><use href="#t" x="376.04" y="242.97"/><use href="#t" x="384.28" y="242.97"/><use href="#t" x="400.76" y="242.97"/><use href="#t" x="376.04" y="234.88"/><use href="#t" x="384.28" y="234.88"/><use href="#t" x="392.52" y="234.88"/><use href="#t" x="400.76" y="234.88"/><use href="#t" x="409" y="234.88"/><use href="#t" x="417.24" y="234.88"/><use href="#t" x="425.48" y="234.88"/><use href="#t" x="433.72" y="234.88"/><use href="#t" x="367.8" y="226.8"/><use href="#t" x="376.04" y="226.8"/><use href="#t" x="384.28" y="226.8"/><use href="#t" x="392.52" y="226.8"/><use href="#t" x="400.76" y="226.8"/><use href="#t" x="409" y="226.8"/><use href="#t" x="417.24" y="226.8"/><use href="#t" x="425.48" y="226.8"/><use href="#t" x="433.72" y="226.8"/><use href="#t" x="450.2" y="226.8"/><use href="#t" x="384.28" y="218.71"/><use href="#t" x="392.52" y="218.71"/><use href="#t" x="400.76" y="218.71"/><use href="#t" x="409" y="218.71"/><use href="#t" x="417.24" y="218.71"/><use href="#t" x="425.48" y="218.71"/><use href="#t" x="433.72" y="218.71"/><use href="#t" x="441.96" y="218.71"/><use href="#t" x="450.2" y="218.71"/><use href="#t" x="458.44" y="218.71"/><use href="#t" x="466.68" y="218.71"/><use href="#t" x="400.76" y="210.63"/><use href="#t" x="409" y="210.63"/><use href="#t" x="417.24" y="210.63"/><use href="#t" x="425.48" y="210.63"/><use href="#t" x="433.72" y="210.63"/><use href="#t" x="441.96" y="210.63"/><use href="#t" x="450.2" y="210.63"/><use href="#t" x="458.44" y="210.63"/><use href="#t" x="466.68" y="210.63"/><use href="#t" x="417.24" y="202.54"/><use href="#t" x="425.48" y="202.54"/><use href="#t" x="433.72" y="202.54"/><use href="#t" x="441.96" y="202.54"/><use href="#t" x="450.2" y="202.54"/><use href="#t" x="458.44" y="202.54"/><use href="#t" x="466.68" y="202.54"/><use href="#t" x="425.48" y="194.46"/><use href="#t" x="433.72" y="194.46"/><use href="#t" x="441.96" y="194.46"/><use href="#t" x="450.2" y="194.46"/><use href="#t" x="458.44" y="194.46"/><use href="#t" x="466.68" y="194.46"/><use href="#t" x="466.68" y="186.37"/><use href="#t" x="302.02" y="389.1"/><use href="#t" x="376.18" y="372.93"/><use href="#t" x="384.42" y="372.93"/><use href="#t" x="384.42" y="364.85"/><use href="#t" x="392.66" y="356.76"/><use href="#t" x="400.9" y="356.76"/><use href="#t" x="409.14" y="356.76"/><use href="#t" x="392.66" y="348.68"/><use href="#t" x="400.9" y="348.68"/><use href="#t" x="417.38" y="348.68"/><use href="#t" x="417.38" y="340.59"/><use href="#t" x="425.62" y="340.59"/><use href="#t" x="433.86" y="340.59"/><use href="#t" x="442.1" y="340.59"/><use href="#t" x="409.14" y="332.5"/><use href="#t" x="417.38" y="332.5"/><use href="#t" x="425.62" y="332.5"/><use href="#t" x="433.86" y="332.5"/><use href="#t" x="442.1" y="332.5"/><use href="#t" x="442.1" y="324.42"/><use href="#t" x="450.34" y="324.42"/><use href="#t" x="458.58" y="324.42"/><use href="#t" x="466.82" y="324.42"/><use href="#t" x="442.1" y="316.34"/><use href="#t" x="450.34" y="316.34"/><use href="#t" x="466.82" y="316.34"/><use href="#t" x="483.3" y="316.34"/><use href="#t" x="475.06" y="308.25"/><use href="#t" x="483.3" y="308.25"/><use href="#t" x="491.54" y="308.25"/><use href="#t" x="499.78" y="308.25"/><use href="#t" x="475.06" y="300.17"/><use href="#t" x="483.3" y="300.17"/><use href="#t" x="491.54" y="300.17"/><use href="#t" x="499.78" y="300.17"/><use href="#t" x="483.3" y="292.08"/><use href="#t" x="491.54" y="292.08"/><use href="#t" x="499.78" y="292.08"/><use href="#t" x="508.02" y="292.08"/><use href="#t" x="516.26" y="292.08"/><use href="#t" x="524.5" y="292.08"/><use href="#t" x="508.02" y="284"/><use href="#t" x="516.26" y="284"/><use href="#t" x="532.74" y="284"/><use href="#t" x="540.98" y="275.91"/><use href="#t" x="549.22" y="275.91"/></g>
<path d="M37.47 224.25h8.24v8.085h-8.24zM12.75 216.16h8.24v8.085h-8.24zM20.99 216.16h8.24v8.085h-8.24zM29.23 216.16h8.24v8.085h-8.24zM37.47 216.16h8.24v8.085h-8.24zM45.71 216.16h8.24v8.085h-8.24zM53.95 216.16h8.24v8.085h-8.24zM12.75 208.08h8.24v8.085h-8.24zM20.99 208.08h8.24v8.085h-8.24zM29.23 208.08h8.24v8.085h-8.24zM37.47 208.08h8.24v8.085h-8.24zM45.71 208.08h8.24v8.085h-8.24zM53.95 208.08h8.24v8.085h-8.24zM62.19 208.08h8.24v8.085h-8.24zM70.43 208.08h8.24v8.085h-8.24zM78.67 208.08h8.24v8.085h-8.24zM12.75 200h8.24v8.085h-8.24zM20.99 200h8.24v8.085h-8.24zM29.23 200h8.24v8.085h-8.24zM37.47 200h8.24v8.085h-8.24zM45.71 200h8.24v8.085h-8.24zM53.95 200h8.24v8.085h-8.24zM62.19 200h8.24v8.085h-8.24zM70.43 200h8.24v8.085h-8.24zM78.67 200h8.24v8.085h-8.24zM86.91 200h8.24v8.085h-8.24zM29.23 191.91h8.24v8.085h-8.24zM37.47 191.91h8.24v8.085h-8.24zM45.71 191.91h8.24v8.085h-8.24zM53.95 191.91h8.24v8.085h-8.24zM62.19 191.91h8.24v8.085h-8.24zM70.43 191.91h8.24v8.085h-8.24zM78.67 191.91h8.24v8.085h-8.24zM86.91 191.91h8.24v8.085h-8.24zM95.15 191.91h8.24v8.085h-8.24zM29.23 183.82h8.24v8.085h-8.24zM37.47 183.82h8.24v8.085h-8.24zM45.71 183.82h8.24v8.085h-8.24zM53.95 183.82h8.24v8.085h-8.24zM62.19 183.82h8.24v8.085h-8.24zM70.43 183.82h8.24v8.085h-8.24zM78.67 183.82h8.24v8.085h-8.24zM86.91 183.82h8.24v8.085h-8.24zM95.15 183.82h8.24v8.085h-8.24zM103.39 183.82h8.24v8.085h-8.24zM111.63 183.82h8.24v8.085h-8.24zM119.87 183.82h8.24v8.085h-8.24zM29.23 175.74h8.24v8.085h-8.24zM37.47 175.74h8.24v8.085h-8.24zM45.71 175.74h8.24v8.085h-8.24zM53.95 175.74h8.24v8.085h-8.24zM62.19 175.74h8.24v8.085h-8.24zM70.43 175.74h8.24v8.085h-8.24zM78.67 175.74h8.24v8.085h-8.24zM86.91 175.74h8.24v8.085h-8.24zM95.15 175.74h8.24v8.085h-8.24zM103.39 175.74h8.24v8.085h-8.24zM111.63 175.74h8.24v8.085h-8.24zM119.87 175.74h8.24v8.085h-8.24zM45.71 167.66h8.24v8.085h-8.24zM53.95 167.66h8.24v8.085h-8.24zM62.19 167.66h8.24v8.085h-8.24zM70.43 167.66h8.24v8.085h-8.24zM78.67 167.66h8.24v8.085h-8.24zM86.91 167.66h8.24v8.085h-8.24zM95.15 167.66h8.24v8.085h-8.24zM103.39 167.66h8.24v8.085h-8.24zM111.63 167.66h8.24v8.085h-8.24zM119.87 167.66h8.24v8.085h-8.24zM128.11 167.66h8.24v8.085h-8.24zM45.71 159.57h8.24v8.085h-8.24zM53.95 159.57h8.24v8.085h-8.24zM62.19 159.57h8.24v8.085h-8.24zM70.43 159.57h8.24v8.085h-8.24zM78.67 159.57h8.24v8.085h-8.24zM86.91 159.57h8.24v8.085h-8.24zM95.15 159.57h8.24v8.085h-8.24zM103.39 159.57h8.24v8.085h-8.24zM111.63 159.57h8.24v8.085h-8.24zM119.87 159.57h8.24v8.085h-8.24zM128.11 159.57h8.24v8.085h-8.24zM136.35 159.57h8.24v8.085h-8.24zM70.43 151.48h8.24v8.085h-8.24zM78.67 151.48h8.24v8.085h-8.24zM86.91 151.48h8.24v8.085h-8.24zM95.15 151.48h8.24v8.085h-8.24zM103.39 151.48h8.24v8.085h-8.24zM111.63 151.48h8.24v8.085h-8.24zM119.87 151.48h8.24v8.085h-8.24zM128.11 151.48h8.24v8.085h-8.24zM136.35 151.48h8.24v8.085h-8.24zM144.59 151.48h8.24v8.085h-8.24zM70.43 143.4h8.24v8.085h-8.24zM78.67 143.4h8.24v8.085h-8.24zM86.91 143.4h8.24v8.085h-8.24zM95.15 143.4h8.24v8.085h-8.24zM103.39 143.4h8.24v8.085h-8.24zM111.63 143.4h8.24v8.085h-8.24zM119.87 143.4h8.24v8.085h-8.24zM128.11 143.4h8.24v8.085h-8.24zM136.35 143.4h8.24v8.085h-8.24zM144.59 143.4h8.24v8.085h-8.24zM152.83 143.4h8.24v8.085h-8.24zM161.07 143.4h8.24v8.085h-8.24zM70.43 135.31h8.24v8.085h-8.24zM78.67 135.31h8.24v8.085h-8.24zM86.91 135.31h8.24v8.085h-8.24zM95.15 135.31h8.24v8.085h-8.24zM103.39 135.31h8.24v8.085h-8.24zM111.63 135.31h8.24v8.085h-8.24zM119.87 135.31h8.24v8.085h-8.24zM128.11 135.31h8.24v8.085h-8.24zM136.35 135.31h8.24v8.085h-8.24zM144.59 135.31h8.24v8.085h-8.24zM152.83 135.31h8.24v8.085h-8.24zM161.07 135.31h8.24v8.085h-8.24zM95.15 127.23h8.24v8.085h-8.24zM103.39 127.23h8.24v8.085h-8.24zM111.63 127.23h8.24v8.085h-8.24zM119.87 127.23h8.24v8.085h-8.24zM128.11 127.23h8.24v8.085h-8.24zM136.35 127.23h8.24v8.085h-8.24zM144.59 127.23h8.24v8.085h-8.24zM152.83 127.23h8.24v8.085h-8.24zM161.07 127.23h8.24v8.085h-8.24zM169.31 127.23h8.24v8.085h-8.24zM177.55 127.23h8.24v8.085h-8.24zM95.15 119.14h8.24v8.085h-8.24zM103.39 119.14h8.24v8.085h-8.24zM111.63 119.14h8.24v8.085h-8.24zM119.87 119.14h8.24v8.085h-8.24zM128.11 119.14h8.24v8.085h-8.24zM136.35 119.14h8.24v8.085h-8.24zM144.59 119.14h8.24v8.085h-8.24zM152.83 119.14h8.24v8.085h-8.24zM161.07 119.14h8.24v8.085h-8.24zM169.31 119.14h8.24v8.085h-8.24zM177.55 119.14h8.24v8.085h-8.24zM95.15 111.06h8.24v8.085h-8.24zM103.39 111.06h8.24v8.085h-8.24zM111.63 111.06h8.24v8.085h-8.24zM119.87 111.06h8.24v8.085h-8.24zM128.11 111.06h8.24v8.085h-8.24zM136.35 111.06h8.24v8.085h-8.24zM144.59 111.06h8.24v8.085h-8.24zM152.83 111.06h8.24v8.085h-8.24zM161.07 111.06h8.24v8.085h-8.24zM169.31 111.06h8.24v8.085h-8.24zM177.55 111.06h8.24v8.085h-8.24zM185.79 111.06h8.24v8.085h-8.24zM194.03 111.06h8.24v8.085h-8.24zM119.87 102.97h8.24v8.085h-8.24zM128.11 102.97h8.24v8.085h-8.24zM136.35 102.97h8.24v8.085h-8.24zM144.59 102.97h8.24v8.085h-8.24zM152.83 102.97h8.24v8.085h-8.24zM161.07 102.97h8.24v8.085h-8.24zM169.31 102.97h8.24v8.085h-8.24zM177.55 102.97h8.24v8.085h-8.24zM185.79 102.97h8.24v8.085h-8.24zM194.03 102.97h8.24v8.085h-8.24zM202.27 102.97h8.24v8.085h-8.24zM210.51 102.97h8.24v8.085h-8.24zM119.87 94.89h8.24v8.085h-8.24zM128.11 94.89h8.24v8.085h-8.24zM136.35 94.89h8.24v8.085h-8.24zM144.59 94.89h8.24v8.085h-8.24zM152.83 94.89h8.24v8.085h-8.24zM161.07 94.89h8.24v8.085h-8.24zM169.31 94.89h8.24v8.085h-8.24zM177.55 94.89h8.24v8.085h-8.24zM185.79 94.89h8.24v8.085h-8.24zM194.03 94.89h8.24v8.085h-8.24zM202.27 94.89h8.24v8.085h-8.24zM210.51 94.89h8.24v8.085h-8.24zM218.75 94.89h8.24v8.085h-8.24zM226.99 94.89h8.24v8.085h-8.24zM119.87 86.8h8.24v8.085h-8.24zM128.11 86.8h8.24v8.085h-8.24zM136.35 86.8h8.24v8.085h-8.24zM144.59 86.8h8.24v8.085h-8.24zM152.83 86.8h8.24v8.085h-8.24zM161.07 86.8h8.24v8.085h-8.24zM169.31 86.8h8.24v8.085h-8.24zM177.55 86.8h8.24v8.085h-8.24zM185.79 86.8h8.24v8.085h-8.24zM194.03 86.8h8.24v8.085h-8.24zM202.27 86.8h8.24v8.085h-8.24zM210.51 86.8h8.24v8.085h-8.24zM218.75 86.8h8.24v8.085h-8.24zM226.99 86.8h8.24v8.085h-8.24zM152.83 78.72h8.24v8.085h-8.24zM161.07 78.72h8.24v8.085h-8.24zM169.31 78.72h8.24v8.085h-8.24zM177.55 78.72h8.24v8.085h-8.24zM185.79 78.72h8.24v8.085h-8.24zM194.03 78.72h8.24v8.085h-8.24zM202.27 78.72h8.24v8.085h-8.24zM210.51 78.72h8.24v8.085h-8.24zM218.75 78.72h8.24v8.085h-8.24zM226.99 78.72h8.24v8.085h-8.24zM235.23 78.72h8.24v8.085h-8.24zM243.47 78.72h8.24v8.085h-8.24zM152.83 70.63h8.24v8.085h-8.24zM161.07 70.63h8.24v8.085h-8.24zM169.31 70.63h8.24v8.085h-8.24zM177.55 70.63h8.24v8.085h-8.24zM185.79 70.63h8.24v8.085h-8.24zM194.03 70.63h8.24v8.085h-8.24zM202.27 70.63h8.24v8.085h-8.24zM210.51 70.63h8.24v8.085h-8.24zM218.75 70.63h8.24v8.085h-8.24zM226.99 70.63h8.24v8.085h-8.24zM235.23 70.63h8.24v8.085h-8.24zM243.47 70.63h8.24v8.085h-8.24zM251.71 70.63h8.24v8.085h-8.24zM259.95 70.63h8.24v8.085h-8.24zM152.83 62.55h8.24v8.085h-8.24zM161.07 62.55h8.24v8.085h-8.24zM169.31 62.55h8.24v8.085h-8.24zM177.55 62.55h8.24v8.085h-8.24zM185.79 62.55h8.24v8.085h-8.24zM194.03 62.55h8.24v8.085h-8.24zM202.27 62.55h8.24v8.085h-8.24zM210.51 62.55h8.24v8.085h-8.24zM218.75 62.55h8.24v8.085h-8.24zM226.99 62.55h8.24v8.085h-8.24zM235.23 62.55h8.24v8.085h-8.24zM243.47 62.55h8.24v8.085h-8.24zM251.71 62.55h8.24v8.085h-8.24zM259.95 62.55h8.24v8.085h-8.24zM268.19 62.55h8.24v8.085h-8.24zM276.43 62.55h8.24v8.085h-8.24zM284.67 62.55h8.24v8.085h-8.24zM169.31 54.46h8.24v8.085h-8.24zM177.55 54.46h8.24v8.085h-8.24zM185.79 54.46h8.24v8.085h-8.24zM194.03 54.46h8.24v8.085h-8.24zM202.27 54.46h8.24v8.085h-8.24zM210.51 54.46h8.24v8.085h-8.24zM218.75 54.46h8.24v8.085h-8.24zM226.99 54.46h8.24v8.085h-8.24zM235.23 54.46h8.24v8.085h-8.24zM243.47 54.46h8.24v8.085h-8.24zM251.71 54.46h8.24v8.085h-8.24zM259.95 54.46h8.24v8.085h-8.24zM268.19 54.46h8.24v8.085h-8.24zM276.43 54.46h8.24v8.085h-8.24zM284.67 54.46h8.24v8.085h-8.24zM169.31 46.38h8.24v8.085h-8.24zM177.55 46.38h8.24v8.085h-8.24zM185.79 46.38h8.24v8.085h-8.24zM194.03 46.38h8.24v8.085h-8.24zM202.27 46.38h8.24v8.085h-8.24zM210.51 46.38h8.24v8.085h-8.24zM218.75 46.38h8.24v8.085h-8.24zM226.99 46.38h8.24v8.085h-8.24zM235.23 46.38h8.24v8.085h-8.24zM243.47 46.38h8.24v8.085h-8.24zM251.71 46.38h8.24v8.085h-8.24zM259.95 46.38h8.24v8.085h-8.24zM268.19 46.38h8.24v8.085h-8.24zM276.43 46.38h8.24v8.085h-8.24zM284.67 46.38h8.24v8.085h-8.24zM169.31 38.29h8.24v8.085h-8.24zM177.55 38.29h8.24v8.085h-8.24zM185.79 38.29h8.24v8.085h-8.24zM194.03 38.29h8.24v8.085h-8.24zM202.27 38.29h8.24v8.085h-8.24zM210.51 38.29h8.24v8.085h-8.24zM218.75 38.29h8.24v8.085h-8.24zM226.99 38.29h8.24v8.085h-8.24zM235.23 38.29h8.24v8.085h-8.24zM243.47 38.29h8.24v8.085h-8.24zM251.71 38.29h8.24v8.085h-8.24zM259.95 38.29h8.24v8.085h-8.24zM268.19 38.29h8.24v8.085h-8.24zM276.43 38.29h8.24v8.085h-8.24zM284.67 38.29h8.24v8.085h-8.24zM292.91 38.29h8.24v8.085h-8.24zM301.15 38.29h8.24v8.085h-8.24zM169.31 30.21h8.24v8.085h-8.24zM177.55 30.21h8.24v8.085h-8.24zM185.79 30.21h8.24v8.085h-8.24zM194.03 30.21h8.24v8.085h-8.24zM202.27 30.21h8.24v8.085h-8.24zM210.51 30.21h8.24v8.085h-8.24zM218.75 30.21h8.24v8.085h-8.24zM226.99 30.21h8.24v8.085h-8.24zM235.23 30.21h8.24v8.085h-8.24zM243.47 30.21h8.24v8.085h-8.24zM251.71 30.21h8.24v8.085h-8.24zM259.95 30.21h8.24v8.085h-8.24zM268.19 30.21h8.24v8.085h-8.24zM276.43 30.21h8.24v8.085h-8.24zM284.67 30.21h8.24v8.085h-8.24zM292.91 30.21h8.24v8.085h-8.24zM301.15 30.21h8.24v8.085h-8.24zM218.75 22.12h8.24v8.085h-8.24zM226.99 22.12h8.24v8.085h-8.24zM235.23 22.12h8.24v8.085h-8.24zM243.47 22.12h8.24v8.085h-8.24zM251.71 22.12h8.24v8.085h-8.24zM259.95 22.12h8.24v8.085h-8.24zM268.19 22.12h8.24v8.085h-8.24zM276.43 22.12h8.24v8.085h-8.24zM284.67 22.12h8.24v8.085h-8.24zM292.91 22.12h8.24v8.085h-8.24zM301.15 22.12h8.24v8.085h-8.24zM309.39 22.12h8.24v8.085h-8.24zM218.75 14.04h8.24v8.085h-8.24zM226.99 14.04h8.24v8.085h-8.24zM235.23 14.04h8.24v8.085h-8.24zM243.47 14.04h8.24v8.085h-8.24zM251.71 14.04h8.24v8.085h-8.24zM259.95 14.04h8.24v8.085h-8.24zM268.19 14.04h8.24v8.085h-8.24zM276.43 14.04h8.24v8.085h-8.24zM284.67 14.04h8.24v8.085h-8.24zM292.91 14.04h8.24v8.085h-8.24zM301.15 14.04h8.24v8.085h-8.24zM309.39 14.04h8.24v8.085h-8.24zM317.63 14.04h8.24v8.085h-8.24zM325.87 14.04h8.24v8.085h-8.24zM334.11 14.04h8.24v8.085h-8.24zM243.47 5.95h8.24v8.085h-8.24zM251.71 5.95h8.24v8.085h-8.24zM259.95 5.95h8.24v8.085h-8.24zM268.19 5.95h8.24v8.085h-8.24zM276.43 5.95h8.24v8.085h-8.24zM284.67 5.95h8.24v8.085h-8.24zM292.91 5.95h8.24v8.085h-8.24zM301.15 5.95h8.24v8.085h-8.24zM309.39 5.95h8.24v8.085h-8.24zM317.63 5.95h8.24v8.085h-8.24zM325.87 5.95h8.24v8.085h-8.24zM334.11 5.95h8.24v8.085h-8.24zM342.35 5.95h8.24v8.085h-8.24zM12.9 290.4h8.24v8.085h-8.24zM21.14 290.4h8.24v8.085h-8.24zM29.38 290.4h8.24v8.085h-8.24zM37.62 290.4h8.24v8.085h-8.24zM45.86 290.4h8.24v8.085h-8.24zM54.1 290.4h8.24v8.085h-8.24zM62.34 290.4h8.24v8.085h-8.24zM70.58 290.4h8.24v8.085h-8.24zM78.82 290.4h8.24v8.085h-8.24zM87.06 290.4h8.24v8.085h-8.24zM95.3 290.4h8.24v8.085h-8.24zM103.54 290.4h8.24v8.085h-8.24zM111.78 290.4h8.24v8.085h-8.24zM120.02 290.4h8.24v8.085h-8.24zM12.9 282.31h8.24v8.085h-8.24zM21.14 282.31h8.24v8.085h-8.24zM29.38 282.31h8.24v8.085h-8.24zM37.62 282.31h8.24v8.085h-8.24zM45.86 282.31h8.24v8.085h-8.24zM54.1 282.31h8.24v8.085h-8.24zM62.34 282.31h8.24v8.085h-8.24zM70.58 282.31h8.24v8.085h-8.24zM78.82 282.31h8.24v8.085h-8.24zM87.06 282.31h8.24v8.085h-8.24zM95.3 282.31h8.24v8.085h-8.24zM103.54 282.31h8.24v8.085h-8.24zM111.78 282.31h8.24v8.085h-8.24zM120.02 282.31h8.24v8.085h-8.24zM128.26 282.31h8.24v8.085h-8.24zM12.9 274.23h8.24v8.085h-8.24zM21.14 274.23h8.24v8.085h-8.24zM29.38 274.23h8.24v8.085h-8.24zM37.62 274.23h8.24v8.085h-8.24zM45.86 274.23h8.24v8.085h-8.24zM54.1 274.23h8.24v8.085h-8.24zM62.34 274.23h8.24v8.085h-8.24zM70.58 274.23h8.24v8.085h-8.24zM78.82 274.23h8.24v8.085h-8.24zM87.06 274.23h8.24v8.085h-8.24zM95.3 274.23h8.24v8.085h-8.24zM103.54 274.23h8.24v8.085h-8.24zM111.78 274.23h8.24v8.085h-8.24zM120.02 274.23h8.24v8.085h-8.24zM128.26 274.23h8.24v8.085h-8.24zM136.5 274.23h8.24v8.085h-8.24zM29.38 266.14h8.24v8.085h-8.24zM37.62 266.14h8.24v8.085h-8.24zM45.86 266.14h8.24v8.085h-8.24zM54.1 266.14h8.24v8.085h-8.24zM62.34 266.14h8.24v8.085h-8.24zM70.58 266.14h8.24v8.085h-8.24zM78.82 266.14h8.24v8.085h-8.24zM87.06 266.14h8.24v8.085h-8.24zM95.3 266.14h8.24v8.085h-8.24zM103.54 266.14h8.24v8.085h-8.24zM111.78 266.14h8.24v8.085h-8.24zM120.02 266.14h8.24v8.085h-8.24zM128.26 266.14h8.24v8.085h-8.24zM136.5 266.14h8.24v8.085h-8.24zM144.74 266.14h8.24v8.085h-8.24zM152.98 266.14h8.24v8.085h-8.24zM161.22 266.14h8.24v8.085h-8.24zM29.38 258.06h8.24v8.085h-8.24zM37.62 258.06h8.24v8.085h-8.24zM45.86 258.06h8.24v8.085h-8.24zM54.1 258.06h8.24v8.085h-8.24zM62.34 258.06h8.24v8.085h-8.24zM70.58 258.06h8.24v8.085h-8.24zM78.82 258.06h8.24v8.085h-8.24zM87.06 258.06h8.24v8.085h-8.24zM95.3 258.06h8.24v8.085h-8.24zM103.54 258.06h8.24v8.085h-8.24zM111.78 258.06h8.24v8.085h-8.24zM120.02 258.06h8.24v8.085h-8.24zM128.26 258.06h8.24v8.085h-8.24zM136.5 258.06h8.24v8.085h-8.24zM144.74 258.06h8.24v8.085h-8.24zM152.98 258.06h8.24v8.085h-8.24zM161.22 258.06h8.24v8.085h-8.24zM169.46 258.06h8.24v8.085h-8.24zM45.86 249.97h8.24v8.085h-8.24zM54.1 249.97h8.24v8.085h-8.24zM62.34 249.97h8.24v8.085h-8.24zM70.58 249.97h8.24v8.085h-8.24zM78.82 249.97h8.24v8.085h-8.24zM87.06 249.97h8.24v8.085h-8.24zM95.3 249.97h8.24v8.085h-8.24zM103.54 249.97h8.24v8.085h-8.24zM111.78 249.97h8.24v8.085h-8.24zM120.02 249.97h8.24v8.085h-8.24zM128.26 249.97h8.24v8.085h-8.24zM136.5 249.97h8.24v8.085h-8.24zM144.74 249.97h8.24v8.085h-8.24zM152.98 249.97h8.24v8.085h-8.24zM161.22 249.97h8.24v8.085h-8.24zM169.46 249.97h8.24v8.085h-8.24zM177.7 249.97h8.24v8.085h-8.24zM185.94 249.97h8.24v8.085h-8.24zM194.18 249.97h8.24v8.085h-8.24zM45.86 241.89h8.24v8.085h-8.24zM54.1 241.89h8.24v8.085h-8.24zM62.34 241.89h8.24v8.085h-8.24zM70.58 241.89h8.24v8.085h-8.24zM78.82 241.89h8.24v8.085h-8.24zM87.06 241.89h8.24v8.085h-8.24zM95.3 241.89h8.24v8.085h-8.24zM103.54 241.89h8.24v8.085h-8.24zM111.78 241.89h8.24v8.085h-8.24zM120.02 241.89h8.24v8.085h-8.24zM128.26 241.89h8.24v8.085h-8.24zM136.5 241.89h8.24v8.085h-8.24zM144.74 241.89h8.24v8.085h-8.24zM152.98 241.89h8.24v8.085h-8.24zM161.22 241.89h8.24v8.085h-8.24zM169.46 241.89h8.24v8.085h-8.24zM177.7 241.89h8.24v8.085h-8.24zM185.94 241.89h8.24v8.085h-8.24zM194.18 241.89h8.24v8.085h-8.24zM202.42 241.89h8.24v8.085h-8.24zM210.66 241.89h8.24v8.085h-8.24zM218.9 241.89h8.24v8.085h-8.24zM227.14 241.89h8.24v8.085h-8.24zM235.38 241.89h8.24v8.085h-8.24zM243.62 241.89h8.24v8.085h-8.24zM78.82 233.8h8.24v8.085h-8.24zM87.06 233.8h8.24v8.085h-8.24zM95.3 233.8h8.24v8.085h-8.24zM103.54 233.8h8.24v8.085h-8.24zM111.78 233.8h8.24v8.085h-8.24zM120.02 233.8h8.24v8.085h-8.24zM128.26 233.8h8.24v8.085h-8.24zM136.5 233.8h8.24v8.085h-8.24zM144.74 233.8h8.24v8.085h-8.24zM152.98 233.8h8.24v8.085h-8.24zM161.22 233.8h8.24v8.085h-8.24zM169.46 233.8h8.24v8.085h-8.24zM177.7 233.8h8.24v8.085h-8.24zM185.94 233.8h8.24v8.085h-8.24zM194.18 233.8h8.24v8.085h-8.24zM202.42 233.8h8.24v8.085h-8.24zM210.66 233.8h8.24v8.085h-8.24zM218.9 233.8h8.24v8.085h-8.24zM227.14 233.8h8.24v8.085h-8.24zM235.38 233.8h8.24v8.085h-8.24zM243.62 233.8h8.24v8.085h-8.24zM251.86 233.8h8.24v8.085h-8.24zM78.82 225.72h8.24v8.085h-8.24zM87.06 225.72h8.24v8.085h-8.24zM95.3 225.72h8.24v8.085h-8.24zM103.54 225.72h8.24v8.085h-8.24zM111.78 225.72h8.24v8.085h-8.24zM120.02 225.72h8.24v8.085h-8.24zM128.26 225.72h8.24v8.085h-8.24zM136.5 225.72h8.24v8.085h-8.24zM144.74 225.72h8.24v8.085h-8.24zM152.98 225.72h8.24v8.085h-8.24zM161.22 225.72h8.24v8.085h-8.24zM169.46 225.72h8.24v8.085h-8.24zM177.7 225.72h8.24v8.085h-8.24zM185.94 225.72h8.24v8.085h-8.24zM194.18 225.72h8.24v8.085h-8.24zM202.42 225.72h8.24v8.085h-8.24zM210.66 225.72h8.24v8.085h-8.24zM218.9 225.72h8.24v8.085h-8.24zM227.14 225.72h8.24v8.085h-8.24zM235.38 225.72h8.24v8.085h-8.24zM243.62 225.72h8.24v8.085h-8.24zM251.86 225.72h8.24v8.085h-8.24zM260.1 225.72h8.24v8.085h-8.24zM103.54 217.63h8.24v8.085h-8.24zM111.78 217.63h8.24v8.085h-8.24zM120.02 217.63h8.24v8.085h-8.24zM128.26 217.63h8.24v8.085h-8.24zM136.5 217.63h8.24v8.085h-8.24zM144.74 217.63h8.24v8.085h-8.24zM152.98 217.63h8.24v8.085h-8.24zM161.22 217.63h8.24v8.085h-8.24zM169.46 217.63h8.24v8.085h-8.24zM177.7 217.63h8.24v8.085h-8.24zM185.94 217.63h8.24v8.085h-8.24zM194.18 217.63h8.24v8.085h-8.24zM202.42 217.63h8.24v8.085h-8.24zM210.66 217.63h8.24v8.085h-8.24zM218.9 217.63h8.24v8.085h-8.24zM227.14 217.63h8.24v8.085h-8.24zM235.38 217.63h8.24v8.085h-8.24zM243.62 217.63h8.24v8.085h-8.24zM251.86 217.63h8.24v8.085h-8.24zM260.1 217.63h8.24v8.085h-8.24zM268.34 217.63h8.24v8.085h-8.24zM276.58 217.63h8.24v8.085h-8.24zM284.82 217.63h8.24v8.085h-8.24zM293.06 217.63h8.24v8.085h-8.24zM301.3 217.63h8.24v8.085h-8.24zM309.54 217.63h8.24v8.085h-8.24zM103.54 209.55h8.24v8.085h-8.24zM111.78 209.55h8.24v8.085h-8.24zM120.02 209.55h8.24v8.085h-8.24zM128.26 209.55h8.24v8.085h-8.24zM136.5 209.55h8.24v8.085h-8.24zM144.74 209.55h8.24v8.085h-8.24zM152.98 209.55h8.24v8.085h-8.24zM161.22 209.55h8.24v8.085h-8.24zM169.46 209.55h8.24v8.085h-8.24zM177.7 209.55h8.24v8.085h-8.24zM185.94 209.55h8.24v8.085h-8.24zM194.18 209.55h8.24v8.085h-8.24zM202.42 209.55h8.24v8.085h-8.24zM210.66 209.55h8.24v8.085h-8.24zM218.9 209.55h8.24v8.085h-8.24zM227.14 209.55h8.24v8.085h-8.24zM235.38 209.55h8.24v8.085h-8.24zM243.62 209.55h8.24v8.085h-8.24zM251.86 209.55h8.24v8.085h-8.24zM260.1 209.55h8.24v8.085h-8.24zM268.34 209.55h8.24v8.085h-8.24zM276.58 209.55h8.24v8.085h-8.24zM284.82 209.55h8.24v8.085h-8.24zM293.06 209.55h8.24v8.085h-8.24zM301.3 209.55h8.24v8.085h-8.24zM309.54 209.55h8.24v8.085h-8.24zM128.26 201.46h8.24v8.085h-8.24zM136.5 201.46h8.24v8.085h-8.24zM144.74 201.46h8.24v8.085h-8.24zM152.98 201.46h8.24v8.085h-8.24zM161.22 201.46h8.24v8.085h-8.24zM169.46 201.46h8.24v8.085h-8.24zM177.7 201.46h8.24v8.085h-8.24zM185.94 201.46h8.24v8.085h-8.24zM194.18 201.46h8.24v8.085h-8.24zM202.42 201.46h8.24v8.085h-8.24zM210.66 201.46h8.24v8.085h-8.24zM218.9 201.46h8.24v8.085h-8.24zM227.14 201.46h8.24v8.085h-8.24zM235.38 201.46h8.24v8.085h-8.24zM243.62 201.46h8.24v8.085h-8.24zM251.86 201.46h8.24v8.085h-8.24zM260.1 201.46h8.24v8.085h-8.24zM268.34 201.46h8.24v8.085h-8.24zM276.58 201.46h8.24v8.085h-8.24zM284.82 201.46h8.24v8.085h-8.24zM293.06 201.46h8.24v8.085h-8.24zM301.3 201.46h8.24v8.085h-8.24zM309.54 201.46h8.24v8.085h-8.24zM128.26 193.38h8.24v8.085h-8.24zM136.5 193.38h8.24v8.085h-8.24zM144.74 193.38h8.24v8.085h-8.24zM152.98 193.38h8.24v8.085h-8.24zM161.22 193.38h8.24v8.085h-8.24zM169.46 193.38h8.24v8.085h-8.24zM177.7 193.38h8.24v8.085h-8.24zM185.94 193.38h8.24v8.085h-8.24zM194.18 193.38h8.24v8.085h-8.24zM202.42 193.38h8.24v8.085h-8.24zM210.66 193.38h8.24v8.085h-8.24zM218.9 193.38h8.24v8.085h-8.24zM227.14 193.38h8.24v8.085h-8.24zM235.38 193.38h8.24v8.085h-8.24zM243.62 193.38h8.24v8.085h-8.24zM251.86 193.38h8.24v8.085h-8.24zM260.1 193.38h8.24v8.085h-8.24zM268.34 193.38h8.24v8.085h-8.24zM276.58 193.38h8.24v8.085h-8.24zM284.82 193.38h8.24v8.085h-8.24zM293.06 193.38h8.24v8.085h-8.24zM301.3 193.38h8.24v8.085h-8.24zM309.54 193.38h8.24v8.085h-8.24zM136.5 185.29h8.24v8.085h-8.24zM144.74 185.29h8.24v8.085h-8.24zM152.98 185.29h8.24v8.085h-8.24zM161.22 185.29h8.24v8.085h-8.24zM169.46 185.29h8.24v8.085h-8.24zM177.7 185.29h8.24v8.085h-8.24zM185.94 185.29h8.24v8.085h-8.24zM194.18 185.29h8.24v8.085h-8.24zM202.42 185.29h8.24v8.085h-8.24zM210.66 185.29h8.24v8.085h-8.24zM218.9 185.29h8.24v8.085h-8.24zM227.14 185.29h8.24v8.085h-8.24zM235.38 185.29h8.24v8.085h-8.24zM243.62 185.29h8.24v8.085h-8.24zM251.86 185.29h8.24v8.085h-8.24zM260.1 185.29h8.24v8.085h-8.24zM268.34 185.29h8.24v8.085h-8.24zM276.58 185.29h8.24v8.085h-8.24zM284.82 185.29h8.24v8.085h-8.24zM293.06 185.29h8.24v8.085h-8.24zM301.3 185.29h8.24v8.085h-8.24zM309.54 185.29h8.24v8.085h-8.24zM161.22 177.21h8.24v8.085h-8.24zM169.46 177.21h8.24v8.085h-8.24zM177.7 177.21h8.24v8.085h-8.24zM185.94 177.21h8.24v8.085h-8.24zM194.18 177.21h8.24v8.085h-8.24zM202.42 177.21h8.24v8.085h-8.24zM210.66 177.21h8.24v8.085h-8.24zM218.9 177.21h8.24v8.085h-8.24zM227.14 177.21h8.24v8.085h-8.24zM235.38 177.21h8.24v8.085h-8.24zM243.62 177.21h8.24v8.085h-8.24zM251.86 177.21h8.24v8.085h-8.24zM260.1 177.21h8.24v8.085h-8.24zM268.34 177.21h8.24v8.085h-8.24zM276.58 177.21h8.24v8.085h-8.24zM284.82 177.21h8.24v8.085h-8.24zM293.06 177.21h8.24v8.085h-8.24zM301.3 177.21h8.24v8.085h-8.24zM309.54 177.21h8.24v8.085h-8.24zM161.22 169.12h8.24v8.085h-8.24zM169.46 169.12h8.24v8.085h-8.24zM177.7 169.12h8.24v8.085h-8.24zM185.94 169.12h8.24v8.085h-8.24zM194.18 169.12h8.24v8.085h-8.24zM202.42 169.12h8.24v8.085h-8.24zM210.66 169.12h8.24v8.085h-8.24zM218.9 169.12h8.24v8.085h-8.24zM227.14 169.12h8.24v8.085h-8.24zM235.38 169.12h8.24v8.085h-8.24zM243.62 169.12h8.24v8.085h-8.24zM251.86 169.12h8.24v8.085h-8.24zM260.1 169.12h8.24v8.085h-8.24zM268.34 169.12h8.24v8.085h-8.24zM276.58 169.12h8.24v8.085h-8.24zM284.82 169.12h8.24v8.085h-8.24zM293.06 169.12h8.24v8.085h-8.24zM301.3 169.12h8.24v8.085h-8.24zM309.54 169.12h8.24v8.085h-8.24zM317.78 169.12h8.24v8.085h-8.24zM326.02 169.12h8.24v8.085h-8.24zM177.7 161.04h8.24v8.085h-8.24zM185.94 161.04h8.24v8.085h-8.24zM194.18 161.04h8.24v8.085h-8.24zM202.42 161.04h8.24v8.085h-8.24zM210.66 161.04h8.24v8.085h-8.24zM218.9 161.04h8.24v8.085h-8.24zM227.14 161.04h8.24v8.085h-8.24zM235.38 161.04h8.24v8.085h-8.24zM243.62 161.04h8.24v8.085h-8.24zM251.86 161.04h8.24v8.085h-8.24zM260.1 161.04h8.24v8.085h-8.24zM268.34 161.04h8.24v8.085h-8.24zM276.58 161.04h8.24v8.085h-8.24zM284.82 161.04h8.24v8.085h-8.24zM293.06 161.04h8.24v8.085h-8.24zM301.3 161.04h8.24v8.085h-8.24zM309.54 161.04h8.24v8.085h-8.24zM317.78 161.04h8.24v8.085h-8.24zM326.02 161.04h8.24v8.085h-8.24zM334.26 161.04h8.24v8.085h-8.24zM177.7 152.95h8.24v8.085h-8.24zM185.94 152.95h8.24v8.085h-8.24zM194.18 152.95h8.24v8.085h-8.24zM202.42 152.95h8.24v8.085h-8.24zM210.66 152.95h8.24v8.085h-8.24zM218.9 152.95h8.24v8.085h-8.24zM227.14 152.95h8.24v8.085h-8.24zM235.38 152.95h8.24v8.085h-8.24zM243.62 152.95h8.24v8.085h-8.24zM251.86 152.95h8.24v8.085h-8.24zM260.1 152.95h8.24v8.085h-8.24zM268.34 152.95h8.24v8.085h-8.24zM276.58 152.95h8.24v8.085h-8.24zM284.82 152.95h8.24v8.085h-8.24zM293.06 152.95h8.24v8.085h-8.24zM301.3 152.95h8.24v8.085h-8.24zM309.54 152.95h8.24v8.085h-8.24zM317.78 152.95h8.24v8.085h-8.24zM326.02 152.95h8.24v8.085h-8.24zM334.26 152.95h8.24v8.085h-8.24zM342.5 152.95h8.24v8.085h-8.24zM350.74 152.95h8.24v8.085h-8.24zM194.18 144.87h8.24v8.085h-8.24zM202.42 144.87h8.24v8.085h-8.24zM210.66 144.87h8.24v8.085h-8.24zM218.9 144.87h8.24v8.085h-8.24zM227.14 144.87h8.24v8.085h-8.24zM235.38 144.87h8.24v8.085h-8.24zM243.62 144.87h8.24v8.085h-8.24zM251.86 144.87h8.24v8.085h-8.24zM260.1 144.87h8.24v8.085h-8.24zM268.34 144.87h8.24v8.085h-8.24zM276.58 144.87h8.24v8.085h-8.24zM284.82 144.87h8.24v8.085h-8.24zM293.06 144.87h8.24v8.085h-8.24zM301.3 144.87h8.24v8.085h-8.24zM309.54 144.87h8.24v8.085h-8.24zM317.78 144.87h8.24v8.085h-8.24zM326.02 144.87h8.24v8.085h-8.24zM334.26 144.87h8.24v8.085h-8.24zM342.5 144.87h8.24v8.085h-8.24zM350.74 144.87h8.24v8.085h-8.24zM194.18 136.78h8.24v8.085h-8.24zM202.42 136.78h8.24v8.085h-8.24zM210.66 136.78h8.24v8.085h-8.24zM218.9 136.78h8.24v8.085h-8.24zM227.14 136.78h8.24v8.085h-8.24zM235.38 136.78h8.24v8.085h-8.24zM243.62 136.78h8.24v8.085h-8.24zM251.86 136.78h8.24v8.085h-8.24zM260.1 136.78h8.24v8.085h-8.24zM268.34 136.78h8.24v8.085h-8.24zM276.58 136.78h8.24v8.085h-8.24zM284.82 136.78h8.24v8.085h-8.24zM293.06 136.78h8.24v8.085h-8.24zM301.3 136.78h8.24v8.085h-8.24zM309.54 136.78h8.24v8.085h-8.24zM317.78 136.78h8.24v8.085h-8.24zM326.02 136.78h8.24v8.085h-8.24zM334.26 136.78h8.24v8.085h-8.24zM342.5 136.78h8.24v8.085h-8.24zM350.74 136.78h8.24v8.085h-8.24zM358.98 136.78h8.24v8.085h-8.24zM367.22 136.78h8.24v8.085h-8.24zM375.46 136.78h8.24v8.085h-8.24zM383.7 136.78h8.24v8.085h-8.24zM210.66 128.7h8.24v8.085h-8.24zM218.9 128.7h8.24v8.085h-8.24zM227.14 128.7h8.24v8.085h-8.24zM235.38 128.7h8.24v8.085h-8.24zM243.62 128.7h8.24v8.085h-8.24zM251.86 128.7h8.24v8.085h-8.24zM260.1 128.7h8.24v8.085h-8.24zM268.34 128.7h8.24v8.085h-8.24zM276.58 128.7h8.24v8.085h-8.24zM284.82 128.7h8.24v8.085h-8.24zM293.06 128.7h8.24v8.085h-8.24zM301.3 128.7h8.24v8.085h-8.24zM309.54 128.7h8.24v8.085h-8.24zM317.78 128.7h8.24v8.085h-8.24zM326.02 128.7h8.24v8.085h-8.24zM334.26 128.7h8.24v8.085h-8.24zM342.5 128.7h8.24v8.085h-8.24zM350.74 128.7h8.24v8.085h-8.24zM358.98 128.7h8.24v8.085h-8.24zM367.22 128.7h8.24v8.085h-8.24zM375.46 128.7h8.24v8.085h-8.24zM383.7 128.7h8.24v8.085h-8.24zM391.94 128.7h8.24v8.085h-8.24zM243.62 120.61h8.24v8.085h-8.24zM251.86 120.61h8.24v8.085h-8.24zM260.1 120.61h8.24v8.085h-8.24zM268.34 120.61h8.24v8.085h-8.24zM276.58 120.61h8.24v8.085h-8.24zM284.82 120.61h8.24v8.085h-8.24zM293.06 120.61h8.24v8.085h-8.24zM301.3 120.61h8.24v8.085h-8.24zM309.54 120.61h8.24v8.085h-8.24zM317.78 120.61h8.24v8.085h-8.24zM326.02 120.61h8.24v8.085h-8.24zM334.26 120.61h8.24v8.085h-8.24zM342.5 120.61h8.24v8.085h-8.24zM350.74 120.61h8.24v8.085h-8.24zM358.98 120.61h8.24v8.085h-8.24zM367.22 120.61h8.24v8.085h-8.24zM375.46 120.61h8.24v8.085h-8.24zM383.7 120.61h8.24v8.085h-8.24zM391.94 120.61h8.24v8.085h-8.24zM400.18 120.61h8.24v8.085h-8.24zM408.42 120.61h8.24v8.085h-8.24zM416.66 120.61h8.24v8.085h-8.24zM243.62 112.53h8.24v8.085h-8.24zM251.86 112.53h8.24v8.085h-8.24zM260.1 112.53h8.24v8.085h-8.24zM268.34 112.53h8.24v8.085h-8.24zM276.58 112.53h8.24v8.085h-8.24zM284.82 112.53h8.24v8.085h-8.24zM293.06 112.53h8.24v8.085h-8.24zM301.3 112.53h8.24v8.085h-8.24zM309.54 112.53h8.24v8.085h-8.24zM317.78 112.53h8.24v8.085h-8.24zM326.02 112.53h8.24v8.085h-8.24zM334.26 112.53h8.24v8.085h-8.24zM342.5 112.53h8.24v8.085h-8.24zM350.74 112.53h8.24v8.085h-8.24zM358.98 112.53h8.24v8.085h-8.24zM367.22 112.53h8.24v8.085h-8.24zM375.46 112.53h8.24v8.085h-8.24zM383.7 112.53h8.24v8.085h-8.24zM391.94 112.53h8.24v8.085h-8.24zM400.18 112.53h8.24v8.085h-8.24zM408.42 112.53h8.24v8.085h-8.24zM416.66 112.53h8.24v8.085h-8.24zM243.62 104.44h8.24v8.085h-8.24zM251.86 104.44h8.24v8.085h-8.24zM260.1 104.44h8.24v8.085h-8.24zM268.34 104.44h8.24v8.085h-8.24zM276.58 104.44h8.24v8.085h-8.24zM284.82 104.44h8.24v8.085h-8.24zM293.06 104.44h8.24v8.085h-8.24zM301.3 104.44h8.24v8.085h-8.24zM309.54 104.44h8.24v8.085h-8.24zM317.78 104.44h8.24v8.085h-8.24zM326.02 104.44h8.24v8.085h-8.24zM334.26 104.44h8.24v8.085h-8.24zM342.5 104.44h8.24v8.085h-8.24zM350.74 104.44h8.24v8.085h-8.24zM358.98 104.44h8.24v8.085h-8.24zM367.22 104.44h8.24v8.085h-8.24zM375.46 104.44h8.24v8.085h-8.24zM383.7 104.44h8.24v8.085h-8.24zM391.94 104.44h8.24v8.085h-8.24zM400.18 104.44h8.24v8.085h-8.24zM408.42 104.44h8.24v8.085h-8.24zM416.66 104.44h8.24v8.085h-8.24zM424.9 104.44h8.24v8.085h-8.24zM433.14 104.44h8.24v8.085h-8.24zM441.38 104.44h8.24v8.085h-8.24zM449.62 104.44h8.24v8.085h-8.24zM457.86 104.44h8.24v8.085h-8.24zM466.1 104.44h8.24v8.085h-8.24zM474.34 104.44h8.24v8.085h-8.24zM482.58 104.44h8.24v8.085h-8.24zM490.82 104.44h8.24v8.085h-8.24zM276.58 96.36h8.24v8.085h-8.24zM284.82 96.36h8.24v8.085h-8.24zM293.06 96.36h8.24v8.085h-8.24zM301.3 96.36h8.24v8.085h-8.24zM309.54 96.36h8.24v8.085h-8.24zM317.78 96.36h8.24v8.085h-8.24zM326.02 96.36h8.24v8.085h-8.24zM334.26 96.36h8.24v8.085h-8.24zM342.5 96.36h8.24v8.085h-8.24zM350.74 96.36h8.24v8.085h-8.24zM358.98 96.36h8.24v8.085h-8.24zM367.22 96.36h8.24v8.085h-8.24zM375.46 96.36h8.24v8.085h-8.24zM383.7 96.36h8.24v8.085h-8.24zM391.94 96.36h8.24v8.085h-8.24zM400.18 96.36h8.24v8.085h-8.24zM408.42 96.36h8.24v8.085h-8.24zM416.66 96.36h8.24v8.085h-8.24zM424.9 96.36h8.24v8.085h-8.24zM433.14 96.36h8.24v8.085h-8.24zM441.38 96.36h8.24v8.085h-8.24zM449.62 96.36h8.24v8.085h-8.24zM457.86 96.36h8.24v8.085h-8.24zM466.1 96.36h8.24v8.085h-8.24zM474.34 96.36h8.24v8.085h-8.24zM482.58 96.36h8.24v8.085h-8.24zM490.82 96.36h8.24v8.085h-8.24zM499.06 96.36h8.24v8.085h-8.24zM276.58 88.27h8.24v8.085h-8.24zM284.82 88.27h8.24v8.085h-8.24zM293.06 88.27h8.24v8.085h-8.24zM301.3 88.27h8.24v8.085h-8.24zM309.54 88.27h8.24v8.085h-8.24zM317.78 88.27h8.24v8.085h-8.24zM326.02 88.27h8.24v8.085h-8.24zM334.26 88.27h8.24v8.085h-8.24zM342.5 88.27h8.24v8.085h-8.24zM350.74 88.27h8.24v8.085h-8.24zM358.98 88.27h8.24v8.085h-8.24zM367.22 88.27h8.24v8.085h-8.24zM375.46 88.27h8.24v8.085h-8.24zM383.7 88.27h8.24v8.085h-8.24zM391.94 88.27h8.24v8.085h-8.24zM400.18 88.27h8.24v8.085h-8.24zM408.42 88.27h8.24v8.085h-8.24zM416.66 88.27h8.24v8.085h-8.24zM424.9 88.27h8.24v8.085h-8.24zM433.14 88.27h8.24v8.085h-8.24zM441.38 88.27h8.24v8.085h-8.24zM449.62 88.27h8.24v8.085h-8.24zM457.86 88.27h8.24v8.085h-8.24zM466.1 88.27h8.24v8.085h-8.24zM474.34 88.27h8.24v8.085h-8.24zM482.58 88.27h8.24v8.085h-8.24zM490.82 88.27h8.24v8.085h-8.24zM499.06 88.27h8.24v8.085h-8.24zM309.54 80.19h8.24v8.085h-8.24zM317.78 80.19h8.24v8.085h-8.24zM326.02 80.19h8.24v8.085h-8.24zM334.26 80.19h8.24v8.085h-8.24zM342.5 80.19h8.24v8.085h-8.24zM350.74 80.19h8.24v8.085h-8.24zM358.98 80.19h8.24v8.085h-8.24zM367.22 80.19h8.24v8.085h-8.24zM375.46 80.19h8.24v8.085h-8.24zM383.7 80.19h8.24v8.085h-8.24zM391.94 80.19h8.24v8.085h-8.24zM400.18 80.19h8.24v8.085h-8.24zM408.42 80.19h8.24v8.085h-8.24zM416.66 80.19h8.24v8.085h-8.24zM424.9 80.19h8.24v8.085h-8.24zM433.14 80.19h8.24v8.085h-8.24zM441.38 80.19h8.24v8.085h-8.24zM449.62 80.19h8.24v8.085h-8.24zM457.86 80.19h8.24v8.085h-8.24zM466.1 80.19h8.24v8.085h-8.24zM474.34 80.19h8.24v8.085h-8.24zM482.58 80.19h8.24v8.085h-8.24zM490.82 80.19h8.24v8.085h-8.24zM499.06 80.19h8.24v8.085h-8.24zM507.3 80.19h8.24v8.085h-8.24zM515.54 80.19h8.24v8.085h-8.24zM523.78 80.19h8.24v8.085h-8.24zM334.26 72.1h8.24v8.085h-8.24zM342.5 72.1h8.24v8.085h-8.24zM350.74 72.1h8.24v8.085h-8.24zM358.98 72.1h8.24v8.085h-8.24zM367.22 72.1h8.24v8.085h-8.24zM375.46 72.1h8.24v8.085h-8.24zM383.7 72.1h8.24v8.085h-8.24zM391.94 72.1h8.24v8.085h-8.24zM400.18 72.1h8.24v8.085h-8.24zM408.42 72.1h8.24v8.085h-8.24zM416.66 72.1h8.24v8.085h-8.24zM424.9 72.1h8.24v8.085h-8.24zM433.14 72.1h8.24v8.085h-8.24zM441.38 72.1h8.24v8.085h-8.24zM449.62 72.1h8.24v8.085h-8.24zM457.86 72.1h8.24v8.085h-8.24zM466.1 72.1h8.24v8.085h-8.24zM474.34 72.1h8.24v8.085h-8.24zM482.58 72.1h8.24v8.085h-8.24zM490.82 72.1h8.24v8.085h-8.24zM499.06 72.1h8.24v8.085h-8.24zM507.3 72.1h8.24v8.085h-8.24zM515.54 72.1h8.24v8.085h-8.24zM523.78 72.1h8.24v8.085h-8.24zM532.02 72.1h8.24v8.085h-8.24zM540.26 72.1h8.24v8.085h-8.24zM548.5 72.1h8.24v8.085h-8.24zM334.26 64.02h8.24v8.085h-8.24zM342.5 64.02h8.24v8.085h-8.24zM350.74 64.02h8.24v8.085h-8.24zM358.98 64.02h8.24v8.085h-8.24zM367.22 64.02h8.24v8.085h-8.24zM375.46 64.02h8.24v8.085h-8.24zM383.7 64.02h8.24v8.085h-8.24zM391.94 64.02h8.24v8.085h-8.24zM400.18 64.02h8.24v8.085h-8.24zM408.42 64.02h8.24v8.085h-8.24zM416.66 64.02h8.24v8.085h-8.24zM424.9 64.02h8.24v8.085h-8.24zM433.14 64.02h8.24v8.085h-8.24zM441.38 64.02h8.24v8.085h-8.24zM449.62 64.02h8.24v8.085h-8.24zM457.86 64.02h8.24v8.085h-8.24zM466.1 64.02h8.24v8.085h-8.24zM474.34 64.02h8.24v8.085h-8.24zM482.58 64.02h8.24v8.085h-8.24zM490.82 64.02h8.24v8.085h-8.24zM499.06 64.02h8.24v8.085h-8.24zM507.3 64.02h8.24v8.085h-8.24zM515.54 64.02h8.24v8.085h-8.24zM523.78 64.02h8.24v8.085h-8.24zM532.02 64.02h8.24v8.085h-8.24zM540.26 64.02h8.24v8.085h-8.24zM548.5 64.02h8.24v8.085h-8.24zM334.26 55.93h8.24v8.085h-8.24zM342.5 55.93h8.24v8.085h-8.24zM350.74 55.93h8.24v8.085h-8.24zM358.98 55.93h8.24v8.085h-8.24zM367.22 55.93h8.24v8.085h-8.24zM375.46 55.93h8.24v8.085h-8.24zM383.7 55.93h8.24v8.085h-8.24zM391.94 55.93h8.24v8.085h-8.24zM400.18 55.93h8.24v8.085h-8.24zM408.42 55.93h8.24v8.085h-8.24zM416.66 55.93h8.24v8.085h-8.24zM424.9 55.93h8.24v8.085h-8.24zM433.14 55.93h8.24v8.085h-8.24zM441.38 55.93h8.24v8.085h-8.24zM449.62 55.93h8.24v8.085h-8.24zM457.86 55.93h8.24v8.085h-8.24zM466.1 55.93h8.24v8.085h-8.24zM474.34 55.93h8.24v8.085h-8.24zM482.58 55.93h8.24v8.085h-8.24zM490.82 55.93h8.24v8.085h-8.24zM499.06 55.93h8.24v8.085h-8.24zM507.3 55.93h8.24v8.085h-8.24zM515.54 55.93h8.24v8.085h-8.24zM523.78 55.93h8.24v8.085h-8.24zM532.02 55.93h8.24v8.085h-8.24zM540.26 55.93h8.24v8.085h-8.24zM548.5 55.93h8.24v8.085h-8.24zM391.94 47.85h8.24v8.085h-8.24zM400.18 47.85h8.24v8.085h-8.24zM408.42 47.85h8.24v8.085h-8.24zM416.66 47.85h8.24v8.085h-8.24zM424.9 47.85h8.24v8.085h-8.24zM433.14 47.85h8.24v8.085h-8.24zM441.38 47.85h8.24v8.085h-8.24zM449.62 47.85h8.24v8.085h-8.24zM457.86 47.85h8.24v8.085h-8.24zM466.1 47.85h8.24v8.085h-8.24zM474.34 47.85h8.24v8.085h-8.24zM482.58 47.85h8.24v8.085h-8.24zM490.82 47.85h8.24v8.085h-8.24zM499.06 47.85h8.24v8.085h-8.24zM507.3 47.85h8.24v8.085h-8.24zM515.54 47.85h8.24v8.085h-8.24zM523.78 47.85h8.24v8.085h-8.24zM532.02 47.85h8.24v8.085h-8.24zM540.26 47.85h8.24v8.085h-8.24zM548.5 47.85h8.24v8.085h-8.24zM391.94 39.76h8.24v8.085h-8.24zM400.18 39.76h8.24v8.085h-8.24zM408.42 39.76h8.24v8.085h-8.24zM416.66 39.76h8.24v8.085h-8.24zM424.9 39.76h8.24v8.085h-8.24zM433.14 39.76h8.24v8.085h-8.24zM441.38 39.76h8.24v8.085h-8.24zM449.62 39.76h8.24v8.085h-8.24zM457.86 39.76h8.24v8.085h-8.24zM466.1 39.76h8.24v8.085h-8.24zM474.34 39.76h8.24v8.085h-8.24zM482.58 39.76h8.24v8.085h-8.24zM490.82 39.76h8.24v8.085h-8.24zM499.06 39.76h8.24v8.085h-8.24zM507.3 39.76h8.24v8.085h-8.24zM515.54 39.76h8.24v8.085h-8.24zM523.78 39.76h8.24v8.085h-8.24zM532.02 39.76h8.24v8.085h-8.24zM540.26 39.76h8.24v8.085h-8.24zM548.5 39.76h8.24v8.085h-8.24zM391.94 31.68h8.24v8.085h-8.24zM400.18 31.68h8.24v8.085h-8.24zM408.42 31.68h8.24v8.085h-8.24zM416.66 31.68h8.24v8.085h-8.24zM424.9 31.68h8.24v8.085h-8.24zM433.14 31.68h8.24v8.085h-8.24zM441.38 31.68h8.24v8.085h-8.24zM449.62 31.68h8.24v8.085h-8.24zM457.86 31.68h8.24v8.085h-8.24zM466.1 31.68h8.24v8.085h-8.24zM474.34 31.68h8.24v8.085h-8.24zM482.58 31.68h8.24v8.085h-8.24zM490.82 31.68h8.24v8.085h-8.24zM499.06 31.68h8.24v8.085h-8.24zM507.3 31.68h8.24v8.085h-8.24zM515.54 31.68h8.24v8.085h-8.24zM523.78 31.68h8.24v8.085h-8.24zM532.02 31.68h8.24v8.085h-8.24zM540.26 31.68h8.24v8.085h-8.24zM548.5 31.68h8.24v8.085h-8.24zM424.9 23.59h8.24v8.085h-8.24zM433.14 23.59h8.24v8.085h-8.24zM441.38 23.59h8.24v8.085h-8.24zM449.62 23.59h8.24v8.085h-8.24zM457.86 23.59h8.24v8.085h-8.24zM466.1 23.59h8.24v8.085h-8.24zM474.34 23.59h8.24v8.085h-8.24zM482.58 23.59h8.24v8.085h-8.24zM490.82 23.59h8.24v8.085h-8.24zM499.06 23.59h8.24v8.085h-8.24zM507.3 23.59h8.24v8.085h-8.24zM515.54 23.59h8.24v8.085h-8.24zM523.78 23.59h8.24v8.085h-8.24zM532.02 23.59h8.24v8.085h-8.24zM540.26 23.59h8.24v8.085h-8.24zM548.5 23.59h8.24v8.085h-8.24zM556.74 23.59h8.24v8.085h-8.24zM424.9 15.51h8.24v8.085h-8.24zM433.14 15.51h8.24v8.085h-8.24zM441.38 15.51h8.24v8.085h-8.24zM449.62 15.51h8.24v8.085h-8.24zM457.86 15.51h8.24v8.085h-8.24zM466.1 15.51h8.24v8.085h-8.24zM474.34 15.51h8.24v8.085h-8.24zM482.58 15.51h8.24v8.085h-8.24zM490.82 15.51h8.24v8.085h-8.24zM499.06 15.51h8.24v8.085h-8.24zM507.3 15.51h8.24v8.085h-8.24zM515.54 15.51h8.24v8.085h-8.24zM523.78 15.51h8.24v8.085h-8.24zM532.02 15.51h8.24v8.085h-8.24zM540.26 15.51h8.24v8.085h-8.24zM548.5 15.51h8.24v8.085h-8.24zM556.74 15.51h8.24v8.085h-8.24zM449.62 7.42h8.24v8.085h-8.24zM457.86 7.42h8.24v8.085h-8.24zM466.1 7.42h8.24v8.085h-8.24zM474.34 7.42h8.24v8.085h-8.24zM482.58 7.42h8.24v8.085h-8.24zM490.82 7.42h8.24v8.085h-8.24zM499.06 7.42h8.24v8.085h-8.24zM507.3 7.42h8.24v8.085h-8.24zM515.54 7.42h8.24v8.085h-8.24zM523.78 7.42h8.24v8.085h-8.24zM532.02 7.42h8.24v8.085h-8.24zM540.26 7.42h8.24v8.085h-8.24zM548.5 7.42h8.24v8.085h-8.24zM556.74 7.42h8.24v8.085h-8.24zM564.98 7.42h8.24v8.085h-8.24zM573.22 7.42h8.24v8.085h-8.24zM581.46 7.42h8.24v8.085h-8.24zM87.64 388.5h8.24v8.085h-8.24zM95.88 388.5h8.24v8.085h-8.24zM104.12 388.5h8.24v8.085h-8.24zM112.36 388.5h8.24v8.085h-8.24zM120.6 388.5h8.24v8.085h-8.24zM128.84 388.5h8.24v8.085h-8.24zM137.08 388.5h8.24v8.085h-8.24zM145.32 388.5h8.24v8.085h-8.24zM153.56 388.5h8.24v8.085h-8.24zM161.8 388.5h8.24v8.085h-8.24zM170.04 388.5h8.24v8.085h-8.24zM178.28 388.5h8.24v8.085h-8.24zM186.52 388.5h8.24v8.085h-8.24zM194.76 388.5h8.24v8.085h-8.24zM203 388.5h8.24v8.085h-8.24zM211.24 388.5h8.24v8.085h-8.24zM219.48 388.5h8.24v8.085h-8.24zM227.72 388.5h8.24v8.085h-8.24zM87.64 380.42h8.24v8.085h-8.24zM95.88 380.42h8.24v8.085h-8.24zM104.12 380.42h8.24v8.085h-8.24zM112.36 380.42h8.24v8.085h-8.24zM120.6 380.42h8.24v8.085h-8.24zM128.84 380.42h8.24v8.085h-8.24zM137.08 380.42h8.24v8.085h-8.24zM145.32 380.42h8.24v8.085h-8.24zM153.56 380.42h8.24v8.085h-8.24zM161.8 380.42h8.24v8.085h-8.24zM170.04 380.42h8.24v8.085h-8.24zM178.28 380.42h8.24v8.085h-8.24zM186.52 380.42h8.24v8.085h-8.24zM194.76 380.42h8.24v8.085h-8.24zM203 380.42h8.24v8.085h-8.24zM211.24 380.42h8.24v8.085h-8.24zM219.48 380.42h8.24v8.085h-8.24zM227.72 380.42h8.24v8.085h-8.24zM235.96 380.42h8.24v8.085h-8.24zM244.2 380.42h8.24v8.085h-8.24zM87.64 372.33h8.24v8.085h-8.24zM95.88 372.33h8.24v8.085h-8.24zM104.12 372.33h8.24v8.085h-8.24zM112.36 372.33h8.24v8.085h-8.24zM120.6 372.33h8.24v8.085h-8.24zM128.84 372.33h8.24v8.085h-8.24zM137.08 372.33h8.24v8.085h-8.24zM145.32 372.33h8.24v8.085h-8.24zM153.56 372.33h8.24v8.085h-8.24zM161.8 372.33h8.24v8.085h-8.24zM170.04 372.33h8.24v8.085h-8.24zM178.28 372.33h8.24v8.085h-8.24zM186.52 372.33h8.24v8.085h-8.24zM194.76 372.33h8.24v8.085h-8.24zM203 372.33h8.24v8.085h-8.24zM211.24 372.33h8.24v8.085h-8.24zM219.48 372.33h8.24v8.085h-8.24zM227.72 372.33h8.24v8.085h-8.24zM235.96 372.33h8.24v8.085h-8.24zM244.2 372.33h8.24v8.085h-8.24zM252.44 372.33h8.24v8.085h-8.24zM87.64 364.25h8.24v8.085h-8.24zM95.88 364.25h8.24v8.085h-8.24zM104.12 364.25h8.24v8.085h-8.24zM112.36 364.25h8.24v8.085h-8.24zM120.6 364.25h8.24v8.085h-8.24zM128.84 364.25h8.24v8.085h-8.24zM137.08 364.25h8.24v8.085h-8.24zM145.32 364.25h8.24v8.085h-8.24zM153.56 364.25h8.24v8.085h-8.24zM161.8 364.25h8.24v8.085h-8.24zM170.04 364.25h8.24v8.085h-8.24zM178.28 364.25h8.24v8.085h-8.24zM186.52 364.25h8.24v8.085h-8.24zM194.76 364.25h8.24v8.085h-8.24zM203 364.25h8.24v8.085h-8.24zM211.24 364.25h8.24v8.085h-8.24zM219.48 364.25h8.24v8.085h-8.24zM227.72 364.25h8.24v8.085h-8.24zM235.96 364.25h8.24v8.085h-8.24zM244.2 364.25h8.24v8.085h-8.24zM252.44 364.25h8.24v8.085h-8.24zM260.68 364.25h8.24v8.085h-8.24zM268.92 364.25h8.24v8.085h-8.24zM277.16 364.25h8.24v8.085h-8.24zM87.64 356.16h8.24v8.085h-8.24zM95.88 356.16h8.24v8.085h-8.24zM104.12 356.16h8.24v8.085h-8.24zM112.36 356.16h8.24v8.085h-8.24zM120.6 356.16h8.24v8.085h-8.24zM128.84 356.16h8.24v8.085h-8.24zM137.08 356.16h8.24v8.085h-8.24zM145.32 356.16h8.24v8.085h-8.24zM153.56 356.16h8.24v8.085h-8.24zM161.8 356.16h8.24v8.085h-8.24zM170.04 356.16h8.24v8.085h-8.24zM178.28 356.16h8.24v8.085h-8.24zM186.52 356.16h8.24v8.085h-8.24zM194.76 356.16h8.24v8.085h-8.24zM203 356.16h8.24v8.085h-8.24zM211.24 356.16h8.24v8.085h-8.24zM219.48 356.16h8.24v8.085h-8.24zM227.72 356.16h8.24v8.085h-8.24zM235.96 356.16h8.24v8.085h-8.24zM244.2 356.16h8.24v8.085h-8.24zM252.44 356.16h8.24v8.085h-8.24zM260.68 356.16h8.24v8.085h-8.24zM268.92 356.16h8.24v8.085h-8.24zM277.16 356.16h8.24v8.085h-8.24zM145.32 348.07h8.24v8.085h-8.24zM153.56 348.07h8.24v8.085h-8.24zM161.8 348.07h8.24v8.085h-8.24zM170.04 348.07h8.24v8.085h-8.24zM178.28 348.07h8.24v8.085h-8.24zM186.52 348.07h8.24v8.085h-8.24zM194.76 348.07h8.24v8.085h-8.24zM203 348.07h8.24v8.085h-8.24zM211.24 348.07h8.24v8.085h-8.24zM219.48 348.07h8.24v8.085h-8.24zM227.72 348.07h8.24v8.085h-8.24zM235.96 348.07h8.24v8.085h-8.24zM244.2 348.07h8.24v8.085h-8.24zM252.44 348.07h8.24v8.085h-8.24zM260.68 348.07h8.24v8.085h-8.24zM268.92 348.07h8.24v8.085h-8.24zM277.16 348.07h8.24v8.085h-8.24zM285.4 348.07h8.24v8.085h-8.24zM293.64 348.07h8.24v8.085h-8.24zM170.04 339.99h8.24v8.085h-8.24zM178.28 339.99h8.24v8.085h-8.24zM186.52 339.99h8.24v8.085h-8.24zM194.76 339.99h8.24v8.085h-8.24zM203 339.99h8.24v8.085h-8.24zM211.24 339.99h8.24v8.085h-8.24zM219.48 339.99h8.24v8.085h-8.24zM227.72 339.99h8.24v8.085h-8.24zM235.96 339.99h8.24v8.085h-8.24zM244.2 339.99h8.24v8.085h-8.24zM252.44 339.99h8.24v8.085h-8.24zM260.68 339.99h8.24v8.085h-8.24zM268.92 339.99h8.24v8.085h-8.24zM277.16 339.99h8.24v8.085h-8.24zM285.4 339.99h8.24v8.085h-8.24zM293.64 339.99h8.24v8.085h-8.24zM301.88 339.99h8.24v8.085h-8.24zM310.12 339.99h8.24v8.085h-8.24zM170.04 331.9h8.24v8.085h-8.24zM178.28 331.9h8.24v8.085h-8.24zM186.52 331.9h8.24v8.085h-8.24zM194.76 331.9h8.24v8.085h-8.24zM203 331.9h8.24v8.085h-8.24zM211.24 331.9h8.24v8.085h-8.24zM219.48 331.9h8.24v8.085h-8.24zM227.72 331.9h8.24v8.085h-8.24zM235.96 331.9h8.24v8.085h-8.24zM244.2 331.9h8.24v8.085h-8.24zM252.44 331.9h8.24v8.085h-8.24zM260.68 331.9h8.24v8.085h-8.24zM268.92 331.9h8.24v8.085h-8.24zM277.16 331.9h8.24v8.085h-8.24zM285.4 331.9h8.24v8.085h-8.24zM293.64 331.9h8.24v8.085h-8.24zM301.88 331.9h8.24v8.085h-8.24zM310.12 331.9h8.24v8.085h-8.24zM318.36 331.9h8.24v8.085h-8.24zM326.6 331.9h8.24v8.085h-8.24zM170.04 323.82h8.24v8.085h-8.24zM178.28 323.82h8.24v8.085h-8.24zM186.52 323.82h8.24v8.085h-8.24zM194.76 323.82h8.24v8.085h-8.24zM203 323.82h8.24v8.085h-8.24zM211.24 323.82h8.24v8.085h-8.24zM219.48 323.82h8.24v8.085h-8.24zM227.72 323.82h8.24v8.085h-8.24zM235.96 323.82h8.24v8.085h-8.24zM244.2 323.82h8.24v8.085h-8.24zM252.44 323.82h8.24v8.085h-8.24zM260.68 323.82h8.24v8.085h-8.24zM268.92 323.82h8.24v8.085h-8.24zM277.16 323.82h8.24v8.085h-8.24zM285.4 323.82h8.24v8.085h-8.24zM293.64 323.82h8.24v8.085h-8.24zM301.88 323.82h8.24v8.085h-8.24zM310.12 323.82h8.24v8.085h-8.24zM318.36 323.82h8.24v8.085h-8.24zM326.6 323.82h8.24v8.085h-8.24zM334.84 323.82h8.24v8.085h-8.24zM343.08 323.82h8.24v8.085h-8.24zM351.32 323.82h8.24v8.085h-8.24zM359.56 323.82h8.24v8.085h-8.24zM227.72 315.74h8.24v8.085h-8.24zM235.96 315.74h8.24v8.085h-8.24zM244.2 315.74h8.24v8.085h-8.24zM252.44 315.74h8.24v8.085h-8.24zM260.68 315.74h8.24v8.085h-8.24zM268.92 315.74h8.24v8.085h-8.24zM277.16 315.74h8.24v8.085h-8.24zM285.4 315.74h8.24v8.085h-8.24zM293.64 315.74h8.24v8.085h-8.24zM301.88 315.74h8.24v8.085h-8.24zM310.12 315.74h8.24v8.085h-8.24zM318.36 315.74h8.24v8.085h-8.24zM326.6 315.74h8.24v8.085h-8.24zM334.84 315.74h8.24v8.085h-8.24zM343.08 315.74h8.24v8.085h-8.24zM351.32 315.74h8.24v8.085h-8.24zM359.56 315.74h8.24v8.085h-8.24zM227.72 307.65h8.24v8.085h-8.24zM235.96 307.65h8.24v8.085h-8.24zM244.2 307.65h8.24v8.085h-8.24zM252.44 307.65h8.24v8.085h-8.24zM260.68 307.65h8.24v8.085h-8.24zM268.92 307.65h8.24v8.085h-8.24zM277.16 307.65h8.24v8.085h-8.24zM285.4 307.65h8.24v8.085h-8.24zM293.64 307.65h8.24v8.085h-8.24zM301.88 307.65h8.24v8.085h-8.24zM310.12 307.65h8.24v8.085h-8.24zM318.36 307.65h8.24v8.085h-8.24zM326.6 307.65h8.24v8.085h-8.24zM334.84 307.65h8.24v8.085h-8.24zM343.08 307.65h8.24v8.085h-8.24zM351.32 307.65h8.24v8.085h-8.24zM359.56 307.65h8.24v8.085h-8.24zM260.68 299.56h8.24v8.085h-8.24zM268.92 299.56h8.24v8.085h-8.24zM277.16 299.56h8.24v8.085h-8.24zM285.4 299.56h8.24v8.085h-8.24zM293.64 299.56h8.24v8.085h-8.24zM301.88 299.56h8.24v8.085h-8.24zM310.12 299.56h8.24v8.085h-8.24zM318.36 299.56h8.24v8.085h-8.24zM326.6 299.56h8.24v8.085h-8.24zM334.84 299.56h8.24v8.085h-8.24zM343.08 299.56h8.24v8.085h-8.24zM351.32 299.56h8.24v8.085h-8.24zM359.56 299.56h8.24v8.085h-8.24zM367.8 299.56h8.24v8.085h-8.24zM376.04 299.56h8.24v8.085h-8.24zM384.28 299.56h8.24v8.085h-8.24zM260.68 291.48h8.24v8.085h-8.24zM268.92 291.48h8.24v8.085h-8.24zM277.16 291.48h8.24v8.085h-8.24zM285.4 291.48h8.24v8.085h-8.24zM293.64 291.48h8.24v8.085h-8.24zM301.88 291.48h8.24v8.085h-8.24zM310.12 291.48h8.24v8.085h-8.24zM318.36 291.48h8.24v8.085h-8.24zM326.6 291.48h8.24v8.085h-8.24zM334.84 291.48h8.24v8.085h-8.24zM343.08 291.48h8.24v8.085h-8.24zM351.32 291.48h8.24v8.085h-8.24zM359.56 291.48h8.24v8.085h-8.24zM367.8 291.48h8.24v8.085h-8.24zM376.04 291.48h8.24v8.085h-8.24zM384.28 291.48h8.24v8.085h-8.24zM392.52 291.48h8.24v8.085h-8.24zM260.68 283.39h8.24v8.085h-8.24zM268.92 283.39h8.24v8.085h-8.24zM277.16 283.39h8.24v8.085h-8.24zM285.4 283.39h8.24v8.085h-8.24zM293.64 283.39h8.24v8.085h-8.24zM301.88 283.39h8.24v8.085h-8.24zM310.12 283.39h8.24v8.085h-8.24zM318.36 283.39h8.24v8.085h-8.24zM326.6 283.39h8.24v8.085h-8.24zM334.84 283.39h8.24v8.085h-8.24zM343.08 283.39h8.24v8.085h-8.24zM351.32 283.39h8.24v8.085h-8.24zM359.56 283.39h8.24v8.085h-8.24zM367.8 283.39h8.24v8.085h-8.24zM376.04 283.39h8.24v8.085h-8.24zM384.28 283.39h8.24v8.085h-8.24zM392.52 283.39h8.24v8.085h-8.24zM400.76 283.39h8.24v8.085h-8.24zM409 283.39h8.24v8.085h-8.24zM417.24 283.39h8.24v8.085h-8.24zM285.4 275.31h8.24v8.085h-8.24zM293.64 275.31h8.24v8.085h-8.24zM301.88 275.31h8.24v8.085h-8.24zM310.12 275.31h8.24v8.085h-8.24zM318.36 275.31h8.24v8.085h-8.24zM326.6 275.31h8.24v8.085h-8.24zM334.84 275.31h8.24v8.085h-8.24zM343.08 275.31h8.24v8.085h-8.24zM351.32 275.31h8.24v8.085h-8.24zM359.56 275.31h8.24v8.085h-8.24zM367.8 275.31h8.24v8.085h-8.24zM376.04 275.31h8.24v8.085h-8.24zM384.28 275.31h8.24v8.085h-8.24zM392.52 275.31h8.24v8.085h-8.24zM400.76 275.31h8.24v8.085h-8.24zM409 275.31h8.24v8.085h-8.24zM417.24 275.31h8.24v8.085h-8.24zM425.48 275.31h8.24v8.085h-8.24zM433.72 275.31h8.24v8.085h-8.24zM285.4 267.23h8.24v8.085h-8.24zM293.64 267.23h8.24v8.085h-8.24zM301.88 267.23h8.24v8.085h-8.24zM310.12 267.23h8.24v8.085h-8.24zM318.36 267.23h8.24v8.085h-8.24zM326.6 267.23h8.24v8.085h-8.24zM334.84 267.23h8.24v8.085h-8.24zM343.08 267.23h8.24v8.085h-8.24zM351.32 267.23h8.24v8.085h-8.24zM359.56 267.23h8.24v8.085h-8.24zM367.8 267.23h8.24v8.085h-8.24zM376.04 267.23h8.24v8.085h-8.24zM384.28 267.23h8.24v8.085h-8.24zM392.52 267.23h8.24v8.085h-8.24zM400.76 267.23h8.24v8.085h-8.24zM409 267.23h8.24v8.085h-8.24zM417.24 267.23h8.24v8.085h-8.24zM425.48 267.23h8.24v8.085h-8.24zM433.72 267.23h8.24v8.085h-8.24zM441.96 267.23h8.24v8.085h-8.24zM285.4 259.14h8.24v8.085h-8.24zM293.64 259.14h8.24v8.085h-8.24zM301.88 259.14h8.24v8.085h-8.24zM310.12 259.14h8.24v8.085h-8.24zM318.36 259.14h8.24v8.085h-8.24zM326.6 259.14h8.24v8.085h-8.24zM334.84 259.14h8.24v8.085h-8.24zM343.08 259.14h8.24v8.085h-8.24zM351.32 259.14h8.24v8.085h-8.24zM359.56 259.14h8.24v8.085h-8.24zM367.8 259.14h8.24v8.085h-8.24zM376.04 259.14h8.24v8.085h-8.24zM384.28 259.14h8.24v8.085h-8.24zM392.52 259.14h8.24v8.085h-8.24zM400.76 259.14h8.24v8.085h-8.24zM409 259.14h8.24v8.085h-8.24zM417.24 259.14h8.24v8.085h-8.24zM425.48 259.14h8.24v8.085h-8.24zM433.72 259.14h8.24v8.085h-8.24zM441.96 259.14h8.24v8.085h-8.24zM450.2 259.14h8.24v8.085h-8.24zM458.44 259.14h8.24v8.085h-8.24zM285.4 251.05h8.24v8.085h-8.24zM293.64 251.05h8.24v8.085h-8.24zM301.88 251.05h8.24v8.085h-8.24zM310.12 251.05h8.24v8.085h-8.24zM318.36 251.05h8.24v8.085h-8.24zM326.6 251.05h8.24v8.085h-8.24zM334.84 251.05h8.24v8.085h-8.24zM343.08 251.05h8.24v8.085h-8.24zM351.32 251.05h8.24v8.085h-8.24zM359.56 251.05h8.24v8.085h-8.24zM367.8 251.05h8.24v8.085h-8.24zM376.04 251.05h8.24v8.085h-8.24zM384.28 251.05h8.24v8.085h-8.24zM392.52 251.05h8.24v8.085h-8.24zM400.76 251.05h8.24v8.085h-8.24zM409 251.05h8.24v8.085h-8.24zM417.24 251.05h8.24v8.085h-8.24zM425.48 251.05h8.24v8.085h-8.24zM433.72 251.05h8.24v8.085h-8.24zM441.96 251.05h8.24v8.085h-8.24zM450.2 251.05h8.24v8.085h-8.24zM458.44 251.05h8.24v8.085h-8.24zM466.68 251.05h8.24v8.085h-8.24zM285.4 242.97h8.24v8.085h-8.24zM293.64 242.97h8.24v8.085h-8.24zM301.88 242.97h8.24v8.085h-8.24zM310.12 242.97h8.24v8.085h-8.24zM318.36 242.97h8.24v8.085h-8.24zM326.6 242.97h8.24v8.085h-8.24zM334.84 242.97h8.24v8.085h-8.24zM343.08 242.97h8.24v8.085h-8.24zM351.32 242.97h8.24v8.085h-8.24zM359.56 242.97h8.24v8.085h-8.24zM367.8 242.97h8.24v8.085h-8.24zM376.04 242.97h8.24v8.085h-8.24zM384.28 242.97h8.24v8.085h-8.24zM392.52 242.97h8.24v8.085h-8.24zM400.76 242.97h8.24v8.085h-8.24zM409 242.97h8.24v8.085h-8.24zM417.24 242.97h8.24v8.085h-8.24zM425.48 242.97h8.24v8.085h-8.24zM433.72 242.97h8.24v8.085h-8.24zM441.96 242.97h8.24v8.085h-8.24zM450.2 242.97h8.24v8.085h-8.24zM458.44 242.97h8.24v8.085h-8.24zM466.68 242.97h8.24v8.085h-8.24zM474.92 242.97h8.24v8.085h-8.24zM483.16 242.97h8.24v8.085h-8.24zM343.08 234.88h8.24v8.085h-8.24zM351.32 234.88h8.24v8.085h-8.24zM359.56 234.88h8.24v8.085h-8.24zM367.8 234.88h8.24v8.085h-8.24zM376.04 234.88h8.24v8.085h-8.24zM384.28 234.88h8.24v8.085h-8.24zM392.52 234.88h8.24v8.085h-8.24zM400.76 234.88h8.24v8.085h-8.24zM409 234.88h8.24v8.085h-8.24zM417.24 234.88h8.24v8.085h-8.24zM425.48 234.88h8.24v8.085h-8.24zM433.72 234.88h8.24v8.085h-8.24zM441.96 234.88h8.24v8.085h-8.24zM450.2 234.88h8.24v8.085h-8.24zM458.44 234.88h8.24v8.085h-8.24zM466.68 234.88h8.24v8.085h-8.24zM474.92 234.88h8.24v8.085h-8.24zM483.16 234.88h8.24v8.085h-8.24zM491.4 234.88h8.24v8.085h-8.24zM499.64 234.88h8.24v8.085h-8.24zM507.88 234.88h8.24v8.085h-8.24zM516.12 234.88h8.24v8.085h-8.24zM343.08 226.8h8.24v8.085h-8.24zM351.32 226.8h8.24v8.085h-8.24zM359.56 226.8h8.24v8.085h-8.24zM367.8 226.8h8.24v8.085h-8.24zM376.04 226.8h8.24v8.085h-8.24zM384.28 226.8h8.24v8.085h-8.24zM392.52 226.8h8.24v8.085h-8.24zM400.76 226.8h8.24v8.085h-8.24zM409 226.8h8.24v8.085h-8.24zM417.24 226.8h8.24v8.085h-8.24zM425.48 226.8h8.24v8.085h-8.24zM433.72 226.8h8.24v8.085h-8.24zM441.96 226.8h8.24v8.085h-8.24zM450.2 226.8h8.24v8.085h-8.24zM458.44 226.8h8.24v8.085h-8.24zM466.68 226.8h8.24v8.085h-8.24zM474.92 226.8h8.24v8.085h-8.24zM483.16 226.8h8.24v8.085h-8.24zM491.4 226.8h8.24v8.085h-8.24zM499.64 226.8h8.24v8.085h-8.24zM507.88 226.8h8.24v8.085h-8.24zM516.12 226.8h8.24v8.085h-8.24zM524.36 226.8h8.24v8.085h-8.24zM532.6 226.8h8.24v8.085h-8.24zM540.84 226.8h8.24v8.085h-8.24zM343.08 218.71h8.24v8.085h-8.24zM351.32 218.71h8.24v8.085h-8.24zM359.56 218.71h8.24v8.085h-8.24zM367.8 218.71h8.24v8.085h-8.24zM376.04 218.71h8.24v8.085h-8.24zM384.28 218.71h8.24v8.085h-8.24zM392.52 218.71h8.24v8.085h-8.24zM400.76 218.71h8.24v8.085h-8.24zM409 218.71h8.24v8.085h-8.24zM417.24 218.71h8.24v8.085h-8.24zM425.48 218.71h8.24v8.085h-8.24zM433.72 218.71h8.24v8.085h-8.24zM441.96 218.71h8.24v8.085h-8.24zM450.2 218.71h8.24v8.085h-8.24zM458.44 218.71h8.24v8.085h-8.24zM466.68 218.71h8.24v8.085h-8.24zM474.92 218.71h8.24v8.085h-8.24zM483.16 218.71h8.24v8.085h-8.24zM491.4 218.71h8.24v8.085h-8.24zM499.64 218.71h8.24v8.085h-8.24zM507.88 218.71h8.24v8.085h-8.24zM516.12 218.71h8.24v8.085h-8.24zM524.36 218.71h8.24v8.085h-8.24zM532.6 218.71h8.24v8.085h-8.24zM540.84 218.71h8.24v8.085h-8.24zM549.08 218.71h8.24v8.085h-8.24zM343.08 210.63h8.24v8.085h-8.24zM351.32 210.63h8.24v8.085h-8.24zM359.56 210.63h8.24v8.085h-8.24zM367.8 210.63h8.24v8.085h-8.24zM376.04 210.63h8.24v8.085h-8.24zM384.28 210.63h8.24v8.085h-8.24zM392.52 210.63h8.24v8.085h-8.24zM400.76 210.63h8.24v8.085h-8.24zM409 210.63h8.24v8.085h-8.24zM417.24 210.63h8.24v8.085h-8.24zM425.48 210.63h8.24v8.085h-8.24zM433.72 210.63h8.24v8.085h-8.24zM441.96 210.63h8.24v8.085h-8.24zM450.2 210.63h8.24v8.085h-8.24zM458.44 210.63h8.24v8.085h-8.24zM466.68 210.63h8.24v8.085h-8.24zM474.92 210.63h8.24v8.085h-8.24zM483.16 210.63h8.24v8.085h-8.24zM491.4 210.63h8.24v8.085h-8.24zM499.64 210.63h8.24v8.085h-8.24zM507.88 210.63h8.24v8.085h-8.24zM516.12 210.63h8.24v8.085h-8.24zM524.36 210.63h8.24v8.085h-8.24zM532.6 210.63h8.24v8.085h-8.24zM540.84 210.63h8.24v8.085h-8.24zM549.08 210.63h8.24v8.085h-8.24zM557.32 210.63h8.24v8.085h-8.24zM376.04 202.54h8.24v8.085h-8.24zM384.28 202.54h8.24v8.085h-8.24zM392.52 202.54h8.24v8.085h-8.24zM400.76 202.54h8.24v8.085h-8.24zM409 202.54h8.24v8.085h-8.24zM417.24 202.54h8.24v8.085h-8.24zM425.48 202.54h8.24v8.085h-8.24zM433.72 202.54h8.24v8.085h-8.24zM441.96 202.54h8.24v8.085h-8.24zM450.2 202.54h8.24v8.085h-8.24zM458.44 202.54h8.24v8.085h-8.24zM466.68 202.54h8.24v8.085h-8.24zM474.92 202.54h8.24v8.085h-8.24zM483.16 202.54h8.24v8.085h-8.24zM491.4 202.54h8.24v8.085h-8.24zM499.64 202.54h8.24v8.085h-8.24zM507.88 202.54h8.24v8.085h-8.24zM516.12 202.54h8.24v8.085h-8.24zM524.36 202.54h8.24v8.085h-8.24zM532.6 202.54h8.24v8.085h-8.24zM540.84 202.54h8.24v8.085h-8.24zM549.08 202.54h8.24v8.085h-8.24zM557.32 202.54h8.24v8.085h-8.24zM565.56 202.54h8.24v8.085h-8.24zM392.52 194.46h8.24v8.085h-8.24zM400.76 194.46h8.24v8.085h-8.24zM409 194.46h8.24v8.085h-8.24zM417.24 194.46h8.24v8.085h-8.24zM425.48 194.46h8.24v8.085h-8.24zM433.72 194.46h8.24v8.085h-8.24zM441.96 194.46h8.24v8.085h-8.24zM450.2 194.46h8.24v8.085h-8.24zM458.44 194.46h8.24v8.085h-8.24zM466.68 194.46h8.24v8.085h-8.24zM474.92 194.46h8.24v8.085h-8.24zM483.16 194.46h8.24v8.085h-8.24zM491.4 194.46h8.24v8.085h-8.24zM499.64 194.46h8.24v8.085h-8.24zM507.88 194.46h8.24v8.085h-8.24zM516.12 194.46h8.24v8.085h-8.24zM524.36 194.46h8.24v8.085h-8.24zM532.6 194.46h8.24v8.085h-8.24zM540.84 194.46h8.24v8.085h-8.24zM549.08 194.46h8.24v8.085h-8.24zM557.32 194.46h8.24v8.085h-8.24zM565.56 194.46h8.24v8.085h-8.24zM573.8 194.46h8.24v8.085h-8.24zM441.96 186.37h8.24v8.085h-8.24zM450.2 186.37h8.24v8.085h-8.24zM458.44 186.37h8.24v8.085h-8.24zM466.68 186.37h8.24v8.085h-8.24zM474.92 186.37h8.24v8.085h-8.24zM483.16 186.37h8.24v8.085h-8.24zM491.4 186.37h8.24v8.085h-8.24zM499.64 186.37h8.24v8.085h-8.24zM507.88 186.37h8.24v8.085h-8.24zM516.12 186.37h8.24v8.085h-8.24zM524.36 186.37h8.24v8.085h-8.24zM532.6 186.37h8.24v8.085h-8.24zM540.84 186.37h8.24v8.085h-8.24zM549.08 186.37h8.24v8.085h-8.24zM557.32 186.37h8.24v8.085h-8.24zM565.56 186.37h8.24v8.085h-8.24zM573.8 186.37h8.24v8.085h-8.24zM277.3 389.1h8.24v8.085h-8.24zM285.54 389.1h8.24v8.085h-8.24zM293.78 389.1h8.24v8.085h-8.24zM302.02 389.1h8.24v8.085h-8.24zM310.26 389.1h8.24v8.085h-8.24zM318.5 389.1h8.24v8.085h-8.24zM326.74 389.1h8.24v8.085h-8.24zM334.98 389.1h8.24v8.085h-8.24zM343.22 389.1h8.24v8.085h-8.24zM351.46 389.1h8.24v8.085h-8.24zM359.7 389.1h8.24v8.085h-8.24zM367.94 389.1h8.24v8.085h-8.24zM376.18 389.1h8.24v8.085h-8.24zM384.42 389.1h8.24v8.085h-8.24zM392.66 389.1h8.24v8.085h-8.24zM400.9 389.1h8.24v8.085h-8.24zM409.14 389.1h8.24v8.085h-8.24zM277.3 381.02h8.24v8.085h-8.24zM285.54 381.02h8.24v8.085h-8.24zM293.78 381.02h8.24v8.085h-8.24zM302.02 381.02h8.24v8.085h-8.24zM310.26 381.02h8.24v8.085h-8.24zM318.5 381.02h8.24v8.085h-8.24zM326.74 381.02h8.24v8.085h-8.24zM334.98 381.02h8.24v8.085h-8.24zM343.22 381.02h8.24v8.085h-8.24zM351.46 381.02h8.24v8.085h-8.24zM359.7 381.02h8.24v8.085h-8.24zM367.94 381.02h8.24v8.085h-8.24zM376.18 381.02h8.24v8.085h-8.24zM384.42 381.02h8.24v8.085h-8.24zM392.66 381.02h8.24v8.085h-8.24zM400.9 381.02h8.24v8.085h-8.24zM409.14 381.02h8.24v8.085h-8.24zM417.38 381.02h8.24v8.085h-8.24zM425.62 381.02h8.24v8.085h-8.24zM433.86 381.02h8.24v8.085h-8.24zM442.1 381.02h8.24v8.085h-8.24zM450.34 381.02h8.24v8.085h-8.24zM343.22 372.93h8.24v8.085h-8.24zM351.46 372.93h8.24v8.085h-8.24zM359.7 372.93h8.24v8.085h-8.24zM367.94 372.93h8.24v8.085h-8.24zM376.18 372.93h8.24v8.085h-8.24zM384.42 372.93h8.24v8.085h-8.24zM392.66 372.93h8.24v8.085h-8.24zM400.9 372.93h8.24v8.085h-8.24zM409.14 372.93h8.24v8.085h-8.24zM417.38 372.93h8.24v8.085h-8.24zM425.62 372.93h8.24v8.085h-8.24zM433.86 372.93h8.24v8.085h-8.24zM442.1 372.93h8.24v8.085h-8.24zM450.34 372.93h8.24v8.085h-8.24zM458.58 372.93h8.24v8.085h-8.24zM343.22 364.85h8.24v8.085h-8.24zM351.46 364.85h8.24v8.085h-8.24zM359.7 364.85h8.24v8.085h-8.24zM367.94 364.85h8.24v8.085h-8.24zM376.18 364.85h8.24v8.085h-8.24zM384.42 364.85h8.24v8.085h-8.24zM392.66 364.85h8.24v8.085h-8.24zM400.9 364.85h8.24v8.085h-8.24zM409.14 364.85h8.24v8.085h-8.24zM417.38 364.85h8.24v8.085h-8.24zM425.62 364.85h8.24v8.085h-8.24zM433.86 364.85h8.24v8.085h-8.24zM442.1 364.85h8.24v8.085h-8.24zM450.34 364.85h8.24v8.085h-8.24zM458.58 364.85h8.24v8.085h-8.24zM466.82 364.85h8.24v8.085h-8.24zM475.06 364.85h8.24v8.085h-8.24zM483.3 364.85h8.24v8.085h-8.24zM343.22 356.76h8.24v8.085h-8.24zM351.46 356.76h8.24v8.085h-8.24zM359.7 356.76h8.24v8.085h-8.24zM367.94 356.76h8.24v8.085h-8.24zM376.18 356.76h8.24v8.085h-8.24zM384.42 356.76h8.24v8.085h-8.24zM392.66 356.76h8.24v8.085h-8.24zM400.9 356.76h8.24v8.085h-8.24zM409.14 356.76h8.24v8.085h-8.24zM417.38 356.76h8.24v8.085h-8.24zM425.62 356.76h8.24v8.085h-8.24zM433.86 356.76h8.24v8.085h-8.24zM442.1 356.76h8.24v8.085h-8.24zM450.34 356.76h8.24v8.085h-8.24zM458.58 356.76h8.24v8.085h-8.24zM466.82 356.76h8.24v8.085h-8.24zM475.06 356.76h8.24v8.085h-8.24zM483.3 356.76h8.24v8.085h-8.24zM343.22 348.68h8.24v8.085h-8.24zM351.46 348.68h8.24v8.085h-8.24zM359.7 348.68h8.24v8.085h-8.24zM367.94 348.68h8.24v8.085h-8.24zM376.18 348.68h8.24v8.085h-8.24zM384.42 348.68h8.24v8.085h-8.24zM392.66 348.68h8.24v8.085h-8.24zM400.9 348.68h8.24v8.085h-8.24zM409.14 348.68h8.24v8.085h-8.24zM417.38 348.68h8.24v8.085h-8.24zM425.62 348.68h8.24v8.085h-8.24zM433.86 348.68h8.24v8.085h-8.24zM442.1 348.68h8.24v8.085h-8.24zM450.34 348.68h8.24v8.085h-8.24zM458.58 348.68h8.24v8.085h-8.24zM466.82 348.68h8.24v8.085h-8.24zM475.06 348.68h8.24v8.085h-8.24zM483.3 348.68h8.24v8.085h-8.24zM491.54 348.68h8.24v8.085h-8.24zM499.78 348.68h8.24v8.085h-8.24zM376.18 340.59h8.24v8.085h-8.24zM384.42 340.59h8.24v8.085h-8.24zM392.66 340.59h8.24v8.085h-8.24zM400.9 340.59h8.24v8.085h-8.24zM409.14 340.59h8.24v8.085h-8.24zM417.38 340.59h8.24v8.085h-8.24zM425.62 340.59h8.24v8.085h-8.24zM433.86 340.59h8.24v8.085h-8.24zM442.1 340.59h8.24v8.085h-8.24zM450.34 340.59h8.24v8.085h-8.24zM458.58 340.59h8.24v8.085h-8.24zM466.82 340.59h8.24v8.085h-8.24zM475.06 340.59h8.24v8.085h-8.24zM483.3 340.59h8.24v8.085h-8.24zM491.54 340.59h8.24v8.085h-8.24zM499.78 340.59h8.24v8.085h-8.24zM376.18 332.5h8.24v8.085h-8.24zM384.42 332.5h8.24v8.085h-8.24zM392.66 332.5h8.24v8.085h-8.24zM400.9 332.5h8.24v8.085h-8.24zM409.14 332.5h8.24v8.085h-8.24zM417.38 332.5h8.24v8.085h-8.24zM425.62 332.5h8.24v8.085h-8.24zM433.86 332.5h8.24v8.085h-8.24zM442.1 332.5h8.24v8.085h-8.24zM450.34 332.5h8.24v8.085h-8.24zM458.58 332.5h8.24v8.085h-8.24zM466.82 332.5h8.24v8.085h-8.24zM475.06 332.5h8.24v8.085h-8.24zM483.3 332.5h8.24v8.085h-8.24zM491.54 332.5h8.24v8.085h-8.24zM499.78 332.5h8.24v8.085h-8.24zM508.02 332.5h8.24v8.085h-8.24zM516.26 332.5h8.24v8.085h-8.24zM524.5 332.5h8.24v8.085h-8.24zM532.74 332.5h8.24v8.085h-8.24zM425.62 324.42h8.24v8.085h-8.24zM433.86 324.42h8.24v8.085h-8.24zM442.1 324.42h8.24v8.085h-8.24zM450.34 324.42h8.24v8.085h-8.24zM458.58 324.42h8.24v8.085h-8.24zM466.82 324.42h8.24v8.085h-8.24zM475.06 324.42h8.24v8.085h-8.24zM483.3 324.42h8.24v8.085h-8.24zM491.54 324.42h8.24v8.085h-8.24zM499.78 324.42h8.24v8.085h-8.24zM508.02 324.42h8.24v8.085h-8.24zM516.26 324.42h8.24v8.085h-8.24zM524.5 324.42h8.24v8.085h-8.24zM532.74 324.42h8.24v8.085h-8.24zM425.62 316.34h8.24v8.085h-8.24zM433.86 316.34h8.24v8.085h-8.24zM442.1 316.34h8.24v8.085h-8.24zM450.34 316.34h8.24v8.085h-8.24zM458.58 316.34h8.24v8.085h-8.24zM466.82 316.34h8.24v8.085h-8.24zM475.06 316.34h8.24v8.085h-8.24zM483.3 316.34h8.24v8.085h-8.24zM491.54 316.34h8.24v8.085h-8.24zM499.78 316.34h8.24v8.085h-8.24zM508.02 316.34h8.24v8.085h-8.24zM516.26 316.34h8.24v8.085h-8.24zM524.5 316.34h8.24v8.085h-8.24zM532.74 316.34h8.24v8.085h-8.24zM540.98 316.34h8.24v8.085h-8.24zM549.22 316.34h8.24v8.085h-8.24zM450.34 308.25h8.24v8.085h-8.24zM458.58 308.25h8.24v8.085h-8.24zM466.82 308.25h8.24v8.085h-8.24zM475.06 308.25h8.24v8.085h-8.24zM483.3 308.25h8.24v8.085h-8.24zM491.54 308.25h8.24v8.085h-8.24zM499.78 308.25h8.24v8.085h-8.24zM508.02 308.25h8.24v8.085h-8.24zM516.26 308.25h8.24v8.085h-8.24zM524.5 308.25h8.24v8.085h-8.24zM532.74 308.25h8.24v8.085h-8.24zM540.98 308.25h8.24v8.085h-8.24zM549.22 308.25h8.24v8.085h-8.24zM450.34 300.17h8.24v8.085h-8.24zM458.58 300.17h8.24v8.085h-8.24zM466.82 300.17h8.24v8.085h-8.24zM475.06 300.17h8.24v8.085h-8.24zM483.3 300.17h8.24v8.085h-8.24zM491.54 300.17h8.24v8.085h-8.24zM499.78 300.17h8.24v8.085h-8.24zM508.02 300.17h8.24v8.085h-8.24zM516.26 300.17h8.24v8.085h-8.24zM524.5 300.17h8.24v8.085h-8.24zM532.74 300.17h8.24v8.085h-8.24zM540.98 300.17h8.24v8.085h-8.24zM549.22 300.17h8.24v8.085h-8.24zM557.46 300.17h8.24v8.085h-8.24zM565.7 300.17h8.24v8.085h-8.24zM573.94 300.17h8.24v8.085h-8.24zM582.18 300.17h8.24v8.085h-8.24zM450.34 292.08h8.24v8.085h-8.24zM458.58 292.08h8.24v8.085h-8.24zM466.82 292.08h8.24v8.085h-8.24zM475.06 292.08h8.24v8.085h-8.24zM483.3 292.08h8.24v8.085h-8.24zM491.54 292.08h8.24v8.085h-8.24zM499.78 292.08h8.24v8.085h-8.24zM508.02 292.08h8.24v8.085h-8.24zM516.26 292.08h8.24v8.085h-8.24zM524.5 292.08h8.24v8.085h-8.24zM532.74 292.08h8.24v8.085h-8.24zM540.98 292.08h8.24v8.085h-8.24zM549.22 292.08h8.24v8.085h-8.24zM557.46 292.08h8.24v8.085h-8.24zM565.7 292.08h8.24v8.085h-8.24zM573.94 292.08h8.24v8.085h-8.24zM582.18 292.08h8.24v8.085h-8.24zM475.06 284h8.24v8.085h-8.24zM483.3 284h8.24v8.085h-8.24zM491.54 284h8.24v8.085h-8.24zM499.78 284h8.24v8.085h-8.24zM508.02 284h8.24v8.085h-8.24zM516.26 284h8.24v8.085h-8.24zM524.5 284h8.24v8.085h-8.24zM532.74 284h8.24v8.085h-8.24zM540.98 284h8.24v8.085h-8.24zM549.22 284h8.24v8.085h-8.24zM557.46 284h8.24v8.085h-8.24zM565.7 284h8.24v8.085h-8.24zM573.94 284h8.24v8.085h-8.24zM582.18 284h8.24v8.085h-8.24zM491.54 275.91h8.24v8.085h-8.24zM499.78 275.91h8.24v8.085h-8.24zM508.02 275.91h8.24v8.085h-8.24zM516.26 275.91h8.24v8.085h-8.24zM524.5 275.91h8.24v8.085h-8.24zM532.74 275.91h8.24v8.085h-8.24zM540.98 275.91h8.24v8.085h-8.24zM549.22 275.91h8.24v8.085h-8.24zM557.46 275.91h8.24v8.085h-8.24zM565.7 275.91h8.24v8.085h-8.24zM573.94 275.91h8.24v8.085h-8.24zM582.18 275.91h8.24v8.085h-8.24zM491.54 267.83h8.24v8.085h-8.24zM499.78 267.83h8.24v8.085h-8.24zM508.02 267.83h8.24v8.085h-8.24zM516.26 267.83h8.24v8.085h-8.24zM524.5 267.83h8.24v8.085h-8.24zM532.74 267.83h8.24v8.085h-8.24zM540.98 267.83h8.24v8.085h-8.24zM549.22 267.83h8.24v8.085h-8.24zM557.46 267.83h8.24v8.085h-8.24zM565.7 267.83h8.24v8.085h-8.24zM573.94 267.83h8.24v8.085h-8.24zM582.18 267.83h8.24v8.085h-8.24z" fill="none" stroke="#9b968a" stroke-width="0.6"/>
<path d="M13.35 216.76h7.04v6.89h-7.04zM13.35 208.68h7.04v6.89h-7.04zM13.35 200.59h7.04v6.89h-7.04zM29.83 192.51h7.04v6.89h-7.04zM29.83 184.42h7.04v6.89h-7.04zM29.83 176.34h7.04v6.89h-7.04zM46.31 168.25h7.04v6.89h-7.04zM46.31 160.17h7.04v6.89h-7.04zM71.03 152.08h7.04v6.89h-7.04zM71.03 144h7.04v6.89h-7.04zM71.03 135.91h7.04v6.89h-7.04zM95.75 127.83h7.04v6.89h-7.04zM95.75 119.74h7.04v6.89h-7.04zM95.75 111.66h7.04v6.89h-7.04zM120.47 103.57h7.04v6.89h-7.04zM120.47 95.49h7.04v6.89h-7.04zM120.47 87.4h7.04v6.89h-7.04zM153.43 79.32h7.04v6.89h-7.04zM153.43 71.23h7.04v6.89h-7.04zM153.43 63.15h7.04v6.89h-7.04zM169.91 55.06h7.04v6.89h-7.04zM169.91 46.98h7.04v6.89h-7.04zM169.91 38.89h7.04v6.89h-7.04zM169.91 30.81h7.04v6.89h-7.04zM219.35 22.72h7.04v6.89h-7.04zM219.35 14.64h7.04v6.89h-7.04zM244.07 6.55h7.04v6.89h-7.04zM13.5 291h7.04v6.89h-7.04zM13.5 282.92h7.04v6.89h-7.04zM13.5 274.83h7.04v6.89h-7.04zM29.98 266.75h7.04v6.89h-7.04zM29.98 258.66h7.04v6.89h-7.04zM46.46 250.57h7.04v6.89h-7.04zM46.46 242.49h7.04v6.89h-7.04zM79.42 234.4h7.04v6.89h-7.04zM79.42 226.32h7.04v6.89h-7.04zM104.14 218.23h7.04v6.89h-7.04zM104.14 210.15h7.04v6.89h-7.04zM128.86 202.06h7.04v6.89h-7.04zM128.86 193.98h7.04v6.89h-7.04zM137.1 185.89h7.04v6.89h-7.04zM161.82 177.81h7.04v6.89h-7.04zM161.82 169.72h7.04v6.89h-7.04zM178.3 161.64h7.04v6.89h-7.04zM178.3 153.55h7.04v6.89h-7.04zM194.78 145.47h7.04v6.89h-7.04zM194.78 137.38h7.04v6.89h-7.04zM211.26 129.3h7.04v6.89h-7.04zM244.22 121.21h7.04v6.89h-7.04zM244.22 113.13h7.04v6.89h-7.04zM244.22 105.04h7.04v6.89h-7.04zM277.18 96.96h7.04v6.89h-7.04zM277.18 88.87h7.04v6.89h-7.04zM310.14 80.79h7.04v6.89h-7.04zM334.86 72.7h7.04v6.89h-7.04zM334.86 64.62h7.04v6.89h-7.04zM334.86 56.53h7.04v6.89h-7.04zM392.54 48.45h7.04v6.89h-7.04zM392.54 40.36h7.04v6.89h-7.04zM392.54 32.28h7.04v6.89h-7.04zM425.5 24.19h7.04v6.89h-7.04zM425.5 16.11h7.04v6.89h-7.04zM450.22 8.02h7.04v6.89h-7.04zM88.24 389.1h7.04v6.89h-7.04zM88.24 381.02h7.04v6.89h-7.04zM88.24 372.93h7.04v6.89h-7.04zM88.24 364.85h7.04v6.89h-7.04zM88.24 356.76h7.04v6.89h-7.04zM145.92 348.68h7.04v6.89h-7.04zM170.64 340.59h7.04v6.89h-7.04zM170.64 332.5h7.04v6.89h-7.04zM170.64 324.42h7.04v6.89h-7.04zM228.32 316.34h7.04v6.89h-7.04zM228.32 308.25h7.04v6.89h-7.04zM261.28 300.17h7.04v6.89h-7.04zM261.28 292.08h7.04v6.89h-7.04zM261.28 284h7.04v6.89h-7.04zM286 275.91h7.04v6.89h-7.04zM286 267.83h7.04v6.89h-7.04zM286 259.74h7.04v6.89h-7.04zM286 251.65h7.04v6.89h-7.04zM286 243.57h7.04v6.89h-7.04zM343.68 235.48h7.04v6.89h-7.04zM343.68 227.4h7.04v6.89h-7.04zM343.68 219.31h7.04v6.89h-7.04zM343.68 211.23h7.04v6.89h-7.04zM376.64 203.14h7.04v6.89h-7.04zM393.12 195.06h7.04v6.89h-7.04zM442.56 186.97h7.04v6.89h-7.04zM277.9 389.7h7.04v6.89h-7.04zM277.9 381.62h7.04v6.89h-7.04zM343.82 373.53h7.04v6.89h-7.04zM343.82 365.45h7.04v6.89h-7.04zM343.82 357.36h7.04v6.89h-7.04zM343.82 349.28h7.04v6.89h-7.04zM376.78 341.19h7.04v6.89h-7.04zM376.78 333.11h7.04v6.89h-7.04zM426.22 325.02h7.04v6.89h-7.04zM426.22 316.94h7.04v6.89h-7.04zM450.94 308.85h7.04v6.89h-7.04zM450.94 300.77h7.04v6.89h-7.04zM450.94 292.68h7.04v6.89h-7.04zM475.66 284.6h7.04v6.89h-7.04zM492.14 276.51h7.04v6.89h-7.04zM492.14 268.43h7.04v6.89h-7.04z" fill="none" stroke="#2c2c28" stroke-width="0.95"/>
<path d="M16.15 218.16h1.4v1.2h-1.4zM15.45 219.76h2.8v1.8h-2.8zM16.15 210.08h1.4v1.2h-1.4zM15.45 211.68h2.8v1.8h-2.8zM16.15 202h1.4v1.2h-1.4zM15.45 203.59h2.8v1.8h-2.8zM32.63 193.91h1.4v1.2h-1.4zM31.93 195.51h2.8v1.8h-2.8zM32.63 185.82h1.4v1.2h-1.4zM31.93 187.42h2.8v1.8h-2.8zM32.63 177.74h1.4v1.2h-1.4zM31.93 179.34h2.8v1.8h-2.8zM49.11 169.66h1.4v1.2h-1.4zM48.41 171.25h2.8v1.8h-2.8zM49.11 161.57h1.4v1.2h-1.4zM48.41 163.17h2.8v1.8h-2.8zM73.83 153.48h1.4v1.2h-1.4zM73.13 155.08h2.8v1.8h-2.8zM73.83 145.4h1.4v1.2h-1.4zM73.13 147h2.8v1.8h-2.8zM73.83 137.31h1.4v1.2h-1.4zM73.13 138.91h2.8v1.8h-2.8zM98.55 129.23h1.4v1.2h-1.4zM97.85 130.83h2.8v1.8h-2.8zM98.55 121.14h1.4v1.2h-1.4zM97.85 122.74h2.8v1.8h-2.8zM98.55 113.06h1.4v1.2h-1.4zM97.85 114.66h2.8v1.8h-2.8zM123.27 104.97h1.4v1.2h-1.4zM122.57 106.57h2.8v1.8h-2.8zM123.27 96.89h1.4v1.2h-1.4zM122.57 98.49h2.8v1.8h-2.8zM123.27 88.8h1.4v1.2h-1.4zM122.57 90.4h2.8v1.8h-2.8zM156.23 80.72h1.4v1.2h-1.4zM155.53 82.32h2.8v1.8h-2.8zM156.23 72.63h1.4v1.2h-1.4zM155.53 74.23h2.8v1.8h-2.8zM156.23 64.55h1.4v1.2h-1.4zM155.53 66.15h2.8v1.8h-2.8zM172.71 56.46h1.4v1.2h-1.4zM172.01 58.06h2.8v1.8h-2.8zM172.71 48.38h1.4v1.2h-1.4zM172.01 49.98h2.8v1.8h-2.8zM172.71 40.29h1.4v1.2h-1.4zM172.01 41.89h2.8v1.8h-2.8zM172.71 32.21h1.4v1.2h-1.4zM172.01 33.81h2.8v1.8h-2.8zM222.15 24.12h1.4v1.2h-1.4zM221.45 25.72h2.8v1.8h-2.8zM222.15 16.04h1.4v1.2h-1.4zM221.45 17.64h2.8v1.8h-2.8zM246.87 7.95h1.4v1.2h-1.4zM246.17 9.55h2.8v1.8h-2.8zM16.3 292.4h1.4v1.2h-1.4zM15.6 294h2.8v1.8h-2.8zM16.3 284.31h1.4v1.2h-1.4zM15.6 285.92h2.8v1.8h-2.8zM16.3 276.23h1.4v1.2h-1.4zM15.6 277.83h2.8v1.8h-2.8zM32.78 268.14h1.4v1.2h-1.4zM32.08 269.75h2.8v1.8h-2.8zM32.78 260.06h1.4v1.2h-1.4zM32.08 261.66h2.8v1.8h-2.8zM49.26 251.97h1.4v1.2h-1.4zM48.56 253.57h2.8v1.8h-2.8zM49.26 243.89h1.4v1.2h-1.4zM48.56 245.49h2.8v1.8h-2.8zM82.22 235.8h1.4v1.2h-1.4zM81.52 237.4h2.8v1.8h-2.8zM82.22 227.72h1.4v1.2h-1.4zM81.52 229.32h2.8v1.8h-2.8zM106.94 219.63h1.4v1.2h-1.4zM106.24 221.23h2.8v1.8h-2.8zM106.94 211.55h1.4v1.2h-1.4zM106.24 213.15h2.8v1.8h-2.8zM131.66 203.46h1.4v1.2h-1.4zM130.96 205.06h2.8v1.8h-2.8zM131.66 195.38h1.4v1.2h-1.4zM130.96 196.98h2.8v1.8h-2.8zM139.9 187.29h1.4v1.2h-1.4zM139.2 188.89h2.8v1.8h-2.8zM164.62 179.21h1.4v1.2h-1.4zM163.92 180.81h2.8v1.8h-2.8zM164.62 171.12h1.4v1.2h-1.4zM163.92 172.72h2.8v1.8h-2.8zM181.1 163.04h1.4v1.2h-1.4zM180.4 164.64h2.8v1.8h-2.8zM181.1 154.95h1.4v1.2h-1.4zM180.4 156.55h2.8v1.8h-2.8zM197.58 146.87h1.4v1.2h-1.4zM196.88 148.47h2.8v1.8h-2.8zM197.58 138.78h1.4v1.2h-1.4zM196.88 140.38h2.8v1.8h-2.8zM214.06 130.7h1.4v1.2h-1.4zM213.36 132.3h2.8v1.8h-2.8zM247.02 122.61h1.4v1.2h-1.4zM246.32 124.21h2.8v1.8h-2.8zM247.02 114.53h1.4v1.2h-1.4zM246.32 116.13h2.8v1.8h-2.8zM247.02 106.44h1.4v1.2h-1.4zM246.32 108.04h2.8v1.8h-2.8zM279.98 98.36h1.4v1.2h-1.4zM279.28 99.96h2.8v1.8h-2.8zM279.98 90.27h1.4v1.2h-1.4zM279.28 91.87h2.8v1.8h-2.8zM312.94 82.19h1.4v1.2h-1.4zM312.24 83.79h2.8v1.8h-2.8zM337.66 74.1h1.4v1.2h-1.4zM336.96 75.7h2.8v1.8h-2.8zM337.66 66.02h1.4v1.2h-1.4zM336.96 67.62h2.8v1.8h-2.8zM337.66 57.93h1.4v1.2h-1.4zM336.96 59.53h2.8v1.8h-2.8zM395.34 49.85h1.4v1.2h-1.4zM394.64 51.45h2.8v1.8h-2.8zM395.34 41.76h1.4v1.2h-1.4zM394.64 43.36h2.8v1.8h-2.8zM395.34 33.68h1.4v1.2h-1.4zM394.64 35.28h2.8v1.8h-2.8zM428.3 25.59h1.4v1.2h-1.4zM427.6 27.19h2.8v1.8h-2.8zM428.3 17.51h1.4v1.2h-1.4zM427.6 19.11h2.8v1.8h-2.8zM453.02 9.42h1.4v1.2h-1.4zM452.32 11.02h2.8v1.8h-2.8zM91.04 390.5h1.4v1.2h-1.4zM90.34 392.1h2.8v1.8h-2.8zM91.04 382.42h1.4v1.2h-1.4zM90.34 384.02h2.8v1.8h-2.8zM91.04 374.33h1.4v1.2h-1.4zM90.34 375.93h2.8v1.8h-2.8zM91.04 366.25h1.4v1.2h-1.4zM90.34 367.85h2.8v1.8h-2.8zM91.04 358.16h1.4v1.2h-1.4zM90.34 359.76h2.8v1.8h-2.8zM148.72 350.07h1.4v1.2h-1.4zM148.02 351.68h2.8v1.8h-2.8zM173.44 341.99h1.4v1.2h-1.4zM172.74 343.59h2.8v1.8h-2.8zM173.44 333.9h1.4v1.2h-1.4zM172.74 335.5h2.8v1.8h-2.8zM173.44 325.82h1.4v1.2h-1.4zM172.74 327.42h2.8v1.8h-2.8zM231.12 317.74h1.4v1.2h-1.4zM230.42 319.34h2.8v1.8h-2.8zM231.12 309.65h1.4v1.2h-1.4zM230.42 311.25h2.8v1.8h-2.8zM264.08 301.56h1.4v1.2h-1.4zM263.38 303.17h2.8v1.8h-2.8zM264.08 293.48h1.4v1.2h-1.4zM263.38 295.08h2.8v1.8h-2.8zM264.08 285.39h1.4v1.2h-1.4zM263.38 287h2.8v1.8h-2.8zM288.8 277.31h1.4v1.2h-1.4zM288.1 278.91h2.8v1.8h-2.8zM288.8 269.23h1.4v1.2h-1.4zM288.1 270.83h2.8v1.8h-2.8zM288.8 261.14h1.4v1.2h-1.4zM288.1 262.74h2.8v1.8h-2.8zM288.8 253.05h1.4v1.2h-1.4zM288.1 254.65h2.8v1.8h-2.8zM288.8 244.97h1.4v1.2h-1.4zM288.1 246.57h2.8v1.8h-2.8zM346.48 236.88h1.4v1.2h-1.4zM345.78 238.48h2.8v1.8h-2.8zM346.48 228.8h1.4v1.2h-1.4zM345.78 230.4h2.8v1.8h-2.8zM346.48 220.71h1.4v1.2h-1.4zM345.78 222.31h2.8v1.8h-2.8zM346.48 212.63h1.4v1.2h-1.4zM345.78 214.23h2.8v1.8h-2.8zM379.44 204.54h1.4v1.2h-1.4zM378.74 206.14h2.8v1.8h-2.8zM395.92 196.46h1.4v1.2h-1.4zM395.22 198.06h2.8v1.8h-2.8zM445.36 188.37h1.4v1.2h-1.4zM444.66 189.97h2.8v1.8h-2.8zM280.7 391.1h1.4v1.2h-1.4zM280 392.7h2.8v1.8h-2.8zM280.7 383.02h1.4v1.2h-1.4zM280 384.62h2.8v1.8h-2.8zM346.62 374.93h1.4v1.2h-1.4zM345.92 376.53h2.8v1.8h-2.8zM346.62 366.85h1.4v1.2h-1.4zM345.92 368.45h2.8v1.8h-2.8zM346.62 358.76h1.4v1.2h-1.4zM345.92 360.36h2.8v1.8h-2.8zM346.62 350.68h1.4v1.2h-1.4zM345.92 352.28h2.8v1.8h-2.8zM379.58 342.59h1.4v1.2h-1.4zM378.88 344.19h2.8v1.8h-2.8zM379.58 334.5h1.4v1.2h-1.4zM378.88 336.11h2.8v1.8h-2.8zM429.02 326.42h1.4v1.2h-1.4zM428.32 328.02h2.8v1.8h-2.8zM429.02 318.34h1.4v1.2h-1.4zM428.32 319.94h2.8v1.8h-2.8zM453.74 310.25h1.4v1.2h-1.4zM453.04 311.85h2.8v1.8h-2.8zM453.74 302.17h1.4v1.2h-1.4zM453.04 303.77h2.8v1.8h-2.8zM453.74 294.08h1.4v1.2h-1.4zM453.04 295.68h2.8v1.8h-2.8zM478.46 286h1.4v1.2h-1.4zM477.76 287.6h2.8v1.8h-2.8zM494.94 277.91h1.4v1.2h-1.4zM494.24 279.51h2.8v1.8h-2.8zM494.94 269.83h1.4v1.2h-1.4zM494.24 271.43h2.8v1.8h-2.8z" fill="#a9a497"/>
<path d="M219.25 56.86h3.6v5h-3.6zM252.21 40.69h3.6v5h-3.6zM285.17 8.35h3.6v5h-3.6zM54.6 292.8h3.6v5h-3.6zM120.52 268.54h3.6v5h-3.6zM137 252.37h3.6v5h-3.6zM153.48 252.37h3.6v5h-3.6zM145.24 244.29h3.6v5h-3.6zM153.48 236.2h3.6v5h-3.6zM169.96 236.2h3.6v5h-3.6zM153.48 228.12h3.6v5h-3.6zM169.96 228.12h3.6v5h-3.6zM153.48 220.03h3.6v5h-3.6zM169.96 220.03h3.6v5h-3.6zM186.44 220.03h3.6v5h-3.6zM194.68 211.95h3.6v5h-3.6zM202.92 211.95h3.6v5h-3.6zM194.68 203.86h3.6v5h-3.6zM202.92 203.86h3.6v5h-3.6zM194.68 195.78h3.6v5h-3.6zM202.92 195.78h3.6v5h-3.6zM211.16 195.78h3.6v5h-3.6zM219.4 195.78h3.6v5h-3.6zM211.16 187.69h3.6v5h-3.6zM202.92 179.61h3.6v5h-3.6zM219.4 179.61h3.6v5h-3.6zM235.88 179.61h3.6v5h-3.6zM244.12 179.61h3.6v5h-3.6zM260.6 179.61h3.6v5h-3.6zM219.4 171.52h3.6v5h-3.6zM244.12 163.44h3.6v5h-3.6zM260.6 163.44h3.6v5h-3.6zM252.36 147.27h3.6v5h-3.6zM301.8 139.18h3.6v5h-3.6zM318.28 139.18h3.6v5h-3.6zM334.76 139.18h3.6v5h-3.6zM310.04 131.1h3.6v5h-3.6zM326.52 131.1h3.6v5h-3.6zM318.28 123.01h3.6v5h-3.6zM367.72 123.01h3.6v5h-3.6zM293.56 114.93h3.6v5h-3.6zM310.04 114.93h3.6v5h-3.6zM318.28 114.93h3.6v5h-3.6zM326.52 114.93h3.6v5h-3.6zM351.24 106.84h3.6v5h-3.6zM375.96 106.84h3.6v5h-3.6zM384.2 98.76h3.6v5h-3.6zM351.24 90.67h3.6v5h-3.6zM367.72 90.67h3.6v5h-3.6zM384.2 90.67h3.6v5h-3.6zM400.68 90.67h3.6v5h-3.6zM466.6 90.67h3.6v5h-3.6zM343 82.59h3.6v5h-3.6zM400.68 82.59h3.6v5h-3.6zM384.2 74.5h3.6v5h-3.6zM400.68 74.5h3.6v5h-3.6zM433.64 74.5h3.6v5h-3.6zM458.36 74.5h3.6v5h-3.6zM433.64 58.33h3.6v5h-3.6zM450.12 58.33h3.6v5h-3.6zM466.6 58.33h3.6v5h-3.6zM466.6 42.16h3.6v5h-3.6zM203.5 350.47h3.6v5h-3.6zM252.94 342.39h3.6v5h-3.6zM269.42 326.22h3.6v5h-3.6zM310.62 310.05h3.6v5h-3.6zM318.86 310.05h3.6v5h-3.6zM327.1 310.05h3.6v5h-3.6zM327.1 301.96h3.6v5h-3.6zM335.34 293.88h3.6v5h-3.6zM351.82 285.79h3.6v5h-3.6zM368.3 285.79h3.6v5h-3.6zM376.54 277.71h3.6v5h-3.6zM384.78 261.54h3.6v5h-3.6zM401.26 261.54h3.6v5h-3.6zM417.74 261.54h3.6v5h-3.6zM384.78 253.45h3.6v5h-3.6zM401.26 253.45h3.6v5h-3.6zM376.54 245.37h3.6v5h-3.6zM417.74 245.37h3.6v5h-3.6zM376.54 237.28h3.6v5h-3.6zM393.02 237.28h3.6v5h-3.6zM409.5 237.28h3.6v5h-3.6zM425.98 237.28h3.6v5h-3.6zM368.3 229.2h3.6v5h-3.6zM393.02 229.2h3.6v5h-3.6zM417.74 229.2h3.6v5h-3.6zM434.22 229.2h3.6v5h-3.6zM467.18 229.2h3.6v5h-3.6zM417.74 221.11h3.6v5h-3.6zM450.84 334.9h3.6v5h-3.6zM541.48 286.39h3.6v5h-3.6z" fill="#f4f1e8"/>
<g font-size="3.1" fill="#5f594e" text-anchor="end"><text x="10.55" y="221.36">1</text><text x="10.55" y="213.28">2</text><text x="10.55" y="205.19">3</text><text x="27.03" y="197.11">4</text><text x="27.03" y="189.02">5</text><text x="27.03" y="180.94">6</text><text x="43.51" y="172.85">7</text><text x="43.51" y="164.77">8</text><text x="68.23" y="156.68">9</text><text x="68.23" y="148.60">10</text><text x="68.23" y="140.51">11</text><text x="92.95" y="132.43">12</text><text x="92.95" y="124.34">13</text><text x="92.95" y="116.26">14</text><text x="117.67" y="108.17">15</text><text x="117.67" y="100.09">16</text><text x="117.67" y="92.00">17</text><text x="150.63" y="83.92">18</text><text x="150.63" y="75.83">19</text><text x="150.63" y="67.75">20</text><text x="167.11" y="59.66">21</text><text x="167.11" y="51.58">22</text><text x="167.11" y="43.49">23</text><text x="167.11" y="35.41">24</text><text x="216.55" y="27.32">25</text><text x="216.55" y="19.24">26</text><text x="241.27" y="11.15">27</text><text x="10.70" y="295.60">28</text><text x="10.70" y="287.51">29</text><text x="10.70" y="279.43">30</text><text x="27.18" y="271.34">31</text><text x="27.18" y="263.26">32</text><text x="43.66" y="255.17">33</text><text x="43.66" y="247.09">34</text><text x="76.62" y="239.00">35</text><text x="76.62" y="230.92">36</text><text x="101.34" y="222.83">37</text><text x="101.34" y="214.75">38</text><text x="126.06" y="206.66">39</text><text x="126.06" y="198.58">40</text><text x="134.30" y="190.49">41</text><text x="159.02" y="182.41">42</text><text x="159.02" y="174.32">43</text><text x="175.50" y="166.24">44</text><text x="175.50" y="158.15">45</text><text x="191.98" y="150.07">46</text><text x="191.98" y="141.98">47</text><text x="208.46" y="133.90">48</text><text x="241.42" y="125.81">49</text><text x="241.42" y="117.73">50</text><text x="241.42" y="109.64">51</text><text x="274.38" y="101.56">52</text><text x="274.38" y="93.47">53</text><text x="307.34" y="85.39">54</text><text x="332.06" y="77.30">55</text><text x="332.06" y="69.22">56</text><text x="332.06" y="61.13">57</text><text x="389.74" y="53.05">58</text><text x="389.74" y="44.96">59</text><text x="389.74" y="36.88">60</text><text x="422.70" y="28.79">61</text><text x="422.70" y="20.71">62</text><text x="447.42" y="12.62">63</text><text x="85.44" y="393.70">64</text><text x="85.44" y="385.62">65</text><text x="85.44" y="377.53">66</text><text x="85.44" y="369.44">67</text><text x="85.44" y="361.36">68</text><text x="143.12" y="353.27">69</text><text x="167.84" y="345.19">70</text><text x="167.84" y="337.10">71</text><text x="167.84" y="329.02">72</text><text x="225.52" y="320.94">73</text><text x="225.52" y="312.85">74</text><text x="258.48" y="304.76">75</text><text x="258.48" y="296.68">76</text><text x="258.48" y="288.59">77</text><text x="283.20" y="280.51">78</text><text x="283.20" y="272.43">79</text><text x="283.20" y="264.34">80</text><text x="283.20" y="256.25">81</text><text x="283.20" y="248.17">82</text><text x="340.88" y="240.08">83</text><text x="340.88" y="232.00">84</text><text x="340.88" y="223.91">85</text><text x="340.88" y="215.83">86</text><text x="373.84" y="207.74">87</text><text x="390.32" y="199.66">88</text><text x="439.76" y="191.57">89</text><text x="275.10" y="394.30">87</text><text x="275.10" y="386.22">88</text><text x="341.02" y="378.13">89</text><text x="341.02" y="370.05">90</text><text x="341.02" y="361.96">91</text><text x="341.02" y="353.88">92</text><text x="373.98" y="345.79">93</text><text x="373.98" y="337.70">94</text><text x="423.42" y="329.62">95</text><text x="423.42" y="321.54">96</text><text x="448.14" y="313.45">97</text><text x="448.14" y="305.37">98</text><text x="448.14" y="297.28">99</text><text x="472.86" y="289.19">100</text><text x="489.34" y="281.11">101</text><text x="489.34" y="273.03">102</text></g>
<path d="M7.9 221.2V231.9M9.3 231.9H20.5M7.9 295.0V305.7M9.3 305.7H20.5M81.2 386.0V398.5M83.0 398.5H94.6M267.2 389.3V399.90000000000003M269.0 399.90000000000003H280.7" stroke="#a29c90" stroke-width="0.7" fill="none"/>
<path d="M7.1000000000000005 222.79999999999998L7.9 221.2L8.700000000000001 222.79999999999998zM18.9 231.1L20.5 231.9L18.9 232.7zM7.1000000000000005 296.6L7.9 295.0L8.700000000000001 296.6zM18.9 304.9L20.5 305.7L18.9 306.5zM80.4 387.6L81.2 386.0L82.0 387.6zM93.0 397.7L94.6 398.5L93.0 399.3zM266.4 390.90000000000003L267.2 389.3L268.0 390.90000000000003zM279.09999999999997 399.1L280.7 399.90000000000003L279.09999999999997 400.70000000000005z" fill="#6d675c"/>
<g font-size="2.4" fill="#8a8478"><text x="5.5" y="227.4">Z</text><text x="14.9" y="234.8">N</text><text x="5.5" y="301.2">Z</text><text x="14.9" y="308.6">N</text><text x="78.8" y="393.1">Z</text><text x="88.8" y="401.4">N</text><text x="264.8" y="395.5">Z</text><text x="274.9" y="402.8">N</text></g>
<text x="22.4" y="34.8" font-size="7.8" textLength="46.2" lengthAdjust="spacingAndGlyphs" fill="#1d1d1a" font-weight="bold" stroke="#1d1d1a" stroke-width="0.3">Nuklidkarte</text>
<text x="22.3" y="44.3" font-size="2.6" textLength="43.5" lengthAdjust="spacingAndGlyphs" fill="#6f675a" font-style="italic">Herausgegeben vom Bundesministerium</text>
<text x="22.3" y="47.9" font-size="2.6" textLength="47.0" lengthAdjust="spacingAndGlyphs" fill="#6f675a" font-style="italic">für Atomkernenergie und Wasserwirtschaft</text>
<text x="22.3" y="53.7" font-size="2.6" textLength="22.0" lengthAdjust="spacingAndGlyphs" fill="#6f675a" font-style="italic">hergestellt durch die</text>
<text x="22.3" y="58.1" font-size="2.6" textLength="52.2" lengthAdjust="spacingAndGlyphs" fill="#6f675a" font-style="italic">Kernreaktor Bau- und Betriebs-GmbH, Karlsruhe</text>
<text x="22.5" y="71.1" font-size="2.6" textLength="41.2" lengthAdjust="spacingAndGlyphs" fill="#6f675a" font-style="italic">Literatur: Sachstand bis Oktober 1958</text>
<text x="7" y="414.9" font-size="5" textLength="276.6" lengthAdjust="spacingAndGlyphs" fill="#3e3426" stroke="#3e3426" stroke-width="0.12">The first edition of the Karlsruhe Nuclide Chart was published in 1958. The chart contained information on 267 stable and 1030 un-</text>
<text x="7" y="421.7" font-size="5" textLength="276.1" lengthAdjust="spacingAndGlyphs" fill="#3e3426" stroke="#3e3426" stroke-width="0.12">stable nuclides associated with 102 elements from hydrogen to nobelium. The various colours indicated the decay modes known at</text>
<text x="7" y="428.6" font-size="5" textLength="275.5" lengthAdjust="spacingAndGlyphs" fill="#3e3426" stroke="#3e3426" stroke-width="0.12">that time (black = stable nuclide; yellow = α-decay; red = β⁺-decay or electron capture; blue = β⁻-decay, white = isomeric transition)</text><text x="14.4" y="351.2" font-size="1.9" textLength="9.5" lengthAdjust="spacingAndGlyphs" fill="#555">Aufspaltung</text>
<text x="14.4" y="353.6" font-size="1.9" textLength="16.2" lengthAdjust="spacingAndGlyphs" fill="#555">nach Kernzuständen</text>
<text x="40.8" y="351.2" font-size="1.9" textLength="12.0" lengthAdjust="spacingAndGlyphs" fill="#555">Kennzeichnung</text>
<text x="40.8" y="353.6" font-size="1.9" textLength="19.5" lengthAdjust="spacingAndGlyphs" fill="#555">nach radioaktiven Zerfällen</text>
<rect x="14.20" y="356.00" width="8.30" height="8.20" fill="#fdfcf6" stroke="#8d877a" stroke-width="0.6"/>
<rect x="16.40" y="359.20" width="3.60" height="0.80" fill="#9a948a"/>
<rect x="22.50" y="356.00" width="8.10" height="8.20" fill="#fdfcf6" stroke="#8d877a" stroke-width="0.6"/>
<rect x="24.70" y="359.20" width="3.60" height="0.80" fill="#9a948a"/>
<rect x="30.60" y="356.00" width="8.40" height="8.20" fill="#fdfcf6" stroke="#8d877a" stroke-width="0.6"/>
<rect x="32.80" y="359.20" width="3.60" height="0.80" fill="#9a948a"/>
<rect x="14.20" y="364.20" width="8.30" height="8.10" fill="#fdfcf6" stroke="#8d877a" stroke-width="0.6"/>
<rect x="16.40" y="367.40" width="3.60" height="0.80" fill="#9a948a"/>
<rect x="22.50" y="364.20" width="8.10" height="8.10" fill="#fdfcf6" stroke="#8d877a" stroke-width="0.6"/>
<rect x="24.70" y="367.40" width="3.60" height="0.80" fill="#9a948a"/>
<rect x="30.60" y="364.20" width="8.40" height="8.10" fill="#fdfcf6" stroke="#8d877a" stroke-width="0.6"/>
<rect x="32.80" y="367.40" width="3.60" height="0.80" fill="#9a948a"/>
<rect x="14.20" y="372.30" width="8.30" height="8.10" fill="#fdfcf6" stroke="#8d877a" stroke-width="0.6"/>
<rect x="16.40" y="375.50" width="3.60" height="0.80" fill="#9a948a"/>
<rect x="22.50" y="372.30" width="8.10" height="8.10" fill="#fdfcf6" stroke="#8d877a" stroke-width="0.6"/>
<rect x="24.70" y="375.50" width="3.60" height="0.80" fill="#9a948a"/>
<rect x="30.60" y="372.30" width="8.40" height="8.10" fill="#fdfcf6" stroke="#8d877a" stroke-width="0.6"/>
<rect x="32.80" y="375.50" width="3.60" height="0.80" fill="#9a948a"/>
<rect x="14.20" y="380.40" width="8.30" height="8.20" fill="#fdfcf6" stroke="#8d877a" stroke-width="0.6"/>
<rect x="16.40" y="383.60" width="3.60" height="0.80" fill="#9a948a"/>
<rect x="22.50" y="380.40" width="8.10" height="8.20" fill="#fdfcf6" stroke="#8d877a" stroke-width="0.6"/>
<rect x="24.70" y="383.60" width="3.60" height="0.80" fill="#9a948a"/>
<rect x="30.60" y="380.40" width="8.40" height="8.20" fill="#fdfcf6" stroke="#8d877a" stroke-width="0.6"/>
<rect x="32.80" y="383.60" width="3.60" height="0.80" fill="#9a948a"/>
<rect x="14.20" y="388.60" width="8.30" height="8.10" fill="#fdfcf6" stroke="#8d877a" stroke-width="0.6"/>
<rect x="16.40" y="391.80" width="3.60" height="0.80" fill="#9a948a"/>
<rect x="39.80" y="356.00" width="8.70" height="8.20" fill="#fdfcf6" stroke="#8d877a" stroke-width="0.6"/>
<rect x="48.50" y="356.00" width="8.50" height="8.20" fill="#fdfcf6" stroke="#8d877a" stroke-width="0.6"/>
<rect x="39.80" y="364.20" width="8.70" height="8.10" fill="#fdfcf6" stroke="#8d877a" stroke-width="0.6"/>
<rect x="48.50" y="364.20" width="8.50" height="8.10" fill="#fdfcf6" stroke="#8d877a" stroke-width="0.6"/>
<rect x="39.80" y="372.30" width="8.70" height="8.10" fill="#fdfcf6" stroke="#8d877a" stroke-width="0.6"/>
<rect x="48.50" y="372.30" width="8.50" height="8.10" fill="#fdfcf6" stroke="#8d877a" stroke-width="0.6"/>
<rect x="57.00" y="372.30" width="8.20" height="8.10" fill="#fdfcf6" stroke="#8d877a" stroke-width="0.6"/>
<rect x="65.20" y="372.30" width="8.60" height="8.10" fill="#fdfcf6" stroke="#8d877a" stroke-width="0.6"/>
<rect x="39.80" y="380.40" width="8.70" height="8.20" fill="#fdfcf6" stroke="#8d877a" stroke-width="0.6"/>
<rect x="57.00" y="364.20" width="8.20" height="5.00" fill="#fdfcf6" stroke="#777" stroke-width="0.5"/>
<rect x="22.60" y="373.50" width="7.80" height="3.80" fill="#fdfcf6" stroke="#777" stroke-width="0.4"/>
<path d="M42 387L57 369M50 358L58 366M60 368L70 377" stroke="#666" stroke-width="0.4" fill="none"/>
<text x="477.9" y="389.0" font-size="2.6" textLength="19.4" lengthAdjust="spacingAndGlyphs" fill="#4a4438">Zeichenerklärung</text>
<path d="M477.9 389.6h19.4" stroke="#8a8478" stroke-width="0.3"/>
<text x="478.6" y="393.9" font-size="2.0" fill="#666">·</text>
<text x="481.6" y="393.9" font-size="1.9" textLength="14.2" lengthAdjust="spacingAndGlyphs" fill="#666">Alpha-Strahlen (MeV)</text>
<text x="478.6" y="396.63" font-size="2.0" fill="#666">·</text>
<text x="481.6" y="396.63" font-size="1.9" textLength="11.0" lengthAdjust="spacingAndGlyphs" fill="#666">Beta-Strahlen (MeV)</text>
<text x="478.6" y="399.35999999999996" font-size="2.0" fill="#666">·</text>
<text x="481.6" y="399.35999999999996" font-size="1.9" textLength="9.0" lengthAdjust="spacingAndGlyphs" fill="#666">Gamma-Strahlen</text>
<text x="478.6" y="402.09" font-size="2.0" fill="#666">·</text>
<text x="481.6" y="402.09" font-size="1.9" textLength="16.0" lengthAdjust="spacingAndGlyphs" fill="#666">Elektroneneinfang (EC)</text>
<text x="478.6" y="404.82" font-size="2.0" fill="#666">·</text>
<text x="481.6" y="404.82" font-size="1.9" textLength="13.0" lengthAdjust="spacingAndGlyphs" fill="#666">Isomerer Übergang</text>
<text x="478.6" y="407.54999999999995" font-size="2.0" fill="#666">·</text>
<text x="481.6" y="407.54999999999995" font-size="1.9" textLength="6.5" lengthAdjust="spacingAndGlyphs" fill="#666">Neutronen</text>
<text x="478.6" y="410.28" font-size="2.0" fill="#666">·</text>
<text x="481.6" y="410.28" font-size="1.9" textLength="4.5" lengthAdjust="spacingAndGlyphs" fill="#666">Protonen</text>
<text x="478.6" y="413.01" font-size="2.0" fill="#666">·</text>
<text x="481.6" y="413.01" font-size="1.9" textLength="14.5" lengthAdjust="spacingAndGlyphs" fill="#666">Spontane Spaltung</text>
<text x="478.6" y="415.73999999999995" font-size="2.0" fill="#666">·</text>
<text x="481.6" y="415.73999999999995" font-size="1.9" textLength="14.0" lengthAdjust="spacingAndGlyphs" fill="#666">Kernreaktionen</text>
<text x="478.6" y="418.46999999999997" font-size="2.0" fill="#666">·</text>
<text x="481.6" y="418.46999999999997" font-size="1.9" textLength="32.0" lengthAdjust="spacingAndGlyphs" fill="#666">Spaltausbeute bei thermischer Neutronenspaltung</text>
<text x="478.6" y="421.2" font-size="2.0" fill="#666">·</text>
<text x="481.6" y="421.2" font-size="1.9" textLength="30.0" lengthAdjust="spacingAndGlyphs" fill="#666">Spaltausbeute bei Spaltung mit schnellen Neutronen</text>
<text x="478.6" y="423.92999999999995" font-size="2.0" fill="#666">·</text>
<text x="481.6" y="423.92999999999995" font-size="1.9" textLength="12.0" lengthAdjust="spacingAndGlyphs" fill="#666">Neutronenabsorption</text>
<text x="507.5" y="393.9" font-size="2.0" fill="#666">·</text>
<text x="510.0" y="393.9" font-size="1.9" textLength="9.6" lengthAdjust="spacingAndGlyphs" fill="#666">Halbwertszeit</text>
<text x="507.5" y="396.63" font-size="2.0" fill="#666">·</text>
<text x="510.0" y="396.63" font-size="1.9" textLength="8.5" lengthAdjust="spacingAndGlyphs" fill="#666">Wirkungsquerschnitt</text>
<text x="507.5" y="399.35999999999996" font-size="2.0" fill="#666">·</text>
<text x="510.0" y="399.35999999999996" font-size="1.9" textLength="6.5" lengthAdjust="spacingAndGlyphs" fill="#666">Stabilität</text>
<text x="507.5" y="402.09" font-size="2.0" fill="#666">·</text>
<text x="510.0" y="402.09" font-size="1.9" textLength="5.0" lengthAdjust="spacingAndGlyphs" fill="#666">Minute</text>
<text x="507.5" y="404.82" font-size="2.0" fill="#666">·</text>
<text x="510.0" y="404.82" font-size="1.9" textLength="5.2" lengthAdjust="spacingAndGlyphs" fill="#666">Stunde</text>
<text x="507.5" y="407.54999999999995" font-size="2.0" fill="#666">·</text>
<text x="510.0" y="407.54999999999995" font-size="1.9" textLength="4.5" lengthAdjust="spacingAndGlyphs" fill="#666">Tag</text>
<text x="507.5" y="410.28" font-size="2.0" fill="#666">·</text>
<text x="510.0" y="410.28" font-size="1.9" textLength="4.0" lengthAdjust="spacingAndGlyphs" fill="#666">Jahr</text>
<text x="533" y="349.3" font-size="1.9" textLength="5.4" lengthAdjust="spacingAndGlyphs" fill="#555">Element</text>
<text x="533" y="366.0" font-size="1.9" textLength="11.0" lengthAdjust="spacingAndGlyphs" fill="#555">stabile Nuklide</text>
<text x="533" y="382.3" font-size="1.9" textLength="12.0" lengthAdjust="spacingAndGlyphs" fill="#555">radioaktive Nuklide</text>
<text x="533" y="396.0" font-size="1.9" textLength="20.5" lengthAdjust="spacingAndGlyphs" fill="#555">α-aktive und β-aktive Nuklide</text>
<text x="533" y="411.7" font-size="1.9" textLength="13.0" lengthAdjust="spacingAndGlyphs" fill="#555">α-aktive Nuklide</text>
<text x="533" y="398.6" font-size="1.9" textLength="12.0" lengthAdjust="spacingAndGlyphs" fill="#555">Elektroneneinfang</text>
<text x="533" y="414.4" font-size="1.9" textLength="10.0" lengthAdjust="spacingAndGlyphs" fill="#555">Kernspaltung</text>
<rect x="533.20" y="351.60" width="7.00" height="7.40" fill="#fdfcf6" stroke="#2a2a26" stroke-width="1.0"/>
<rect x="533.00" y="367.70" width="8.20" height="8.60" fill="#20261f"/>
<rect x="533.00" y="383.90" width="8.20" height="8.60" fill="#a3b2cb"/>
<rect x="533.00" y="400.00" width="8.20" height="8.70" fill="#20261f"/>
<path d="M533 408.7V404.5L541.2 400.2V408.7Z" fill="#a3b2cb"/><path d="M533 404.5L541.2 400.2V402L533 408.7Z" fill="#ee8b89"/>
<rect x="533.00" y="416.30" width="8.20" height="7.80" fill="#f3df3c"/>
<rect x="533.40" y="417.50" width="3.50" height="1.40" fill="#20261f"/>
<rect x="542.20" y="352.10" width="10.00" height="0.70" fill="#9a948a"/>
<rect x="542.20" y="354.00" width="20.00" height="0.70" fill="#9a948a"/>
<rect x="542.20" y="355.90" width="18.00" height="0.70" fill="#9a948a"/>
<rect x="542.20" y="357.80" width="16.00" height="0.70" fill="#9a948a"/>
<rect x="542.20" y="368.30" width="18.00" height="0.70" fill="#9a948a"/>
<rect x="542.20" y="370.20" width="15.00" height="0.70" fill="#9a948a"/>
<rect x="542.20" y="372.10" width="20.00" height="0.70" fill="#9a948a"/>
<rect x="542.20" y="374.00" width="13.00" height="0.70" fill="#9a948a"/>
<rect x="542.20" y="384.50" width="18.00" height="0.70" fill="#9a948a"/>
<rect x="542.20" y="386.40" width="15.00" height="0.70" fill="#9a948a"/>
<rect x="542.20" y="388.30" width="20.00" height="0.70" fill="#9a948a"/>
<rect x="542.20" y="390.20" width="13.00" height="0.70" fill="#9a948a"/>
<rect x="542.20" y="400.70" width="18.00" height="0.70" fill="#9a948a"/>
<rect x="542.20" y="402.60" width="15.00" height="0.70" fill="#9a948a"/>
<rect x="542.20" y="404.50" width="20.00" height="0.70" fill="#9a948a"/>
<rect x="542.20" y="406.40" width="13.00" height="0.70" fill="#9a948a"/>
<rect x="542.20" y="416.90" width="18.00" height="0.70" fill="#9a948a"/>
<rect x="542.20" y="418.80" width="15.00" height="0.70" fill="#9a948a"/>
<rect x="542.20" y="420.70" width="20.00" height="0.70" fill="#9a948a"/>
<rect x="542.20" y="422.60" width="13.00" height="0.70" fill="#9a948a"/>
<text x="574.2" y="349.3" font-size="1.9" textLength="12.5" lengthAdjust="spacingAndGlyphs" fill="#555">isomere Zustände</text>
<text x="574.2" y="351.5" font-size="1.9" textLength="8.0" lengthAdjust="spacingAndGlyphs" fill="#555">(alle Arten)</text>
<text x="574.2" y="353.7" font-size="1.9" textLength="9.0" lengthAdjust="spacingAndGlyphs" fill="#555">bei Zerfällen</text>
<rect x="574.20" y="354.90" width="8.40" height="8.40" fill="#fdfcf6" stroke="#555" stroke-width="0.4"/>
<rect x="578.60" y="354.90" width="4.00" height="8.40" fill="#20261f"/>
<text x="574.2" y="367.4" font-size="1.9" textLength="3.8" lengthAdjust="spacingAndGlyphs" fill="#555">Kern</text>
<text x="574.2" y="369.6" font-size="1.9" textLength="10.5" lengthAdjust="spacingAndGlyphs" fill="#555">über Neutronen</text>
<rect x="574.20" y="371.00" width="8.40" height="8.70" fill="#ee8b89"/>
<rect x="574.80" y="371.60" width="2.80" height="5.80" fill="#fdfcf6"/>
<text x="574.2" y="385.6" font-size="1.9" textLength="9.5" lengthAdjust="spacingAndGlyphs" fill="#555">Nuklidpaare</text>
<rect x="574.20" y="387.70" width="8.40" height="8.60" fill="#20261f"/>
<rect x="582.60" y="395.90" width="8.20" height="8.60" fill="#a3b2cb"/>
</svg>

</div></body></html>
